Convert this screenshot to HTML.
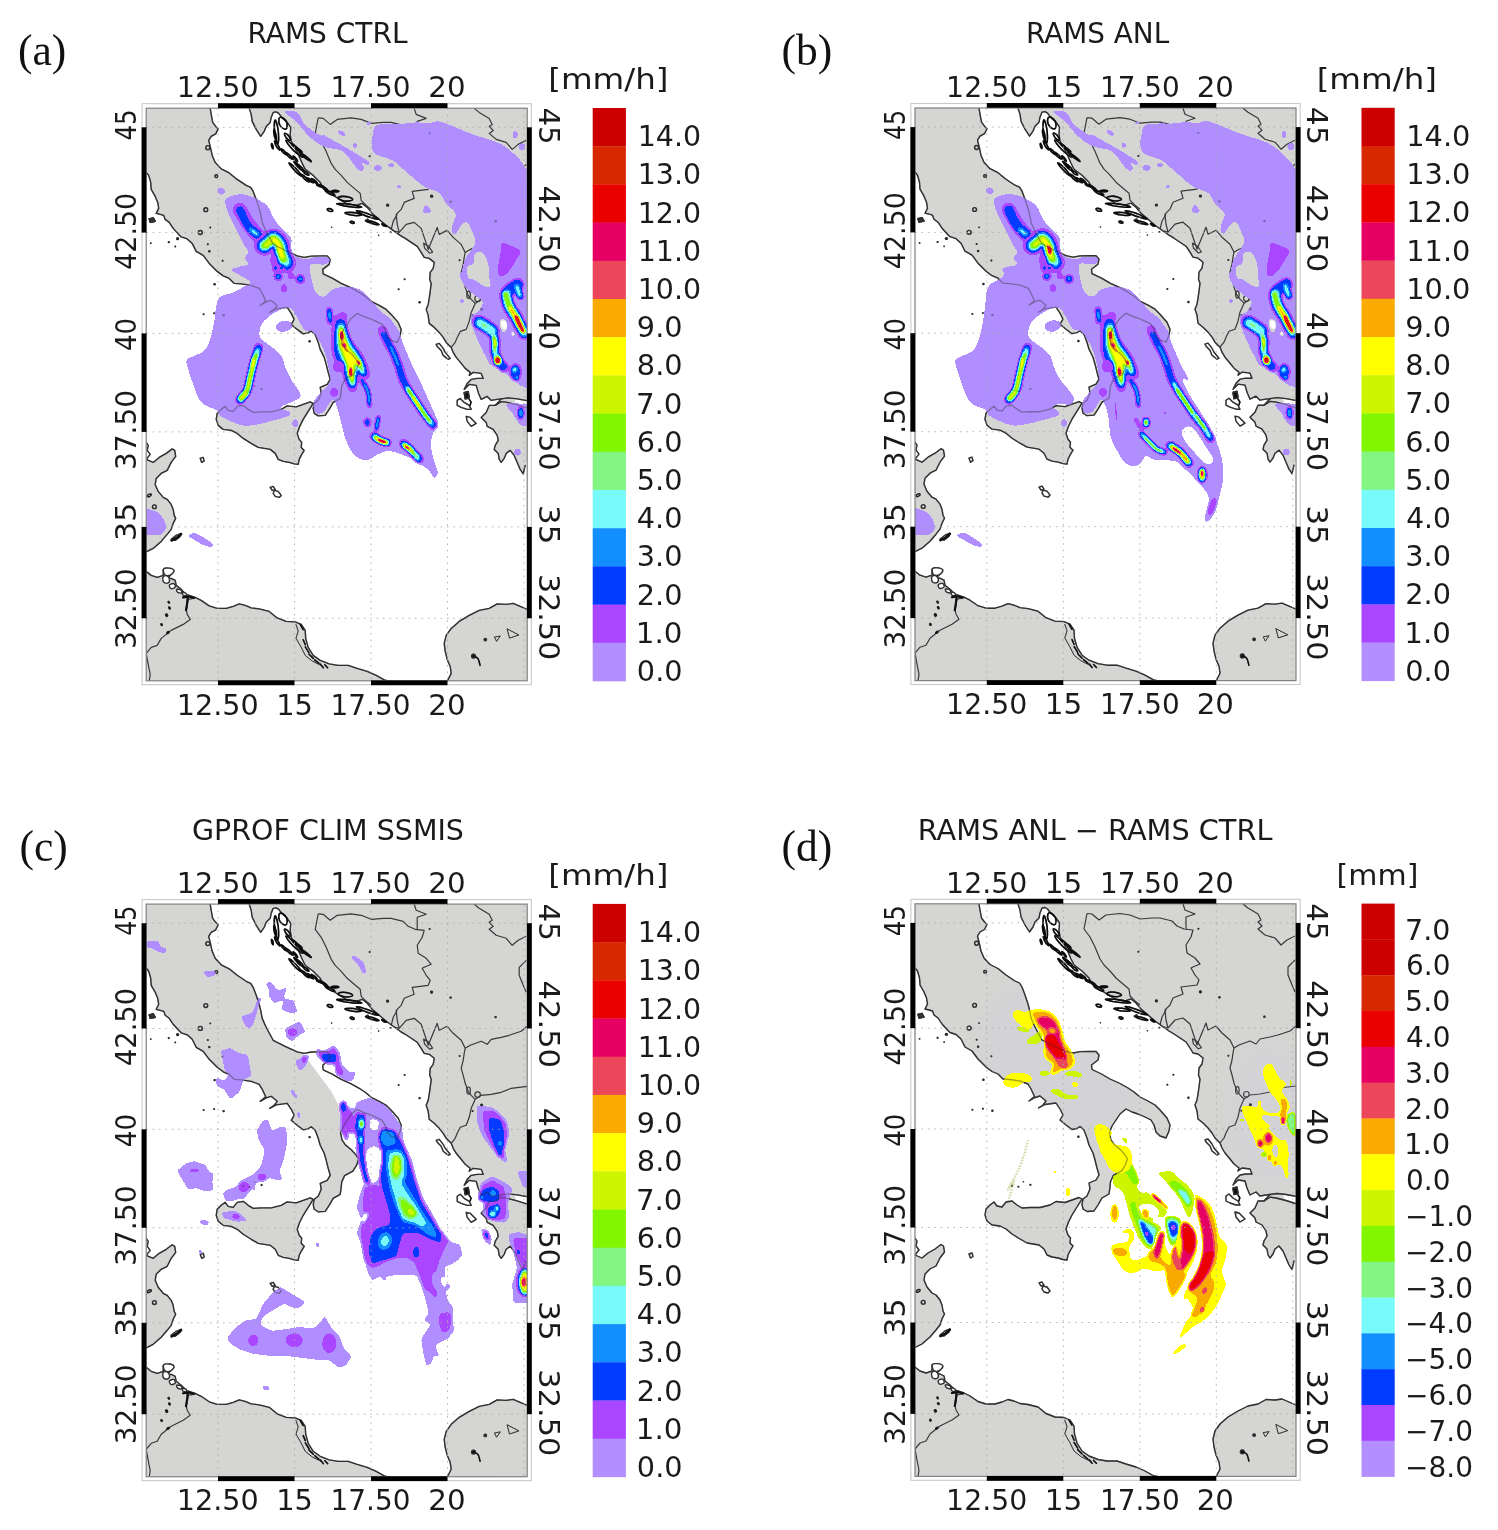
<!DOCTYPE html>
<html><head><meta charset="utf-8"><title>RAMS precipitation maps</title>
<style>
html,body{margin:0;padding:0;background:#fff}
svg{display:block}
.t{font-family:"DejaVu Sans","Liberation Sans",sans-serif;fill:#1a1a1a}
.s{font-family:"Liberation Serif","DejaVu Serif",serif;fill:#111}
</style></head><body>
<svg width="1498" height="1530" viewBox="0 0 1498 1530">
<rect width="1498" height="1530" fill="#fff"/>
<defs>
<clipPath id="clip"><rect x="4.6" y="5.0" width="381.0" height="572.6"/></clipPath>
<filter id="soft" x="-5%" y="-5%" width="110%" height="110%"><feGaussianBlur stdDeviation="0.7"/></filter>
<filter id="soft2" x="-5%" y="-5%" width="110%" height="110%"><feGaussianBlur stdDeviation="0.45"/></filter>

<filter id="cmA" filterUnits="userSpaceOnUse" x="-12" y="-12" width="414" height="606" color-interpolation-filters="sRGB"><feGaussianBlur stdDeviation="1.15"/><feColorMatrix type="matrix" values="1 0 0 0 0  0 1 0 0 0  0 0 1 0 0  1 0 0 0 0"/><feComponentTransfer><feFuncR type="discrete" tableValues="0 0.698 0.667 0.000 0.071 0.471 0.510 0.510 0.804 1.000 0.980 0.922 0.902 0.922 0.843 0.804"/><feFuncG type="discrete" tableValues="0 0.557 0.275 0.235 0.557 0.980 0.961 0.961 0.961 1.000 0.667 0.275 0.000 0.000 0.157 0.000"/><feFuncB type="discrete" tableValues="0 1.000 1.000 1.000 1.000 0.980 0.510 0.000 0.000 0.000 0.000 0.353 0.392 0.000 0.000 0.000"/><feFuncA type="discrete" tableValues="0 1 1 1 1 1 1 1 1 1 1 1 1 1 1 1"/></feComponentTransfer><feGaussianBlur stdDeviation="0.55"/></filter>
<filter id="cmC" filterUnits="userSpaceOnUse" x="-12" y="-12" width="414" height="606" color-interpolation-filters="sRGB"><feGaussianBlur stdDeviation="1.6"/><feColorMatrix type="matrix" values="1 0 0 0 0  0 1 0 0 0  0 0 1 0 0  1 0 0 0 0"/><feComponentTransfer><feFuncR type="discrete" tableValues="0 0.698 0.667 0.000 0.071 0.471 0.510 0.510 0.804 1.000 0.980 0.922 0.902 0.922 0.843 0.804"/><feFuncG type="discrete" tableValues="0 0.557 0.275 0.235 0.557 0.980 0.961 0.961 0.961 1.000 0.667 0.275 0.000 0.000 0.157 0.000"/><feFuncB type="discrete" tableValues="0 1.000 1.000 1.000 1.000 0.980 0.510 0.000 0.000 0.000 0.000 0.353 0.392 0.000 0.000 0.000"/><feFuncA type="discrete" tableValues="0 1 1 1 1 1 1 1 1 1 1 1 1 1 1 1"/></feComponentTransfer><feGaussianBlur stdDeviation="0.55"/></filter>
<filter id="cmP" filterUnits="userSpaceOnUse" x="-12" y="-12" width="414" height="606" color-interpolation-filters="sRGB"><feGaussianBlur stdDeviation="1.1"/><feColorMatrix type="matrix" values="1 0 0 0 0  0 1 0 0 0  0 0 1 0 0  1 0 0 0 0"/><feComponentTransfer><feFuncR type="discrete" tableValues="0 1.000 0.980 0.922 0.902 0.922 0.843 0.804 0.804"/><feFuncG type="discrete" tableValues="0 1.000 0.667 0.275 0.000 0.000 0.157 0.000 0.000"/><feFuncB type="discrete" tableValues="0 0.000 0.000 0.353 0.392 0.000 0.000 0.000 0.000"/><feFuncA type="discrete" tableValues="0 1 1 1 1 1 1 1 1"/></feComponentTransfer><feGaussianBlur stdDeviation="0.55"/></filter>
<filter id="cmN" filterUnits="userSpaceOnUse" x="-12" y="-12" width="414" height="606" color-interpolation-filters="sRGB"><feGaussianBlur stdDeviation="1.1"/><feColorMatrix type="matrix" values="1 0 0 0 0  0 1 0 0 0  0 0 1 0 0  1 0 0 0 0"/><feComponentTransfer><feFuncR type="discrete" tableValues="0 0.804 0.510 0.510 0.471 0.071 0.000 0.667 0.698"/><feFuncG type="discrete" tableValues="0 0.961 0.961 0.961 0.980 0.557 0.235 0.275 0.557"/><feFuncB type="discrete" tableValues="0 0.000 0.000 0.510 0.980 1.000 1.000 1.000 1.000"/><feFuncA type="discrete" tableValues="0 1 1 1 1 1 1 1 1"/></feComponentTransfer><feGaussianBlur stdDeviation="0.55"/></filter>
<clipPath id="italyclip"><path d="M4.6,5.0 L4.6,69.2 L4.6,69.2 L7.1,72.2 L9.1,79.2 L9.6,86.2 L13.6,93.2 L16.1,99.2 L17.1,105.2 L14.6,110.2 L18.6,111.2 L22.1,112.2 L23.6,116.2 L27.6,119.2 L31.6,125.2 L36.6,130.7 L39.6,133.7 L45.6,135.7 L50.6,140.2 L54.6,148.2 L61.6,152.2 L67.6,160.2 L75.6,168.2 L81.6,172.7 L87.6,175.2 L92.6,180.2 L99.6,180.7 L109.6,182.2 L117.6,185.2 L120.6,190.2 L124.1,197.7 L118.6,202.2 L124.6,198.7 L129.6,197.2 L135.6,202.2 L132.6,206.2 L128.1,209.2 L134.6,205.7 L145.6,204.2 L149.6,210.2 L152.6,216.2 L149.6,221.2 L155.6,226.2 L161.6,230.7 L166.6,229.7 L169.6,227.7 L173.6,231.2 L176.6,239.2 L178.6,246.2 L182.6,254.2 L184.6,261.2 L186.6,269.2 L188.6,276.2 L185.6,281.2 L178.6,284.2 L179.6,290.2 L176.6,297.2 L172.6,300.2 L171.6,305.2 L172.6,310.2 L176.6,312.7 L183.6,312.2 L187.6,306.2 L191.6,299.2 L198.6,295.2 L191.6,299.2 L198.6,295.2 L199.5,289.0 L200.1,283.0 L203.0,276.5 L211.3,272.0 L215.0,266.0 L217.0,260.0 L214.5,256.0 L209.7,250.6 L204.0,246.0 L200.5,241.0 L199.0,234.0 L201.6,227.2 L205.6,221.2 L209.6,215.2 L215.6,210.2 L221.6,213.2 L227.6,215.2 L234.6,218.2 L240.6,221.2 L243.6,226.2 L245.6,233.2 L249.6,237.2 L255.6,239.2 L258.6,232.2 L259.6,226.2 L256.6,219.2 L249.6,211.2 L244.6,206.2 L237.6,202.2 L229.6,198.2 L223.6,193.2 L217.6,189.2 L209.6,184.7 L199.6,180.2 L191.1,175.2 L181.6,170.7 L181.1,166.2 L187.6,161.2 L188.6,156.2 L185.6,152.7 L179.6,152.7 L169.6,152.9 L162.6,154.2 L155.6,152.7 L144.6,147.7 L131.6,141.2 L125.6,130.2 L123.6,126.2 L120.6,119.2 L119.1,111.2 L117.6,105.2 L114.6,96.2 L111.6,88.2 L109.1,84.2 L104.6,82.2 L95.6,76.2 L87.6,69.7 L79.6,65.7 L73.6,59.2 L70.6,52.2 L68.6,43.2 L67.1,37.2 L69.6,33.2 L74.1,30.7 L76.6,25.7 L74.1,23.2 L71.1,19.2 L69.6,11.2 L68.6,5.2 L68.6,5.0Z"/></clipPath><clipPath id="balkclip"><path d="M107.6,5.0 L107.6,5.2 L109.6,11.2 L110.6,18.2 L114.6,26.2 L119.1,33.2 L122.6,28.2 L124.6,23.2 L128.6,19.2 L129.6,14.2 L131.6,9.2 L134.6,8.7 L137.1,10.2 L140.6,14.7 L145.6,19.2 L149.1,24.2 L148.6,31.2 L149.6,38.2 L153.6,45.2 L157.6,53.2 L160.6,60.2 L163.6,66.2 L171.6,72.2 L178.6,79.2 L181.6,85.2 L187.6,89.7 L195.6,94.7 L204.6,100.2 L214.6,102.2 L220.6,100.2 L225.6,104.2 L230.6,110.2 L237.6,116.2 L244.6,122.2 L251.6,127.2 L258.6,132.2 L263.6,135.2 L269.6,139.2 L275.6,143.2 L279.6,149.2 L282.6,154.2 L287.6,155.2 L292.6,159.2 L291.6,165.2 L288.6,169.2 L288.1,176.2 L289.6,180.2 L288.6,188.2 L287.6,195.2 L286.6,201.2 L284.6,206.2 L286.6,212.2 L287.6,220.2 L292.6,224.2 L297.6,229.2 L301.6,234.2 L304.6,239.2 L309.6,244.2 L311.6,249.2 L314.6,254.2 L319.6,260.2 L323.6,265.2 L328.6,269.2 L327.6,272.2 L331.6,269.2 L339.6,270.2 L341.6,275.2 L335.6,275.2 L329.6,276.2 L325.6,280.2 L322.6,286.2 L327.6,281.2 L334.6,282.2 L336.6,289.2 L339.6,296.2 L345.6,293.2 L349.6,297.2 L355.6,296.2 L359.6,295.7 L353.6,302.2 L347.6,302.2 L344.6,309.2 L339.6,314.2 L344.6,319.2 L345.6,323.2 L351.6,326.2 L355.6,332.2 L356.6,337.2 L353.6,342.2 L352.6,346.2 L356.6,350.2 L357.6,356.2 L359.6,359.2 L362.6,355.2 L364.6,350.2 L368.6,347.2 L372.6,352.2 L375.6,359.2 L378.6,366.2 L381.6,370.7 L383.6,362.2 L385.6,356.2 L385.6,5.0Z"/></clipPath>
<filter id="soft3" x="-30%" y="-30%" width="160%" height="160%"><feGaussianBlur stdDeviation="9"/></filter>
<g id="land" fill="#d5d5d3" stroke="none">
<path d="M4.6,5.0 L4.6,69.2 L4.6,69.2 L7.1,72.2 L9.1,79.2 L9.6,86.2 L13.6,93.2 L16.1,99.2 L17.1,105.2 L14.6,110.2 L18.6,111.2 L22.1,112.2 L23.6,116.2 L27.6,119.2 L31.6,125.2 L36.6,130.7 L39.6,133.7 L45.6,135.7 L50.6,140.2 L54.6,148.2 L61.6,152.2 L67.6,160.2 L75.6,168.2 L81.6,172.7 L87.6,175.2 L92.6,180.2 L99.6,180.7 L109.6,182.2 L117.6,185.2 L120.6,190.2 L124.1,197.7 L118.6,202.2 L124.6,198.7 L129.6,197.2 L135.6,202.2 L132.6,206.2 L128.1,209.2 L134.6,205.7 L145.6,204.2 L149.6,210.2 L152.6,216.2 L149.6,221.2 L155.6,226.2 L161.6,230.7 L166.6,229.7 L169.6,227.7 L173.6,231.2 L176.6,239.2 L178.6,246.2 L182.6,254.2 L184.6,261.2 L186.6,269.2 L188.6,276.2 L185.6,281.2 L178.6,284.2 L179.6,290.2 L176.6,297.2 L172.6,300.2 L171.6,305.2 L172.6,310.2 L176.6,312.7 L183.6,312.2 L187.6,306.2 L191.6,299.2 L198.6,295.2 L191.6,299.2 L198.6,295.2 L199.5,289.0 L200.1,283.0 L203.0,276.5 L211.3,272.0 L215.0,266.0 L217.0,260.0 L214.5,256.0 L209.7,250.6 L204.0,246.0 L200.5,241.0 L199.0,234.0 L201.6,227.2 L205.6,221.2 L209.6,215.2 L215.6,210.2 L221.6,213.2 L227.6,215.2 L234.6,218.2 L240.6,221.2 L243.6,226.2 L245.6,233.2 L249.6,237.2 L255.6,239.2 L258.6,232.2 L259.6,226.2 L256.6,219.2 L249.6,211.2 L244.6,206.2 L237.6,202.2 L229.6,198.2 L223.6,193.2 L217.6,189.2 L209.6,184.7 L199.6,180.2 L191.1,175.2 L181.6,170.7 L181.1,166.2 L187.6,161.2 L188.6,156.2 L185.6,152.7 L179.6,152.7 L169.6,152.9 L162.6,154.2 L155.6,152.7 L144.6,147.7 L131.6,141.2 L125.6,130.2 L123.6,126.2 L120.6,119.2 L119.1,111.2 L117.6,105.2 L114.6,96.2 L111.6,88.2 L109.1,84.2 L104.6,82.2 L95.6,76.2 L87.6,69.7 L79.6,65.7 L73.6,59.2 L70.6,52.2 L68.6,43.2 L67.1,37.2 L69.6,33.2 L74.1,30.7 L76.6,25.7 L74.1,23.2 L71.1,19.2 L69.6,11.2 L68.6,5.2 L68.6,5.0Z"/>
<path d="M107.6,5.0 L107.6,5.2 L109.6,11.2 L110.6,18.2 L114.6,26.2 L119.1,33.2 L122.6,28.2 L124.6,23.2 L128.6,19.2 L129.6,14.2 L131.6,9.2 L134.6,8.7 L137.1,10.2 L140.6,14.7 L145.6,19.2 L149.1,24.2 L148.6,31.2 L149.6,38.2 L153.6,45.2 L157.6,53.2 L160.6,60.2 L163.6,66.2 L171.6,72.2 L178.6,79.2 L181.6,85.2 L187.6,89.7 L195.6,94.7 L204.6,100.2 L214.6,102.2 L220.6,100.2 L225.6,104.2 L230.6,110.2 L237.6,116.2 L244.6,122.2 L251.6,127.2 L258.6,132.2 L263.6,135.2 L269.6,139.2 L275.6,143.2 L279.6,149.2 L282.6,154.2 L287.6,155.2 L292.6,159.2 L291.6,165.2 L288.6,169.2 L288.1,176.2 L289.6,180.2 L288.6,188.2 L287.6,195.2 L286.6,201.2 L284.6,206.2 L286.6,212.2 L287.6,220.2 L292.6,224.2 L297.6,229.2 L301.6,234.2 L304.6,239.2 L309.6,244.2 L311.6,249.2 L314.6,254.2 L319.6,260.2 L323.6,265.2 L328.6,269.2 L327.6,272.2 L331.6,269.2 L339.6,270.2 L341.6,275.2 L335.6,275.2 L329.6,276.2 L325.6,280.2 L322.6,286.2 L327.6,281.2 L334.6,282.2 L336.6,289.2 L339.6,296.2 L345.6,293.2 L349.6,297.2 L355.6,296.2 L359.6,295.7 L353.6,302.2 L347.6,302.2 L344.6,309.2 L339.6,314.2 L344.6,319.2 L345.6,323.2 L351.6,326.2 L355.6,332.2 L356.6,337.2 L353.6,342.2 L352.6,346.2 L356.6,350.2 L357.6,356.2 L359.6,359.2 L362.6,355.2 L364.6,350.2 L368.6,347.2 L372.6,352.2 L375.6,359.2 L378.6,366.2 L381.6,370.7 L383.6,362.2 L385.6,356.2 L385.6,5.0Z"/>
<path d="M74.6,316.2 L75.6,310.2 L79.6,306.2 L83.6,303.2 L86.6,307.2 L91.6,308.2 L95.6,303.2 L101.6,302.2 L106.6,306.2 L111.6,309.2 L119.6,308.7 L129.6,308.7 L139.6,306.2 L145.6,302.7 L154.6,303.7 L161.6,301.2 L168.6,298.7 L171.6,300.2 L166.6,308.2 L161.6,316.2 L158.1,323.2 L155.6,330.2 L157.6,336.2 L160.1,339.2 L159.6,344.2 L162.6,347.2 L159.6,352.2 L157.6,356.2 L156.6,361.2 L152.6,360.7 L147.6,359.2 L141.6,358.2 L136.6,356.2 L133.6,350.2 L128.6,346.2 L119.6,344.7 L116.6,344.2 L109.6,340.2 L101.6,335.2 L95.6,330.2 L89.6,327.2 L81.6,326.2 L76.6,322.2Z"/>
<path d="M4.6,356.2 L11.6,359.2 L17.6,354.2 L24.6,350.2 L30.6,345.7 L33.1,347.2 L34.1,353.2 L29.6,359.2 L25.6,367.2 L19.6,370.2 L14.6,375.2 L13.6,381.2 L16.6,388.2 L21.6,394.2 L25.6,396.2 L29.6,401.2 L31.6,406.2 L32.6,412.2 L34.1,415.2 L31.6,420.2 L29.6,426.2 L25.6,431.2 L19.6,438.2 L11.6,445.2 L4.6,448.7Z"/>
<path d="M4.6,468.2 L9.6,472.2 L15.6,474.2 L21.6,472.2 L21.6,466.2 L28.6,465.2 L31.6,468.2 L28.6,472.2 L25.6,475.2 L29.6,475.2 L33.6,477.2 L34.6,482.2 L39.6,486.2 L44.6,491.2 L53.6,494.2 L59.6,497.2 L67.6,502.7 L75.6,505.2 L84.6,505.2 L91.6,503.2 L97.6,500.7 L103.6,502.2 L109.6,504.7 L117.6,505.7 L127.6,508.2 L135.6,514.7 L144.6,518.2 L153.6,518.7 L159.6,521.2 L163.6,527.2 L164.1,535.2 L166.6,544.2 L171.6,552.2 L178.6,557.2 L187.6,560.7 L196.6,562.2 L206.6,562.2 L215.6,565.2 L225.6,568.2 L234.6,572.2 L242.6,576.7 L248.6,578.2 L248.6,577.6 L4.6,577.6Z"/>
<path d="M305.6,578.2 L309.6,570.2 L308.6,563.2 L305.6,556.2 L303.6,548.2 L302.6,540.2 L304.6,532.2 L309.6,525.2 L317.6,518.2 L327.6,512.2 L337.6,507.2 L347.6,505.2 L355.6,500.7 L364.6,501.2 L371.6,500.2 L378.6,503.2 L385.6,506.2 L385.6,577.6Z"/>
<path d="M4.6,5.0 L4.6,339.2 L4.6,339.2 L6.6,342.2 L5.6,347.2 L8.6,351.2 L4.6,356.2 L4.6,356.2Z" fill="none"/>
<path d="M372.6,295.8 L379.6,296.5 L386.6,297.7 L386.6,305.2 L379.6,303.2 L374.6,301.2Z" fill="#fff"/>
</g>
<g id="coast" fill="none" stroke="#303030" stroke-width="1.35" stroke-linejoin="round" stroke-linecap="round">
<path d="M4.6,69.2 L7.1,72.2 L9.1,79.2 L9.6,86.2 L13.6,93.2 L16.1,99.2 L17.1,105.2 L14.6,110.2 L18.6,111.2 L22.1,112.2 L23.6,116.2 L27.6,119.2 L31.6,125.2 L36.6,130.7 L39.6,133.7 L45.6,135.7 L50.6,140.2 L54.6,148.2 L61.6,152.2 L67.6,160.2 L75.6,168.2 L81.6,172.7 L87.6,175.2 L92.6,180.2 L99.6,180.7 L109.6,182.2 L117.6,185.2 L120.6,190.2 L124.1,197.7 L118.6,202.2 L124.6,198.7 L129.6,197.2 L135.6,202.2 L132.6,206.2 L128.1,209.2 L134.6,205.7 L145.6,204.2 L149.6,210.2 L152.6,216.2 L149.6,221.2 L155.6,226.2 L161.6,230.7 L166.6,229.7 L169.6,227.7 L173.6,231.2 L176.6,239.2 L178.6,246.2 L182.6,254.2 L184.6,261.2 L186.6,269.2 L188.6,276.2 L185.6,281.2 L178.6,284.2 L179.6,290.2 L176.6,297.2 L172.6,300.2 L171.6,305.2 L172.6,310.2 L176.6,312.7 L183.6,312.2 L187.6,306.2 L191.6,299.2 L198.6,295.2 L191.6,299.2 L198.6,295.2 L199.5,289.0 L200.1,283.0 L203.0,276.5 L211.3,272.0 L215.0,266.0 L217.0,260.0 L214.5,256.0 L209.7,250.6 L204.0,246.0 L200.5,241.0 L199.0,234.0 L201.6,227.2 L205.6,221.2 L209.6,215.2 L215.6,210.2 L221.6,213.2 L227.6,215.2 L234.6,218.2 L240.6,221.2 L243.6,226.2 L245.6,233.2 L249.6,237.2 L255.6,239.2 L258.6,232.2 L259.6,226.2 L256.6,219.2 L249.6,211.2 L244.6,206.2 L237.6,202.2 L229.6,198.2 L223.6,193.2 L217.6,189.2 L209.6,184.7 L199.6,180.2 L191.1,175.2 L181.6,170.7 L181.1,166.2 L187.6,161.2 L188.6,156.2 L185.6,152.7 L179.6,152.7 L169.6,152.9 L162.6,154.2 L155.6,152.7 L144.6,147.7 L131.6,141.2 L125.6,130.2 L123.6,126.2 L120.6,119.2 L119.1,111.2 L117.6,105.2 L114.6,96.2 L111.6,88.2 L109.1,84.2 L104.6,82.2 L95.6,76.2 L87.6,69.7 L79.6,65.7 L73.6,59.2 L70.6,52.2 L68.6,43.2 L67.1,37.2 L69.6,33.2 L74.1,30.7 L76.6,25.7 L74.1,23.2 L71.1,19.2 L69.6,11.2 L68.6,5.2"/>
<path d="M107.6,5.2 L109.6,11.2 L110.6,18.2 L114.6,26.2 L119.1,33.2 L122.6,28.2 L124.6,23.2 L128.6,19.2 L129.6,14.2 L131.6,9.2 L134.6,8.7 L137.1,10.2 L140.6,14.7 L145.6,19.2 L149.1,24.2 L148.6,31.2 L149.6,38.2 L153.6,45.2 L157.6,53.2 L160.6,60.2 L163.6,66.2 L171.6,72.2 L178.6,79.2 L181.6,85.2 L187.6,89.7 L195.6,94.7 L204.6,100.2 L214.6,102.2 L220.6,100.2 L225.6,104.2 L230.6,110.2 L237.6,116.2 L244.6,122.2 L251.6,127.2 L258.6,132.2 L263.6,135.2 L269.6,139.2 L275.6,143.2 L279.6,149.2 L282.6,154.2 L287.6,155.2 L292.6,159.2 L291.6,165.2 L288.6,169.2 L288.1,176.2 L289.6,180.2 L288.6,188.2 L287.6,195.2 L286.6,201.2 L284.6,206.2 L286.6,212.2 L287.6,220.2 L292.6,224.2 L297.6,229.2 L301.6,234.2 L304.6,239.2 L309.6,244.2 L311.6,249.2 L314.6,254.2 L319.6,260.2 L323.6,265.2 L328.6,269.2 L327.6,272.2 L331.6,269.2 L339.6,270.2 L341.6,275.2 L335.6,275.2 L329.6,276.2 L325.6,280.2 L322.6,286.2 L327.6,281.2 L334.6,282.2 L336.6,289.2 L339.6,296.2 L345.6,293.2 L349.6,297.2 L355.6,296.2 L359.6,295.7 L353.6,302.2 L347.6,302.2 L344.6,309.2 L339.6,314.2 L344.6,319.2 L345.6,323.2 L351.6,326.2 L355.6,332.2 L356.6,337.2 L353.6,342.2 L352.6,346.2 L356.6,350.2 L357.6,356.2 L359.6,359.2 L362.6,355.2 L364.6,350.2 L368.6,347.2 L372.6,352.2 L375.6,359.2 L378.6,366.2 L381.6,370.7 L383.6,362.2"/>
<path d="M74.6,316.2 L75.6,310.2 L79.6,306.2 L83.6,303.2 L86.6,307.2 L91.6,308.2 L95.6,303.2 L101.6,302.2 L106.6,306.2 L111.6,309.2 L119.6,308.7 L129.6,308.7 L139.6,306.2 L145.6,302.7 L154.6,303.7 L161.6,301.2 L168.6,298.7 L171.6,300.2 L166.6,308.2 L161.6,316.2 L158.1,323.2 L155.6,330.2 L157.6,336.2 L160.1,339.2 L159.6,344.2 L162.6,347.2 L159.6,352.2 L157.6,356.2 L156.6,361.2 L152.6,360.7 L147.6,359.2 L141.6,358.2 L136.6,356.2 L133.6,350.2 L128.6,346.2 L119.6,344.7 L116.6,344.2 L109.6,340.2 L101.6,335.2 L95.6,330.2 L89.6,327.2 L81.6,326.2 L76.6,322.2 L74.6,316.2"/>
<path d="M4.6,356.2 L11.6,359.2 L17.6,354.2 L24.6,350.2 L30.6,345.7 L33.1,347.2 L34.1,353.2 L29.6,359.2 L25.6,367.2 L19.6,370.2 L14.6,375.2 L13.6,381.2 L16.6,388.2 L21.6,394.2 L25.6,396.2 L29.6,401.2 L31.6,406.2 L32.6,412.2 L34.1,415.2 L31.6,420.2 L29.6,426.2 L25.6,431.2 L19.6,438.2 L11.6,445.2 L4.6,448.7"/>
<path d="M4.6,468.2 L9.6,472.2 L15.6,474.2 L21.6,472.2 L21.6,466.2 L28.6,465.2 L31.6,468.2 L28.6,472.2 L25.6,475.2 L29.6,475.2 L33.6,477.2 L34.6,482.2 L39.6,486.2 L44.6,491.2 L53.6,494.2 L59.6,497.2 L67.6,502.7 L75.6,505.2 L84.6,505.2 L91.6,503.2 L97.6,500.7 L103.6,502.2 L109.6,504.7 L117.6,505.7 L127.6,508.2 L135.6,514.7 L144.6,518.2 L153.6,518.7 L159.6,521.2 L163.6,527.2 L164.1,535.2 L166.6,544.2 L171.6,552.2 L178.6,557.2 L187.6,560.7 L196.6,562.2 L206.6,562.2 L215.6,565.2 L225.6,568.2 L234.6,572.2 L242.6,576.7 L248.6,578.2"/>
<path d="M305.6,578.2 L309.6,570.2 L308.6,563.2 L305.6,556.2 L303.6,548.2 L302.6,540.2 L304.6,532.2 L309.6,525.2 L317.6,518.2 L327.6,512.2 L337.6,507.2 L347.6,505.2 L355.6,500.7 L364.6,501.2 L371.6,500.2 L378.6,503.2 L385.6,506.2"/>
<path d="M4.6,339.2 L6.6,342.2 L5.6,347.2 L8.6,351.2 L4.6,356.2"/>
<path d="M359.6,295.7 L366.6,294.7 L375.6,295.7 L386.6,297.7"/>
<path d="M353.6,302.2 L359.6,298.4 L365.6,299.2 L375.6,301.7 L386.6,305.2"/>
<path d="M294.6,241.2 L297.6,240.2 L301.6,245.2 L303.6,249.2 L308.6,255.2 L306.6,256.2 L301.6,252.2 L299.6,247.2 L295.6,243.2Z"/>
<path d="M315.6,297.2 L318.6,295.2 L322.6,299.2 L327.6,302.2 L329.6,306.2 L325.6,306.2 L319.6,304.2 L315.6,302.2Z"/>
<path d="M324.6,313.2 L328.6,314.2 L334.6,320.2 L329.6,323.2 L325.6,318.2Z"/>
<path d="M322.6,289.2 L326.6,288.2 L327.6,294.2 L323.6,295.2Z"/>
<path d="M128.6,384.2 L131.6,383.2 L133.6,386.2 L130.6,387.2Z"/>
<path d="M132.6,387.2 L136.6,388.2 L139.6,392.2 L137.6,394.2 L133.6,393.2 L131.6,390.2Z"/>
<path d="M58.6,355.2 L61.6,354.2 L62.6,357.7 L60.1,359.2Z"/>
<path d="M7.6,115.7 L11.6,114.7 L13.6,118.2 L8.6,119.2Z"/>
<path d="M29.6,436.2 L34.6,432.2 L39.6,430.2 L38.6,433.2 L33.6,437.2Z"/>
<g stroke="#0a0a0a" stroke-width="1.6">
<path d="M133.6,16.8 C133.0,16.9 132.6,21.3 132.7,24.1 C132.7,26.8 133.1,30.8 133.7,33.5 C134.2,36.2 135.5,40.5 136.1,40.4 C136.7,40.3 137.1,35.9 137.0,33.1 C137.0,30.4 136.6,26.4 136.0,23.7 C135.5,21.0 134.2,16.7 133.6,16.8Z"/>
<path d="M132.4,26.3 C132.1,26.4 132.1,28.4 132.2,29.7 C132.4,30.9 132.7,32.7 133.1,33.9 C133.5,35.2 134.2,37.1 134.5,37.0 C134.8,36.9 134.8,34.9 134.7,33.6 C134.5,32.4 134.2,30.6 133.8,29.4 C133.4,28.1 132.7,26.2 132.4,26.3Z"/>
<path d="M133.0,37.9 C132.7,38.1 133.3,39.9 133.8,41.1 C134.3,42.2 135.1,43.7 135.9,44.7 C136.6,45.6 137.9,47.1 138.2,46.9 C138.5,46.7 137.9,44.9 137.4,43.7 C136.9,42.6 136.1,41.1 135.3,40.1 C134.6,39.2 133.3,37.7 133.0,37.9Z"/>
<path d="M138.5,14.2 C137.5,14.7 137.1,17.6 137.3,19.2 C137.5,20.8 138.4,22.7 139.6,23.8 C140.8,24.9 143.3,26.3 144.3,25.8 C145.3,25.3 145.7,22.4 145.5,20.8 C145.3,19.2 144.4,17.3 143.2,16.2 C142.0,15.1 139.5,13.7 138.5,14.2Z"/>
<path d="M143.1,30.1 C142.7,30.4 143.2,32.1 143.7,33.0 C144.1,34.0 145.0,35.1 145.9,35.8 C146.7,36.5 148.2,37.3 148.6,37.0 C149.0,36.7 148.5,35.0 148.0,34.1 C147.6,33.1 146.7,32.0 145.8,31.3 C145.0,30.6 143.5,29.8 143.1,30.1Z"/>
<path d="M144.3,37.0 C143.9,37.4 146.5,41.0 148.3,43.2 C150.1,45.4 152.9,48.2 155.1,50.0 C157.2,51.8 160.8,54.5 161.2,54.1 C161.6,53.7 159.0,50.1 157.2,47.9 C155.4,45.7 152.6,42.9 150.4,41.1 C148.3,39.3 144.7,36.6 144.3,37.0Z"/>
<path d="M149.8,40.4 C149.7,40.6 150.6,41.8 151.2,42.5 C151.9,43.2 152.9,44.1 153.7,44.6 C154.5,45.1 155.9,45.8 156.0,45.6 C156.1,45.4 155.2,44.2 154.6,43.5 C153.9,42.8 152.9,41.9 152.1,41.4 C151.3,40.9 149.9,40.2 149.8,40.4Z"/>
<path d="M139.1,45.6 C138.9,45.8 139.8,47.2 140.4,48.0 C141.0,48.8 142.0,49.8 142.8,50.4 C143.6,51.0 145.0,51.8 145.2,51.6 C145.4,51.4 144.5,50.0 143.9,49.2 C143.3,48.4 142.3,47.4 141.5,46.8 C140.7,46.2 139.3,45.4 139.1,45.6Z"/>
<path d="M143.7,49.0 C143.5,49.2 144.7,50.8 145.5,51.7 C146.3,52.7 147.6,53.9 148.5,54.6 C149.5,55.4 151.2,56.4 151.4,56.2 C151.6,56.0 150.4,54.4 149.6,53.5 C148.8,52.5 147.5,51.3 146.6,50.6 C145.6,49.8 143.9,48.8 143.7,49.0Z"/>
<path d="M147.4,59.7 C147.2,59.9 149.1,62.7 150.4,64.3 C151.8,66.0 153.8,68.1 155.4,69.6 C157.0,71.0 159.7,73.0 159.9,72.8 C160.1,72.6 158.2,69.8 156.9,68.2 C155.5,66.5 153.5,64.4 151.9,62.9 C150.3,61.5 147.6,59.5 147.4,59.7Z"/>
<path d="M152.3,58.4 C152.1,58.6 153.1,60.0 153.8,60.8 C154.5,61.7 155.6,62.7 156.5,63.4 C157.4,64.0 158.8,65.0 159.0,64.8 C159.2,64.6 158.2,63.2 157.5,62.4 C156.8,61.5 155.7,60.5 154.8,59.8 C153.9,59.2 152.5,58.2 152.3,58.4Z"/>
<path d="M154.4,60.5 C154.2,60.7 155.2,62.4 156.0,63.4 C156.8,64.4 158.1,65.6 159.1,66.3 C160.1,67.0 161.9,67.9 162.1,67.7 C162.3,67.5 161.3,65.8 160.5,64.8 C159.7,63.8 158.4,62.6 157.4,61.9 C156.4,61.2 154.6,60.3 154.4,60.5Z"/>
<path d="M161.5,67.7 C161.3,67.9 162.1,69.1 162.7,69.7 C163.3,70.3 164.3,71.1 165.0,71.4 C165.8,71.8 167.1,72.2 167.3,72.0 C167.5,71.8 166.7,70.6 166.1,70.0 C165.5,69.4 164.5,68.6 163.8,68.3 C163.0,67.9 161.7,67.5 161.5,67.7Z"/>
<path d="M159.6,71.1 C159.4,71.3 160.5,73.0 161.3,74.0 C162.1,75.0 163.4,76.3 164.4,77.1 C165.4,77.8 167.1,78.9 167.3,78.7 C167.5,78.5 166.4,76.8 165.6,75.8 C164.8,74.8 163.5,73.5 162.5,72.7 C161.5,72.0 159.8,70.9 159.6,71.1Z"/>
<path d="M151.4,52.8 C151.2,52.9 151.8,54.2 152.2,54.9 C152.7,55.7 153.5,56.6 154.1,57.2 C154.7,57.7 155.8,58.5 156.0,58.4 C156.2,58.3 155.6,57.0 155.2,56.3 C154.7,55.5 153.9,54.6 153.3,54.0 C152.7,53.5 151.6,52.7 151.4,52.8Z"/>
<path d="M165.1,74.5 C164.9,74.7 165.9,76.0 166.7,76.7 C167.4,77.4 168.5,78.2 169.4,78.7 C170.3,79.2 171.7,79.8 171.9,79.6 C172.1,79.4 171.1,78.1 170.3,77.4 C169.6,76.7 168.5,75.9 167.6,75.4 C166.7,74.9 165.3,74.3 165.1,74.5Z"/>
<path d="M169.7,75.3 C169.6,75.5 170.5,76.7 171.1,77.4 C171.8,78.1 172.8,78.9 173.6,79.4 C174.4,79.9 175.8,80.6 175.9,80.4 C176.0,80.2 175.1,79.0 174.5,78.3 C173.8,77.6 172.8,76.8 172.0,76.3 C171.2,75.8 169.8,75.1 169.7,75.3Z"/>
<path d="M174.9,81.3 C174.8,81.6 176.0,82.4 176.8,82.8 C177.5,83.2 178.7,83.6 179.6,83.8 C180.5,84.0 181.9,84.1 182.0,83.8 C182.1,83.5 180.9,82.7 180.1,82.3 C179.4,81.9 178.2,81.5 177.3,81.3 C176.4,81.1 175.0,81.0 174.9,81.3Z"/>
<path d="M183.5,87.2 C183.3,87.5 184.9,88.9 186.0,89.6 C187.1,90.3 188.7,91.2 189.9,91.6 C191.1,92.0 193.1,92.5 193.3,92.2 C193.5,91.9 191.9,90.5 190.8,89.8 C189.7,89.1 188.1,88.2 186.9,87.8 C185.7,87.4 183.7,86.9 183.5,87.2Z"/>
<path d="M196.4,94.7 C196.3,95.4 198.9,96.7 200.5,97.2 C202.2,97.7 204.6,98.0 206.4,97.9 C208.1,97.7 210.9,97.1 211.0,96.4 C211.1,95.7 208.5,94.4 206.9,93.9 C205.2,93.4 202.8,93.1 201.0,93.2 C199.3,93.4 196.5,94.0 196.4,94.7Z"/>
<path d="M195.1,100.6 C195.1,101.0 199.6,102.1 202.5,102.7 C205.4,103.2 209.6,103.8 212.5,104.0 C215.5,104.2 220.2,104.3 220.2,103.9 C220.2,103.5 215.7,102.4 212.8,101.8 C209.9,101.3 205.7,100.7 202.8,100.5 C199.8,100.3 195.1,100.2 195.1,100.6Z"/>
<path d="M185.6,106.0 C185.5,106.4 186.3,107.3 186.9,107.7 C187.5,108.0 188.5,108.3 189.2,108.3 C189.9,108.3 191.1,108.1 191.2,107.7 C191.3,107.3 190.5,106.4 189.9,106.0 C189.3,105.7 188.3,105.4 187.6,105.4 C186.9,105.4 185.7,105.6 185.6,106.0Z"/>
<path d="M203.4,109.8 C203.4,110.2 206.4,111.2 208.3,111.6 C210.2,112.1 213.0,112.4 215.0,112.5 C217.0,112.5 220.2,112.3 220.2,111.9 C220.2,111.5 217.2,110.5 215.3,110.1 C213.4,109.6 210.6,109.3 208.6,109.2 C206.6,109.2 203.4,109.4 203.4,109.8Z"/>
<path d="M214.7,107.7 C214.6,108.1 218.5,110.2 221.0,111.3 C223.5,112.5 227.3,113.9 230.0,114.6 C232.6,115.4 237.0,116.4 237.1,116.0 C237.2,115.6 233.3,113.5 230.8,112.4 C228.3,111.2 224.5,109.8 221.8,109.1 C219.2,108.3 214.8,107.3 214.7,107.7Z"/>
<path d="M223.9,117.3 C223.8,117.6 226.2,118.8 227.7,119.4 C229.2,120.0 231.5,120.7 233.1,121.0 C234.7,121.4 237.3,121.7 237.4,121.4 C237.5,121.1 235.1,119.9 233.6,119.3 C232.1,118.7 229.8,118.0 228.2,117.7 C226.6,117.3 224.0,117.0 223.9,117.3Z"/>
<path d="M208.6,118.5 C208.5,118.8 209.1,119.5 209.5,119.7 C209.9,120.0 210.6,120.3 211.1,120.3 C211.6,120.3 212.5,120.1 212.6,119.8 C212.7,119.5 212.1,118.8 211.7,118.6 C211.3,118.3 210.6,118.0 210.1,118.0 C209.6,118.0 208.7,118.2 208.6,118.5Z"/>
<path d="M240.1,120.6 C240.0,120.8 240.7,121.5 241.2,121.9 C241.7,122.3 242.4,122.7 243.0,122.9 C243.6,123.1 244.6,123.3 244.7,123.1 C244.8,122.9 244.1,122.2 243.6,121.8 C243.1,121.4 242.4,121.0 241.8,120.8 C241.2,120.6 240.2,120.4 240.1,120.6Z"/>
<path d="M189.6,88.0 C189.6,88.2 191.0,88.6 191.9,88.7 C192.8,88.8 194.1,88.8 195.0,88.7 C195.9,88.6 197.3,88.2 197.3,88.0 C197.3,87.8 195.9,87.4 195.0,87.3 C194.1,87.2 192.8,87.2 191.9,87.3 C191.0,87.4 189.6,87.8 189.6,88.0Z"/>
<path d="M180.4,82.9 C180.3,83.1 181.2,84.3 181.8,85.0 C182.5,85.7 183.5,86.5 184.3,87.0 C185.1,87.5 186.5,88.2 186.6,88.0 C186.7,87.8 185.8,86.6 185.2,85.9 C184.5,85.2 183.5,84.4 182.7,83.9 C181.9,83.4 180.5,82.7 180.4,82.9Z"/>
<path d="M130.0,40.4 C129.8,40.5 129.8,41.5 129.9,42.1 C130.0,42.8 130.2,43.6 130.5,44.2 C130.7,44.8 131.3,45.7 131.5,45.6 C131.7,45.5 131.7,44.5 131.6,43.9 C131.5,43.2 131.3,42.4 131.0,41.8 C130.8,41.2 130.2,40.3 130.0,40.4Z"/>
<path d="M157.5,49.0 C157.4,49.2 159.4,51.2 160.7,52.4 C162.1,53.6 164.1,55.1 165.6,56.1 C167.1,57.1 169.6,58.6 169.7,58.4 C169.8,58.2 167.8,56.2 166.5,55.0 C165.1,53.8 163.1,52.3 161.6,51.3 C160.1,50.3 157.6,48.8 157.5,49.0Z"/>
<path d="M152.9,43.4 C152.8,43.6 154.0,44.8 154.9,45.6 C155.7,46.3 157.0,47.2 157.9,47.8 C158.9,48.4 160.5,49.2 160.6,49.0 C160.7,48.8 159.5,47.6 158.6,46.8 C157.8,46.1 156.5,45.2 155.6,44.6 C154.6,44.0 153.0,43.2 152.9,43.4Z"/>
</g>
<g fill="#fff">
<path d="M22.1,465.7 C22.8,464.7 25.5,464.7 27.2,464.9 C28.9,465.1 31.6,465.8 32.2,466.7 C32.8,467.6 31.8,469.3 30.8,470.3 C29.8,471.3 27.7,472.4 26.4,472.5 C25.1,472.6 23.5,472.1 22.8,471.0 C22.1,469.9 21.4,466.7 22.1,465.7Z"/>
<path d="M21.4,473.9 C21.9,472.8 23.9,472.1 25.0,472.5 C26.1,472.9 27.7,474.9 27.9,476.1 C28.1,477.3 27.4,479.2 26.4,479.7 C25.4,480.2 22.9,479.9 22.1,478.9 C21.3,477.9 20.9,475.0 21.4,473.9Z"/>
<path d="M27.9,481.8 C28.4,481.0 31.3,480.0 32.2,480.4 C33.2,480.8 34.1,483.2 33.6,484.0 C33.1,484.8 30.2,485.8 29.3,485.4 C28.4,485.0 27.4,482.6 27.9,481.8Z"/>
<path d="M35.1,486.1 C35.6,485.8 38.6,486.3 39.4,486.9 C40.2,487.5 40.6,489.3 40.1,489.7 C39.6,490.1 36.9,489.6 36.1,489.0 C35.3,488.4 34.6,486.5 35.1,486.1Z"/>
<path d="M40.8,489.3 C41.3,489.0 43.8,489.6 44.4,490.2 C45.0,490.8 45.2,492.3 44.7,492.6 C44.2,492.9 42.1,492.4 41.5,491.9 C40.9,491.3 40.3,489.6 40.8,489.3Z"/>
</g>
<g stroke="#111" stroke-width="2.1">
<path d="M41.5,494.2 L47.3,493.3 L52.5,494.8"/><path d="M46.1,494.8 L45.3,502.0 L44.4,507.1"/>
<path d="M30.0,437.3 L35.1,434.7 L39.5,430.9" stroke-width="2.4"/>
</g>
<g fill="#1a1a1a" stroke="none">
<ellipse cx="27.2" cy="499.1" rx="1.2" ry="1.6" transform="rotate(-35 27.2 499.1)"/>
<ellipse cx="27.9" cy="504.8" rx="1.3" ry="1.8" transform="rotate(-35 27.9 504.8)"/>
<ellipse cx="25.0" cy="512.0" rx="1.6" ry="1.9" transform="rotate(-35 25.0 512.0)"/>
<ellipse cx="20.0" cy="521.4" rx="1.3" ry="1.6" transform="rotate(-35 20.0 521.4)"/>
<ellipse cx="26.4" cy="529.3" rx="2.0" ry="1.4" transform="rotate(-35 26.4 529.3)"/>
<ellipse cx="7.7" cy="392.1" rx="2.2" ry="1.1" transform="rotate(-25 7.7 392.1)" fill="none" stroke="#222"/>
</g>
<path d="M154.4,521.4 L156.6,527.8 L154.4,535.0 L159.4,543.7 L163.7,552.3 L170.9,558.0 L179.6,562.3" stroke-width="0.9"/>
<g stroke="#111" stroke-width="1.5">
<path d="M158.7,521.4 L161.6,526.4"/>
<path d="M161.6,536.5 L163.7,541.5"/>
<path d="M163.7,543.7 L167.3,549.4"/>
<path d="M167.3,550.8 L171.7,555.2"/>
<path d="M173.1,556.6 L177.4,560.2"/>
<path d="M178.8,560.9 L181.7,564.5"/>
<path d="M183.2,561.6 L186.0,564.5"/>
</g>
<path d="M365.8,525.8 L377.3,531.8 L368.3,534.8Z" stroke-width="0.9"/><path d="M353.2,533.8 L358.7,532.8 L355.2,537.8Z" stroke-width="0.9"/>
<circle cx="343.7" cy="536.3" r="1.2" fill="#222"/>
<circle cx="331.9" cy="552.9" r="1.9" fill="#111"/>
<path d="M332.7,553.2 C333.3,553.6 335.5,554.1 336.5,555.6 C337.5,557.1 338.2,561.1 338.5,562.2" stroke-width="1.5" stroke="#111"/>
<path d="M322.6,289.8 l4,-1 l1,6 l-4,1z" fill="#111"/><path d="M327.5,296 l2,3 l-1,3" stroke="#111" stroke-width="1.5"/>
<path d="M7.6,115.7 l4,-1 l2,3.5 l-5,1z" fill="#333"/>
<circle cx="66.2" cy="44.5" r="2"/>
<circle cx="74.7" cy="73" r="1.4"/>
<circle cx="64.2" cy="106.5" r="1.9"/>
<circle cx="58.7" cy="129.3" r="2.0"/>
<circle cx="12.8" cy="403.5" r="1.9"/>
<g fill="#2a2a2a" stroke="none">
<circle cx="68.7" cy="124.3" r="0.9"/>
<circle cx="66.2" cy="141" r="1"/>
<circle cx="67.7" cy="148" r="1.2"/>
<circle cx="9.2" cy="140" r="0.9"/>
<circle cx="27.2" cy="139" r="1.1"/>
<circle cx="33.7" cy="143.3" r="0.9"/>
<circle cx="36" cy="135.5" r="1.6"/>
<circle cx="81" cy="157.5" r="1"/>
<circle cx="62" cy="211" r="1"/>
<circle cx="72.5" cy="210" r="1"/>
<circle cx="82" cy="212" r="1.2"/>
<circle cx="73" cy="181" r="1.2"/>
<circle cx="168" cy="238" r="1.2"/>
<circle cx="120" cy="286" r="1.1"/>
<circle cx="108" cy="288" r="1"/>
<circle cx="101.5" cy="287" r="1"/>
<circle cx="113" cy="283" r="0.8"/>
<circle cx="263" cy="176" r="1"/>
<circle cx="257" cy="186" r="1"/>
<circle cx="290" cy="93" r="1.6"/>
<circle cx="309" cy="98.5" r="1.2"/>
<circle cx="246" cy="102" r="1.6"/>
<circle cx="278" cy="199" r="1.2"/>
<circle cx="237" cy="132" r="0.8"/>
<circle cx="249" cy="129" r="1"/>
<circle cx="354" cy="118" r="1.2"/>
<circle cx="331" cy="212" r="1"/>
<circle cx="340" cy="206" r="1.5"/>
<circle cx="318" cy="157" r="1"/>
<circle cx="226" cy="116.5" r="1.2"/>
<circle cx="190" cy="124" r="0.8"/>
<circle cx="228" cy="53" r="1"/>
<circle cx="288" cy="30" r="1"/>
</g>
</g>
<g id="bord" fill="none" stroke="#383838" stroke-width="1.2" stroke-linejoin="round">
<path d="M176.6,14.7 L173.6,30.2 L179.6,38.2 L184.6,48.2 L189.6,60.2 L193.6,66.2 L199.6,72.2 L205.6,79.2 L212.6,85.2 L218.6,90.2 L219.6,97.2 L224.6,102.2 L229.6,106.2"/>
<path d="M176.6,14.7 L181.6,15.2 L188.6,21.2 L195.6,16.2 L209.6,14.7 L219.6,16.2 L229.6,20.2 L241.6,19.2 L249.6,19.2 L261.6,22.2 L266.6,27.2 L273.6,30.2 L282.6,31.2 L280.6,38.2 L275.6,46.2 L276.6,54.2 L284.6,59.2 L289.6,65.2 L282.6,68.2 L280.6,69.2 L284.6,76.2 L288.6,81.2 L286.6,86.2 L270.6,88.2 L272.6,95.2 L262.6,99.2 L259.6,106.2 L254.6,111.2 L255.6,121.2 L257.6,129.2 L253.6,128.2"/>
<path d="M272.6,5.2 L274.6,11.2 L284.6,15.2 L275.6,18.2 L275.6,30.2"/>
<path d="M332.6,5.2 L337.6,9.2 L347.6,15.2 L350.6,21.2 L347.6,23.2 L351.6,27.2 L347.6,30.2 L354.6,36.2 L364.6,39.2 L370.6,46.2 L376.6,41.2 L384.6,37.2"/>
<path d="M384.6,61.2 L377.6,68.2 L377.6,76.2 L381.6,86.2 L384.6,93.2"/>
<path d="M257.6,129.2 L264.6,121.2 L272.6,119.2 L279.6,125.2 L286.6,146.2 L295.6,124.2 L297.6,131.2 L305.6,127.2 L311.6,134.2 L319.6,141.2 L323.6,149.2 L322.6,154.2 L321.6,161.2 L319.6,169.2 L321.6,176.2 L323.6,184.2 L326.6,192.2 L329.6,196.2 L333.6,200.2 L329.6,209.2 L327.6,218.2 L324.6,226.2 L318.6,228.2 L315.6,234.2 L313.6,239.2 L309.6,244.2"/>
<path d="M323.6,149.2 L328.6,146.2 L339.6,142.2 L345.6,145.2 L349.6,140.2 L359.6,138.2 L367.6,136.2 L379.6,132.2 L385.6,127.2"/>
<path d="M333.6,200.2 L339.6,196.2 L349.6,195.2 L359.6,193.2 L369.6,189.2 L385.6,187.2"/>
<path d="M249.6,126.2 L251.6,118.2 L255.6,111.2"/>
<path d="M51.6,495.2 L46.6,496.2 L44.6,506.2 L45.6,511.2 L48.6,516.2 L41.6,521.2 L29.6,527.2 L19.6,535.2 L15.6,542.2 L9.6,544.2 L4.6,550.2"/>
<path d="M4.6,550.2 L6.6,561.2 L8.6,571.2 L7.6,578.2"/>
<ellipse cx="327" cy="191.5" rx="1.8" ry="3.6"/><circle cx="336" cy="195.5" r="2.8"/><path d="M282,140 l5,3 l4,6 l-3,1 l-5,-5z"/>
</g>
<g id="grid" stroke="#a9a9a9" stroke-width="1" stroke-dasharray="1.6 4.8" fill="none" opacity="0.85">
<path d="M76.4,5.0V577.6"/>
<path d="M152.9,5.0V577.6"/>
<path d="M229.4,5.0V577.6"/>
<path d="M305.9,5.0V577.6"/>
<path d="M382.4,5.0V577.6"/>
<path d="M4.6,24.1H385.6"/>
<path d="M4.6,129.4H385.6"/>
<path d="M4.6,230.2H385.6"/>
<path d="M4.6,328.7H385.6"/>
<path d="M4.6,423.7H385.6"/>
<path d="M4.6,515.1H385.6"/>
</g>
<g id="frame">
<rect x="0.5" y="0.5" width="389.2" height="581.0" fill="none" stroke="#c9c9c9" stroke-width="1.1"/>
<rect x="4.6" y="5.0" width="381.0" height="572.6" fill="none" stroke="#808080" stroke-width="1.2"/>
<rect x="76.4" y="0" width="76.5" height="4.8" fill="#000"/>
<rect x="76.4" y="577.2" width="76.5" height="4.8" fill="#000"/>
<rect x="229.4" y="0" width="76.49999999999997" height="4.8" fill="#000"/>
<rect x="229.4" y="577.2" width="76.49999999999997" height="4.8" fill="#000"/>
<rect x="0" y="24.1" width="4.8" height="105.30000000000001" fill="#000"/>
<rect x="385.4" y="24.1" width="4.8" height="105.30000000000001" fill="#000"/>
<rect x="0" y="230.2" width="4.8" height="98.5" fill="#000"/>
<rect x="385.4" y="230.2" width="4.8" height="98.5" fill="#000"/>
<rect x="0" y="423.7" width="4.8" height="91.40000000000003" fill="#000"/>
<rect x="385.4" y="423.7" width="4.8" height="91.40000000000003" fill="#000"/>
</g>
</defs>
<g transform="translate(141.6,103.2)">
<g clip-path="url(#clip)">
<use href="#land"/><use href="#bord"/><use href="#coast" filter="url(#soft2)"/>
<g filter="url(#cmA)"><rect x="-12" y="-12" width="414" height="606" fill="#000"/><path d="M233.5,22.2 C236.2,20.3 242.4,20.5 246.8,20.2 C251.2,19.9 255.8,20.4 260.2,20.2 C264.6,20.0 269.1,18.9 273.5,18.8 C277.9,18.7 283.1,19.7 286.9,19.5 C290.7,19.3 292.9,17.3 296.2,17.5 C299.5,17.7 302.9,19.4 306.9,20.8 C310.9,22.2 315.8,24.4 320.2,26.2 C324.6,28.0 329.2,29.9 333.6,31.5 C338.1,33.0 342.4,33.9 346.9,35.5 C351.3,37.1 356.3,38.7 360.3,40.9 C364.3,43.1 367.7,46.0 371.0,48.9 C374.3,51.8 377.8,55.3 380.3,58.2 C382.9,61.1 383.0,64.2 386.3,66.2 C389.6,68.2 397.7,46.9 400.0,70.0 C402.3,93.1 400.3,169.4 400.0,205.0 C399.7,240.6 401.1,270.6 398.0,283.7 C394.9,296.8 385.4,284.2 381.6,283.7 C377.8,283.1 378.4,282.8 375.1,280.4 C371.8,277.9 366.4,272.0 362.0,269.0 C357.6,266.0 352.0,264.8 349.0,262.4 C346.0,259.9 346.0,257.8 344.1,254.3 C342.2,250.8 339.7,246.1 337.5,241.2 C335.3,236.3 332.4,229.7 331.0,224.8 C329.6,219.9 328.5,214.5 329.3,211.8 C330.1,209.1 334.0,210.7 335.9,208.5 C337.8,206.3 341.4,201.4 340.8,198.7 C340.2,196.0 335.9,195.2 332.6,192.2 C329.3,189.2 323.4,184.5 321.2,180.7 C319.0,176.9 315.2,168.8 319.5,169.3 C323.8,169.8 342.5,183.5 346.9,183.7 C351.2,183.9 346.3,174.8 345.6,170.4 C344.9,166.0 344.0,160.6 342.9,157.0 C341.8,153.4 340.2,149.7 338.9,149.0 C337.6,148.3 336.2,150.6 334.9,153.0 C333.6,155.4 332.2,160.1 330.9,163.7 C329.6,167.3 328.2,172.2 326.9,174.4 C325.6,176.6 324.0,177.9 322.9,177.0 C321.8,176.1 320.4,171.9 320.2,169.0 C320.0,166.1 320.7,162.6 321.6,159.7 C322.5,156.8 324.3,153.9 325.6,151.7 C326.9,149.5 328.3,148.5 329.6,146.3 C330.9,144.1 333.6,141.4 333.6,138.3 C333.6,135.2 330.9,130.7 329.6,127.6 C328.3,124.5 327.2,120.5 325.6,119.6 C324.0,118.7 322.2,120.3 320.2,122.3 C318.2,124.3 315.4,130.7 313.6,131.6 C311.8,132.5 310.1,129.6 309.6,127.6 C309.2,125.6 310.2,122.5 310.9,119.6 C311.6,116.7 314.7,113.4 313.6,110.3 C312.5,107.2 306.9,104.2 304.2,100.9 C301.5,97.6 300.8,93.0 297.5,90.3 C294.2,87.6 288.2,87.1 284.2,84.9 C280.2,82.7 277.1,79.8 273.5,76.9 C269.9,74.0 266.4,70.7 262.8,67.6 C259.2,64.5 255.7,60.4 252.1,58.2 C248.5,56.0 244.8,55.5 241.5,54.2 C238.2,52.9 234.1,52.4 232.1,50.2 C230.1,48.0 229.6,44.0 229.4,40.9 C229.2,37.8 230.1,34.6 230.8,31.5 C231.5,28.4 230.8,24.1 233.5,22.2Z" fill="#181818"/>
<path d="M333.4,151.3 C334.5,149.1 338.8,148.3 340.8,149.7 C342.9,151.1 344.6,155.4 345.7,159.5 C346.8,163.6 347.9,170.4 347.3,174.2 C346.8,178.0 344.0,182.1 342.4,182.4 C340.8,182.7 338.9,179.1 337.5,175.8 C336.1,172.5 334.9,166.8 334.2,162.7 C333.5,158.6 332.3,153.5 333.4,151.3Z" fill="#000"/>
<path d="M326.1,164.4 C326.8,162.9 329.2,161.1 330.2,161.9 C331.1,162.7 332.1,167.0 331.8,169.3 C331.5,171.6 329.4,175.5 328.5,175.8 C327.6,176.1 326.5,172.8 326.1,170.9 C325.7,169.0 325.4,165.9 326.1,164.4Z" fill="#000"/>
<path d="M142.6,7.5 C144.4,7.0 152.6,6.8 155.9,8.8 C159.2,10.8 159.9,16.4 162.6,19.5 C165.3,22.6 168.2,24.8 172.0,27.5 C175.8,30.2 180.9,32.8 185.3,35.5 C189.7,38.2 194.6,41.5 198.4,43.5 C202.2,45.5 205.2,45.3 208.1,47.5 C211.0,49.7 213.6,54.1 216.1,56.8 C218.6,59.5 222.1,61.6 222.8,63.6 C223.5,65.6 221.7,68.8 220.1,68.8 C218.5,68.8 215.6,66.0 213.4,63.6 C211.2,61.2 209.2,56.9 206.8,54.2 C204.4,51.5 202.3,49.1 198.7,47.5 C195.1,45.9 189.3,46.1 185.3,44.8 C181.3,43.5 177.9,41.7 174.6,39.5 C171.3,37.3 168.0,34.2 165.3,31.5 C162.6,28.8 160.8,25.9 158.6,23.5 C156.4,21.1 154.1,18.8 151.9,16.8 C149.7,14.8 146.9,13.1 145.3,11.5 C143.8,9.9 140.8,8.0 142.6,7.5Z" fill="#181818"/>
<ellipse cx="213.4" cy="42.2" rx="3" ry="3" fill="#181818"/>
<ellipse cx="236.1" cy="64.8" rx="5" ry="3.5" fill="#181818"/>
<ellipse cx="257.4" cy="83.6" rx="3" ry="2" fill="#181818"/>
<ellipse cx="285.4" cy="107.6" rx="4.5" ry="3" fill="#181818"/>
<ellipse cx="373.6" cy="31.5" rx="3" ry="4.5" fill="#181818"/>
<ellipse cx="380.4" cy="43.5" rx="4" ry="4" fill="#181818"/>
<ellipse cx="227.0" cy="20.0" rx="3" ry="2" fill="#181818"/>
<ellipse cx="247.0" cy="38.0" rx="4" ry="2.5" fill="#181818"/>
<path d="M182.0,34.0 C185.8,36.2 197.7,42.7 205.0,47.0 C212.3,51.3 222.5,57.8 226.0,60.0" fill="none" stroke="#181818" stroke-width="5" stroke-linecap="round" stroke-linejoin="round"/>
<ellipse cx="249.6" cy="62.0" rx="4" ry="2.5" fill="#181818"/>
<ellipse cx="284.6" cy="104.5" rx="3" ry="3" fill="#181818"/>
<ellipse cx="200.0" cy="30.0" rx="5" ry="2.5" fill="#181818" transform="rotate(30 200.0 30.0)"/>
<path d="M360.3,139.7 C361.8,139.0 365.2,141.0 368.3,142.3 C371.4,143.6 377.9,145.5 379.0,147.7 C380.1,149.9 376.6,152.8 375.0,155.7 C373.4,158.6 371.8,162.1 369.6,165.0 C367.4,167.9 363.8,172.1 361.6,173.0 C359.4,173.9 357.0,173.1 356.3,170.4 C355.6,167.7 357.1,161.0 357.6,157.0 C358.2,153.0 359.2,149.2 359.6,146.3 C360.1,143.4 358.9,140.4 360.3,139.7Z" fill="#282828"/>
<path d="M375.9,181.5 C374.1,182.9 366.8,186.3 365.3,189.7 C363.8,193.1 365.5,198.2 366.9,202.0 C368.3,205.8 371.4,209.1 373.5,212.6 C375.6,216.1 377.6,220.3 379.2,223.2 C380.8,226.0 382.3,228.6 382.9,229.7" fill="none" stroke="#282828" stroke-width="14" stroke-linecap="round" stroke-linejoin="round"/>
<path d="M375.9,181.5 C374.1,182.9 366.8,186.3 365.3,189.7 C363.8,193.1 365.5,198.2 366.9,202.0 C368.3,205.8 371.4,209.1 373.5,212.6 C375.6,216.1 377.6,220.3 379.2,223.2 C380.8,226.0 382.3,228.6 382.9,229.7" fill="none" stroke="#383838" stroke-width="11" stroke-linecap="round" stroke-linejoin="round"/>
<path d="M375.1,182.4 L378.7,193.0" fill="none" stroke="#383838" stroke-width="7" stroke-linecap="round" stroke-linejoin="round"/>
<path d="M375.1,183.2 L378.0,191.8" fill="none" stroke="#585858" stroke-width="4.4" stroke-linecap="round" stroke-linejoin="round"/>
<path d="M365.0,190.9 C365.4,192.8 365.9,198.4 367.3,202.0 C368.7,205.6 371.5,209.1 373.5,212.6 C375.5,216.1 377.7,220.5 379.2,223.2 C380.7,225.9 381.9,227.9 382.5,228.9" fill="none" stroke="#585858" stroke-width="8" stroke-linecap="round" stroke-linejoin="round"/>
<path d="M364.0,191.3 C364.5,192.9 365.3,197.6 366.9,201.1 C368.5,204.6 371.5,209.0 373.5,212.6 C375.5,216.2 377.8,220.8 378.7,222.4" fill="none" stroke="#787878" stroke-width="5.6" stroke-linecap="round" stroke-linejoin="round"/>
<path d="M368.9,205.2 C369.7,206.5 372.1,210.1 373.8,213.1 C375.5,216.1 378.3,221.5 379.2,223.2" fill="none" stroke="#a7a7a7" stroke-width="3.8" stroke-linecap="round" stroke-linejoin="round"/>
<path d="M375.1,214.2 C375.5,215.3 376.5,218.5 377.6,220.8 C378.7,223.1 380.9,226.9 381.6,228.1" fill="none" stroke="#ffffff" stroke-width="3.0" stroke-linecap="round" stroke-linejoin="round"/>
<path d="M337.5,219.1 C338.6,219.7 341.9,221.4 344.1,222.9 C346.3,224.4 349.8,227.0 350.9,227.8" fill="none" stroke="#282828" stroke-width="15" stroke-linecap="round" stroke-linejoin="round"/>
<path d="M350.9,228.4 C351.3,230.0 353.1,234.7 353.5,237.9 C353.9,241.1 352.6,244.4 353.2,247.7 C353.8,251.0 355.3,255.1 356.8,257.8 C358.3,260.5 361.1,263.1 362.0,264.1" fill="none" stroke="#282828" stroke-width="11" stroke-linecap="round" stroke-linejoin="round"/>
<path d="M337.8,219.3 C338.9,219.9 342.0,221.6 344.1,223.0 C346.2,224.4 349.5,227.0 350.6,227.8" fill="none" stroke="#383838" stroke-width="12" stroke-linecap="round" stroke-linejoin="round"/>
<path d="M350.9,228.4 C351.3,230.0 353.1,234.7 353.5,237.9 C353.9,241.1 352.6,244.4 353.2,247.7 C353.8,251.0 355.5,255.2 356.8,257.8 C358.1,260.4 360.5,262.3 361.2,263.2" fill="none" stroke="#383838" stroke-width="8" stroke-linecap="round" stroke-linejoin="round"/>
<path d="M338.5,219.8 C339.4,220.4 342.1,222.1 344.1,223.4 C346.1,224.7 349.3,227.1 350.3,227.8" fill="none" stroke="#585858" stroke-width="8.5" stroke-linecap="round" stroke-linejoin="round"/>
<path d="M350.9,228.8 C351.3,230.3 353.1,234.8 353.5,237.9 C353.9,241.1 352.7,244.4 353.2,247.7 C353.7,251.0 355.9,255.9 356.5,257.5" fill="none" stroke="#585858" stroke-width="5" stroke-linecap="round" stroke-linejoin="round"/>
<path d="M340.0,220.8 L344.9,223.9" fill="none" stroke="#686868" stroke-width="2.6" stroke-linecap="round" stroke-linejoin="round"/>
<path d="M352.2,233.8 C352.4,235.0 353.3,239.0 353.5,241.2 C353.7,243.4 353.2,245.9 353.2,246.9" fill="none" stroke="#787878" stroke-width="3.2" stroke-linecap="round" stroke-linejoin="round"/>
<path d="M352.9,236.6 L353.4,242.0" fill="none" stroke="#acacac" stroke-width="2.0" stroke-linecap="round" stroke-linejoin="round"/>
<ellipse cx="356.0" cy="257.2" rx="3.4" ry="4" fill="#a7a7a7"/>
<ellipse cx="356.0" cy="257.2" rx="2.2" ry="2.8" fill="#ffffff"/>
<ellipse cx="373.8" cy="269.0" rx="6.5" ry="9" fill="#282828"/>
<ellipse cx="373.8" cy="269.0" rx="4.8" ry="7.5" fill="#383838"/>
<ellipse cx="373.1" cy="266.5" rx="2.6" ry="2.6" fill="#585858"/>
<ellipse cx="375.4" cy="274.7" rx="1.6" ry="1.6" fill="#585858"/>
<path d="M359.6,215.9 C360.6,215.1 363.6,216.8 364.5,218.3 C365.4,219.8 365.7,223.0 365.3,224.8 C364.9,226.6 363.1,229.2 362.0,228.9 C360.9,228.6 359.2,225.4 358.8,223.2 C358.4,221.0 358.7,216.7 359.6,215.9Z" fill="#000"/>
<ellipse cx="371.5" cy="231.4" rx="1.6" ry="1.6" fill="#000000"/>
<path d="M363.7,301.6 C363.7,299.8 367.8,299.5 370.2,299.2 C372.6,298.9 375.5,299.4 378.4,300.0 C381.3,300.6 385.9,299.0 387.4,302.5 C388.9,306.0 388.6,317.8 387.4,321.2 C386.2,324.6 382.1,323.4 380.0,322.9 C377.9,322.4 376.7,320.2 375.1,318.0 C373.5,315.8 372.1,312.5 370.2,309.8 C368.3,307.1 363.7,303.4 363.7,301.6Z" fill="#181818"/>
<ellipse cx="379.2" cy="309.8" rx="4" ry="7" fill="#282828"/>
<ellipse cx="379.2" cy="309.8" rx="2.8" ry="5.5" fill="#383838"/>
<ellipse cx="379.2" cy="309.8" rx="1.4" ry="3.6" fill="#585858"/>
<ellipse cx="375.9" cy="349.0" rx="4" ry="4" fill="#181818"/>
<ellipse cx="320.4" cy="197.9" rx="2.6" ry="2.6" fill="#181818"/>
<path d="M-4.0,405.6 C-1.2,401.8 8.6,405.7 12.8,407.1 C17.0,408.5 19.4,411.3 21.4,414.2 C23.4,417.1 25.2,421.4 25.0,424.3 C24.8,427.2 22.3,430.2 20.0,431.5 C17.7,432.8 15.3,432.4 11.3,432.2 C7.3,432.0 -1.4,434.5 -4.0,430.1 C-6.6,425.7 -6.8,409.4 -4.0,405.6Z" fill="#181818"/>
<path d="M45.8,432.9 C45.8,431.6 50.1,429.1 53.0,429.3 C55.9,429.6 60.0,432.5 63.1,434.4 C66.2,436.3 70.5,439.1 71.7,440.8 C72.9,442.5 72.0,444.1 70.3,444.4 C68.6,444.6 64.6,443.5 61.7,442.3 C58.8,441.1 55.6,438.9 53.0,437.3 C50.4,435.7 45.8,434.2 45.8,432.9Z" fill="#181818"/>
<path d="M84.5,94.8 C86.7,93.1 92.8,91.3 96.5,90.8 C100.2,90.3 103.2,91.0 106.5,91.8 C109.8,92.6 113.2,94.0 116.5,95.8 C119.8,97.6 123.8,99.6 126.5,102.8 C129.2,106.0 130.2,111.2 132.5,114.9 C134.8,118.6 137.8,121.9 140.5,124.9 C143.2,127.9 146.9,130.6 148.6,132.9 C150.3,135.2 150.8,136.7 150.6,138.9 C150.4,141.1 146.9,143.6 147.6,145.9 C148.3,148.2 151.4,151.2 154.6,152.9 C157.8,154.6 163.9,155.7 166.6,155.9 C169.3,156.1 167.3,154.2 170.6,153.9 C173.9,153.6 183.7,153.1 186.6,153.9 C189.5,154.7 188.9,157.6 188.2,158.9 C187.5,160.2 185.5,161.6 182.6,161.9 C179.7,162.2 172.9,160.4 170.6,160.9 C168.3,161.4 168.6,162.2 168.6,164.9 C168.6,167.6 169.6,172.9 170.6,176.9 C171.6,180.9 172.6,186.3 174.6,189.0 C176.6,191.7 179.9,193.5 182.6,193.0 C185.3,192.5 186.9,187.7 190.6,186.0 C194.3,184.3 199.9,182.9 204.6,182.9 C209.3,182.9 214.7,184.0 218.7,186.0 C222.7,188.0 225.4,191.5 228.7,195.0 C232.0,198.5 235.4,203.7 238.7,207.0 C242.0,210.3 246.0,212.3 248.7,215.0 C251.4,217.7 253.0,220.7 254.7,223.0 C256.4,225.3 257.7,226.7 258.7,229.0 C259.7,231.3 259.7,234.0 260.7,237.0 C261.7,240.0 263.0,243.0 264.7,247.0 C266.4,251.0 268.4,256.1 270.7,261.1 C273.0,266.1 276.0,271.4 278.7,277.1 C281.4,282.8 284.3,289.8 286.7,295.1 C289.1,300.4 291.1,305.1 292.8,309.1 C294.5,313.1 296.8,316.1 296.8,319.1 C296.8,322.1 294.0,323.5 292.8,327.2 C291.6,330.9 289.8,336.2 289.8,341.2 C289.8,346.2 291.6,352.5 292.8,357.2 C294.0,361.9 296.8,366.2 296.8,369.2 C296.8,372.2 294.5,375.5 292.8,375.2 C291.1,374.9 289.1,369.5 286.7,367.2 C284.3,364.9 281.0,362.9 278.7,361.2 C276.4,359.5 276.0,358.9 272.7,357.2 C269.4,355.5 263.0,352.7 258.7,351.2 C254.4,349.7 250.4,348.2 246.7,348.2 C243.0,348.2 240.0,349.7 236.7,351.2 C233.4,352.7 230.0,356.5 226.7,357.2 C223.3,357.9 219.6,356.9 216.6,355.2 C213.6,353.5 210.9,350.9 208.6,347.2 C206.3,343.5 204.3,338.2 202.6,333.2 C200.9,328.2 199.9,322.1 198.6,317.1 C197.3,312.1 195.9,306.4 194.6,303.1 C193.3,299.8 192.6,296.1 190.6,297.1 C188.6,298.1 185.4,306.9 182.6,309.1 C179.8,311.3 175.4,311.8 173.6,310.1 C171.8,308.4 170.8,302.6 171.6,299.1 C172.4,295.6 175.9,292.4 178.6,289.1 C181.3,285.8 186.3,283.1 187.6,279.1 C188.9,275.1 187.4,270.1 186.6,265.1 C185.8,260.1 184.3,253.7 182.6,249.0 C180.9,244.3 178.6,240.3 176.6,237.0 C174.6,233.7 172.9,230.7 170.6,229.0 C168.3,227.3 164.9,229.0 162.6,227.0 C160.3,225.0 158.6,220.3 156.6,217.0 C154.6,213.7 152.3,209.0 150.6,207.0 C148.9,205.0 148.6,205.0 146.6,205.0 C144.6,205.0 141.5,205.7 138.5,207.0 C135.5,208.3 131.5,210.7 128.5,213.0 C125.5,215.3 122.2,217.7 120.5,221.0 C118.8,224.3 117.8,230.0 118.5,233.0 C119.2,236.0 122.2,237.0 124.5,239.0 C126.8,241.0 129.8,242.7 132.5,245.0 C135.2,247.3 138.5,249.7 140.5,253.0 C142.5,256.4 142.8,261.1 144.5,265.1 C146.2,269.1 148.2,273.1 150.6,277.1 C152.9,281.1 157.3,286.1 158.6,289.1 C159.9,292.1 159.9,293.4 158.6,295.1 C157.3,296.8 153.9,297.4 150.6,299.1 C147.2,300.8 138.8,303.6 138.5,305.1 C138.2,306.6 147.1,306.8 148.6,308.1 C150.1,309.4 149.9,311.6 147.6,313.1 C145.2,314.6 139.3,315.8 134.5,317.1 C129.7,318.4 123.5,320.1 118.5,321.1 C113.5,322.1 108.8,323.3 104.5,323.1 C100.2,322.9 96.8,321.8 92.5,320.1 C88.2,318.4 81.5,315.3 78.5,313.1 C75.5,310.9 76.8,308.8 74.5,307.1 C72.2,305.4 67.4,305.1 64.4,303.1 C61.4,301.1 58.7,299.1 56.4,295.1 C54.1,291.1 52.1,283.8 50.4,279.1 C48.7,274.4 47.4,270.8 46.4,267.1 C45.4,263.4 43.7,259.5 44.4,257.1 C45.1,254.8 47.4,254.7 50.4,253.0 C53.4,251.3 59.4,250.0 62.4,247.0 C65.4,244.0 66.7,240.0 68.4,235.0 C70.1,230.0 71.4,222.7 72.4,217.0 C73.4,211.3 73.5,205.0 74.5,201.0 C75.5,197.0 75.8,195.0 78.5,193.0 C81.2,191.0 86.5,190.7 90.5,189.0 C94.5,187.3 99.5,184.6 102.5,182.9 C105.5,181.2 109.2,180.6 108.5,178.9 C107.8,177.2 101.2,174.9 98.5,172.9 C95.8,170.9 92.5,168.6 92.5,166.9 C92.5,165.2 96.2,163.9 98.5,162.9 C100.8,161.9 105.8,162.2 106.5,160.9 C107.2,159.6 102.5,156.9 102.5,154.9 C102.5,152.9 106.5,150.9 106.5,148.9 C106.5,146.9 103.8,145.2 102.5,142.9 C101.2,140.6 100.2,138.2 98.5,134.9 C96.8,131.6 94.5,126.9 92.5,122.9 C90.5,118.9 88.0,114.5 86.5,110.8 C85.0,107.1 83.8,103.5 83.5,100.8 C83.2,98.1 82.3,96.5 84.5,94.8Z" fill="#181818"/>
<ellipse cx="142.5" cy="223.0" rx="9" ry="6" fill="#181818" transform="rotate(-10 142.5 223.0)"/>
<ellipse cx="153.6" cy="320.1" rx="3.5" ry="4.5" fill="#181818"/>
<ellipse cx="79.5" cy="87.8" rx="4.5" ry="4" fill="#181818" transform="rotate(30 79.5 87.8)"/>
<ellipse cx="93.5" cy="166.9" rx="4" ry="3" fill="#181818"/>
<path d="M98.1,106.4 C98.8,107.7 100.9,111.3 102.5,113.9 C104.1,116.5 105.7,119.3 107.5,121.9 C109.3,124.5 111.9,127.5 113.5,129.3 C115.1,131.1 116.7,132.3 117.3,132.9" fill="none" stroke="#282828" stroke-width="14" stroke-linecap="round" stroke-linejoin="round"/>
<path d="M98.5,107.2 L102.1,114.9" fill="none" stroke="#383838" stroke-width="8" stroke-linecap="round" stroke-linejoin="round"/>
<path d="M103.5,117.9 L107.5,123.9" fill="none" stroke="#383838" stroke-width="8" stroke-linecap="round" stroke-linejoin="round"/>
<path d="M108.5,125.5 C109.3,126.1 112.1,128.2 113.5,129.3 C114.9,130.4 116.3,131.6 116.9,132.1" fill="none" stroke="#383838" stroke-width="8.6" stroke-linecap="round" stroke-linejoin="round"/>
<path d="M108.9,126.1 C109.7,126.7 112.3,128.6 113.5,129.5 C114.7,130.4 115.7,131.2 116.1,131.5" fill="none" stroke="#484848" stroke-width="4.2" stroke-linecap="round" stroke-linejoin="round"/>
<path d="M110.5,127.5 L114.9,130.7" fill="none" stroke="#5e5e5e" stroke-width="2.4" stroke-linecap="round" stroke-linejoin="round"/>
<path d="M122.5,142.5 C124.1,141.3 129.4,135.2 132.1,135.3 C134.8,135.4 137.0,140.1 138.5,142.9 C140.0,145.7 139.9,149.1 140.9,151.9 C141.9,154.7 143.9,158.6 144.5,159.9" fill="none" stroke="#282828" stroke-width="20" stroke-linecap="round" stroke-linejoin="round"/>
<path d="M122.5,142.5 C123.5,141.7 126.9,139.2 128.5,137.9 C130.1,136.6 130.5,134.2 132.1,134.9 C133.7,135.6 136.7,139.2 138.1,141.9 C139.5,144.6 139.5,148.0 140.5,150.9 C141.5,153.8 143.5,157.9 144.1,159.3" fill="none" stroke="#383838" stroke-width="14.5" stroke-linecap="round" stroke-linejoin="round"/>
<path d="M122.9,142.5 C123.8,141.8 127.0,139.3 128.5,138.1 C130.0,136.9 130.6,134.8 132.1,135.3 C133.6,135.8 136.4,138.8 137.7,141.3 C139.0,143.8 139.1,147.6 140.1,150.5 C141.1,153.4 142.9,157.2 143.5,158.5" fill="none" stroke="#585858" stroke-width="10.5" stroke-linecap="round" stroke-linejoin="round"/>
<path d="M123.5,142.3 C124.3,141.6 127.1,139.4 128.5,138.3 C129.9,137.2 130.6,135.2 132.1,135.7 C133.6,136.2 136.0,138.9 137.3,141.3 C138.6,143.7 138.9,147.5 139.7,149.9 C140.5,152.3 141.7,154.9 142.1,155.9" fill="none" stroke="#787878" stroke-width="7.4" stroke-linecap="round" stroke-linejoin="round"/>
<path d="M124.5,141.7 C125.2,141.2 127.6,139.4 128.9,138.5 C130.2,137.6 130.8,135.6 132.1,136.1 C133.4,136.6 135.7,139.1 136.9,141.3 C138.1,143.5 138.6,147.2 139.3,149.3 C140.0,151.4 140.6,153.1 140.9,153.9" fill="none" stroke="#878787" stroke-width="5.2" stroke-linecap="round" stroke-linejoin="round"/>
<path d="M132.9,136.9 C133.6,137.7 135.9,139.7 136.9,141.7 C137.9,143.7 138.6,147.1 139.1,148.9 C139.6,150.7 139.9,151.9 140.1,152.5" fill="none" stroke="#9c9c9c" stroke-width="3.4" stroke-linecap="round" stroke-linejoin="round"/>
<ellipse cx="136.5" cy="173.3" rx="4.800000000000001" ry="4.800000000000001" fill="#282828"/>
<ellipse cx="136.5" cy="173.3" rx="2.6" ry="2.6" fill="#383838"/>
<ellipse cx="158.6" cy="175.9" rx="5.2" ry="5.2" fill="#282828"/>
<ellipse cx="158.6" cy="175.9" rx="3.0" ry="3.0" fill="#383838"/>
<ellipse cx="134.1" cy="164.9" rx="4.4" ry="4.4" fill="#282828"/>
<ellipse cx="134.1" cy="164.9" rx="2.2" ry="2.2" fill="#383838"/>
<ellipse cx="139.5" cy="164.9" rx="4.2" ry="4.2" fill="#282828"/>
<ellipse cx="139.5" cy="164.9" rx="2.0" ry="2.0" fill="#383838"/>
<ellipse cx="136.5" cy="173.3" rx="1.2" ry="1.2" fill="#5e5e5e"/>
<ellipse cx="158.6" cy="175.9" rx="1.3" ry="1.3" fill="#5e5e5e"/>
<ellipse cx="142.5" cy="185.0" rx="3.4" ry="4" fill="#282828"/>
<ellipse cx="149.6" cy="172.9" rx="3.5" ry="3.5" fill="#282828"/>
<ellipse cx="132.5" cy="156.9" rx="4" ry="6" fill="#282828"/>
<path d="M187.6,207.0 L188.6,218.0" fill="none" stroke="#282828" stroke-width="7" stroke-linecap="round" stroke-linejoin="round"/>
<path d="M187.6,207.4 L188.6,217.6" fill="none" stroke="#383838" stroke-width="4.6" stroke-linecap="round" stroke-linejoin="round"/>
<path d="M187.8,210.0 L188.4,215.0" fill="none" stroke="#5c5c5c" stroke-width="1.8" stroke-linecap="round" stroke-linejoin="round"/>
<path d="M191.9,214.3 C193.2,211.4 195.6,211.2 197.4,211.2 C199.3,211.2 201.8,212.4 203.1,214.3 C204.4,216.3 204.0,218.9 205.4,222.7 C206.7,226.6 208.4,232.6 211.0,237.3 C213.6,242.0 218.5,246.8 221.1,251.0 C223.7,255.2 225.3,258.8 226.6,262.5 C227.9,266.2 229.4,270.7 228.9,272.9 C228.3,275.2 224.9,276.1 223.2,276.1 C221.6,276.1 219.9,272.4 218.8,272.9 C217.7,273.4 217.3,276.7 216.5,279.2 C215.8,281.6 215.7,286.0 214.4,287.6 C213.1,289.2 210.4,289.6 208.7,288.6 C207.0,287.6 205.7,284.6 204.2,281.3 C202.7,278.0 201.6,272.6 199.7,268.8 C197.9,264.9 194.7,262.1 193.0,258.2 C191.3,254.4 190.2,250.6 189.6,245.7 C189.1,240.8 189.3,234.2 189.6,229.0 C190.0,223.8 190.6,217.3 191.9,214.3Z" fill="#282828"/>
<ellipse cx="196.4" cy="263.4" rx="5" ry="6" fill="#282828"/>
<ellipse cx="201.1" cy="213.9" rx="5" ry="5" fill="#282828"/>
<path d="M194.6,218.6 C195.7,215.9 197.6,215.8 199.2,215.8 C200.8,215.8 202.8,216.9 203.9,218.6 C205.0,220.3 204.7,222.7 205.8,226.1 C206.9,229.5 208.3,234.9 210.5,239.1 C212.7,243.3 216.7,247.6 218.9,251.3 C221.1,255.1 222.4,258.3 223.5,261.6 C224.6,264.9 225.9,268.9 225.4,270.9 C224.9,272.9 222.1,273.7 220.7,273.7 C219.3,273.7 217.9,270.4 217.0,270.9 C216.1,271.4 215.7,274.3 215.1,276.5 C214.5,278.7 214.4,282.6 213.3,284.0 C212.2,285.4 210.0,285.8 208.6,284.9 C207.2,284.0 206.1,281.3 204.8,278.4 C203.6,275.4 202.7,270.6 201.1,267.2 C199.5,263.8 196.9,261.2 195.5,257.8 C194.1,254.4 193.2,250.9 192.7,246.6 C192.2,242.2 192.4,236.4 192.7,231.7 C193.0,227.0 193.5,221.2 194.6,218.6Z" fill="#383838"/>
<path d="M196.0,223.2 C196.7,221.3 198.5,220.4 199.7,220.4 C200.9,220.4 202.2,221.5 203.0,223.2 C203.8,224.9 203.7,227.6 204.8,230.7 C205.9,233.8 207.5,238.3 209.5,241.9 C211.5,245.5 215.0,248.9 217.0,252.2 C219.0,255.5 220.7,258.8 221.7,261.6 C222.7,264.4 223.3,267.4 223.1,269.0 C222.9,270.6 221.3,271.4 220.3,270.9 C219.3,270.4 218.0,266.2 217.0,266.2 C216.0,266.2 214.8,268.4 214.2,270.9 C213.6,273.4 214.1,279.3 213.3,281.2 C212.5,283.1 210.6,283.0 209.5,282.1 C208.4,281.2 207.6,278.4 206.7,275.6 C205.8,272.8 205.2,268.9 203.9,265.3 C202.7,261.7 200.5,257.5 199.2,254.1 C197.9,250.7 196.6,248.4 196.0,244.7 C195.4,241.0 195.5,235.3 195.5,231.7 C195.5,228.1 195.3,225.1 196.0,223.2Z" fill="#585858"/>
<path d="M196.9,226.1 C197.4,224.4 198.8,223.2 199.7,223.2 C200.5,223.2 201.3,224.4 202.0,226.1 C202.7,227.8 202.8,230.6 203.9,233.5 C205.0,236.4 206.7,240.5 208.6,243.8 C210.5,247.1 213.7,250.2 215.6,253.2 C217.5,256.2 218.9,259.3 219.8,261.6 C220.7,263.9 221.2,266.1 221.2,267.2 C221.2,268.3 220.6,269.0 219.8,268.1 C219.0,267.2 217.6,261.9 216.5,261.6 C215.4,261.3 214.0,263.2 213.3,266.2 C212.6,269.1 212.9,277.0 212.3,279.3 C211.8,281.6 210.8,280.7 210.0,279.8 C209.2,278.9 208.5,276.3 207.7,273.7 C206.9,271.1 206.4,267.8 205.3,264.4 C204.2,261.0 202.4,256.6 201.1,253.2 C199.8,249.8 198.1,247.1 197.4,243.8 C196.7,240.5 197.0,236.4 196.9,233.5 C196.8,230.6 196.4,227.8 196.9,226.1Z" fill="#787878"/>
<path d="M197.8,227.9 C198.1,226.7 199.1,225.9 199.7,226.1 C200.3,226.3 200.7,227.2 201.3,228.9 C201.9,230.6 202.1,233.5 203.2,236.3 C204.3,239.1 206.0,243.0 207.7,245.7 C209.4,248.3 211.6,249.7 213.3,252.2 C215.0,254.7 216.9,258.4 217.9,260.6 C218.9,262.8 219.5,265.3 219.3,265.3 C219.2,265.3 218.2,261.2 217.0,260.6 C215.8,260.0 213.2,259.0 212.3,261.6 C211.4,264.2 211.8,274.0 211.4,276.5 C211.0,279.0 210.6,277.4 210.0,276.5 C209.4,275.6 208.7,273.2 208.1,270.9 C207.5,268.6 207.6,265.8 206.7,262.5 C205.8,259.2 203.8,254.7 202.5,251.3 C201.2,247.9 199.5,244.9 198.8,241.9 C198.1,238.9 198.3,235.8 198.1,233.5 C197.9,231.2 197.5,229.1 197.8,227.9Z" fill="#9b9b9b"/>
<path d="M200.0,229.3 C200.2,230.6 200.5,234.9 201.1,237.3 C201.7,239.7 202.6,242.1 203.4,243.8 C204.2,245.5 205.4,246.9 205.8,247.5" fill="none" stroke="#ababab" stroke-width="2.6" stroke-linecap="round" stroke-linejoin="round"/>
<path d="M215.1,256.0 L217.9,261.6" fill="none" stroke="#ababab" stroke-width="2.2" stroke-linecap="round" stroke-linejoin="round"/>
<path d="M208.4,264.4 L209.1,272.8" fill="none" stroke="#ababab" stroke-width="2.4" stroke-linecap="round" stroke-linejoin="round"/>
<ellipse cx="200.2" cy="232.1" rx="1.5" ry="3.8" fill="#ffffff"/>
<ellipse cx="202.6" cy="242.1" rx="2.0" ry="1.8" fill="#e1e1e1"/>
<ellipse cx="217.5" cy="259.9" rx="1.5" ry="2.6" fill="#f1f1f1"/>
<ellipse cx="208.7" cy="269.0" rx="1.5" ry="3.6" fill="#ffffff"/>
<path d="M219.7,276.1 C220.8,278.1 224.9,283.8 226.3,288.1 C227.7,292.4 227.6,299.8 227.9,302.1" fill="none" stroke="#282828" stroke-width="5.6" stroke-linecap="round" stroke-linejoin="round"/>
<path d="M220.3,277.1 C221.3,278.9 225.0,284.0 226.3,288.1 C227.6,292.2 227.6,299.3 227.9,301.5" fill="none" stroke="#383838" stroke-width="3.6" stroke-linecap="round" stroke-linejoin="round"/>
<path d="M222.7,281.1 C223.4,282.5 225.9,286.5 226.7,289.5 C227.5,292.5 227.5,297.5 227.7,299.1" fill="none" stroke="#5c5c5c" stroke-width="1.4" stroke-linecap="round" stroke-linejoin="round"/>
<ellipse cx="198.6" cy="263.1" rx="5" ry="6" fill="#282828"/>
<ellipse cx="192.6" cy="289.1" rx="4.2" ry="4.6" fill="#282828"/>
<ellipse cx="225.7" cy="319.1" rx="4.2" ry="5" fill="#282828"/>
<ellipse cx="225.7" cy="319.5" rx="2.6" ry="3.6" fill="#383838"/>
<path d="M236.7,314.1 L234.7,326.1" fill="none" stroke="#282828" stroke-width="5" stroke-linecap="round" stroke-linejoin="round"/>
<path d="M236.7,314.7 L234.9,325.5" fill="none" stroke="#383838" stroke-width="3.4" stroke-linecap="round" stroke-linejoin="round"/>
<path d="M236.5,316.1 L235.1,324.1" fill="none" stroke="#5c5c5c" stroke-width="1.5" stroke-linecap="round" stroke-linejoin="round"/>
<path d="M232.3,332.8 C233.4,333.5 236.5,336.1 238.7,337.2 C240.9,338.3 244.5,339.2 245.7,339.6" fill="none" stroke="#282828" stroke-width="9" stroke-linecap="round" stroke-linejoin="round"/>
<path d="M232.7,333.2 C233.7,333.9 236.6,336.2 238.7,337.2 C240.8,338.2 244.2,339.0 245.3,339.4" fill="none" stroke="#383838" stroke-width="7" stroke-linecap="round" stroke-linejoin="round"/>
<path d="M233.7,334.0 C234.6,334.6 237.3,336.7 239.1,337.6 C240.9,338.5 243.8,339.1 244.7,339.4" fill="none" stroke="#686868" stroke-width="5" stroke-linecap="round" stroke-linejoin="round"/>
<path d="M234.7,334.8 C235.5,335.3 237.9,337.1 239.5,337.8 C241.1,338.5 243.5,339.0 244.3,339.2" fill="none" stroke="#979797" stroke-width="3.6" stroke-linecap="round" stroke-linejoin="round"/>
<path d="M237.1,336.8 L243.5,339.0" fill="none" stroke="#ffffff" stroke-width="2.2" stroke-linecap="round" stroke-linejoin="round"/>
<path d="M261.7,340.2 C262.5,340.9 264.7,342.3 266.7,344.2 C268.7,346.1 271.9,349.6 273.7,351.6 C275.5,353.6 277.0,355.4 277.7,356.2" fill="none" stroke="#282828" stroke-width="9.5" stroke-linecap="round" stroke-linejoin="round"/>
<path d="M262.1,340.8 C262.9,341.4 264.8,342.6 266.7,344.4 C268.6,346.2 272.0,349.7 273.7,351.6 C275.4,353.5 276.5,354.9 277.1,355.6" fill="none" stroke="#383838" stroke-width="7" stroke-linecap="round" stroke-linejoin="round"/>
<path d="M262.7,341.6 C263.4,342.1 265.4,343.2 267.1,344.8 C268.8,346.4 271.6,349.6 273.1,351.2 C274.6,352.8 275.4,353.9 275.9,354.4" fill="none" stroke="#686868" stroke-width="4.6" stroke-linecap="round" stroke-linejoin="round"/>
<path d="M263.1,342.4 C263.8,342.9 265.8,344.1 267.1,345.2 C268.4,346.3 270.1,348.2 270.7,348.8" fill="none" stroke="#979797" stroke-width="3" stroke-linecap="round" stroke-linejoin="round"/>
<path d="M263.5,343.2 L267.1,345.6" fill="none" stroke="#ffffff" stroke-width="1.8" stroke-linecap="round" stroke-linejoin="round"/>
<path d="M240.7,227.0 C241.5,229.0 243.9,235.3 245.7,239.0 C247.5,242.7 249.8,245.0 251.7,249.0 C253.6,253.0 255.5,258.6 257.1,263.1 C258.7,267.6 259.3,271.9 261.1,276.1 C262.9,280.3 265.3,284.1 267.7,288.1 C270.1,292.1 273.0,296.1 275.7,300.1 C278.4,304.1 281.0,308.4 283.7,312.1 C286.4,315.8 290.4,320.4 291.8,322.1" fill="none" stroke="#282828" stroke-width="9.5" stroke-linecap="round" stroke-linejoin="round"/>
<path d="M242.7,231.4 C243.4,232.8 245.1,236.8 246.7,240.0 C248.3,243.2 250.6,246.8 252.3,250.6 C254.0,254.4 255.6,258.9 257.1,263.1 C258.6,267.4 259.3,271.9 261.1,276.1 C262.9,280.3 265.3,284.1 267.7,288.1 C270.1,292.1 273.0,296.1 275.7,300.1 C278.4,304.1 281.1,308.5 283.7,312.1 C286.3,315.7 289.9,319.9 291.2,321.5" fill="none" stroke="#383838" stroke-width="6.2" stroke-linecap="round" stroke-linejoin="round"/>
<path d="M248.7,243.0 C249.4,244.5 251.4,248.8 252.7,252.0 C254.0,255.2 256.0,260.4 256.7,262.1" fill="none" stroke="#484848" stroke-width="2.6" stroke-linecap="round" stroke-linejoin="round"/>
<path d="M265.7,285.1 C266.1,285.8 266.6,286.6 268.3,289.1 C270.0,291.6 273.1,296.3 275.7,300.1 C278.3,303.9 281.3,308.8 283.7,312.1 C286.1,315.4 288.8,318.8 289.8,320.1" fill="none" stroke="#585858" stroke-width="4.4" stroke-linecap="round" stroke-linejoin="round"/>
<path d="M266.7,286.7 C267.0,287.2 267.2,287.6 268.7,289.9 C270.2,292.2 273.3,296.9 275.7,300.5 C278.1,304.1 281.1,308.6 283.1,311.5 C285.1,314.4 286.9,316.7 287.7,317.7" fill="none" stroke="#878787" stroke-width="3.0" stroke-linecap="round" stroke-linejoin="round"/>
<path d="M271.7,294.1 L278.7,305.1" fill="none" stroke="#aeaeae" stroke-width="1.8" stroke-linecap="round" stroke-linejoin="round"/>
<path d="M116.9,244.6 C116.2,246.7 114.2,252.4 112.9,257.1 C111.6,261.9 110.1,268.1 108.9,273.1 C107.7,278.1 107.2,283.2 105.5,287.1 C103.8,291.0 99.7,295.1 98.5,296.7" fill="none" stroke="#282828" stroke-width="9.5" stroke-linecap="round" stroke-linejoin="round"/>
<path d="M116.7,245.4 C116.1,247.4 114.2,252.5 112.9,257.1 C111.6,261.7 110.1,268.1 108.9,273.1 C107.7,278.1 107.2,283.2 105.5,287.1 C103.8,291.0 99.7,294.8 98.5,296.3" fill="none" stroke="#383838" stroke-width="7.6" stroke-linecap="round" stroke-linejoin="round"/>
<path d="M116.1,248.0 C115.5,249.7 113.9,253.9 112.7,258.1 C111.5,262.3 110.1,268.3 108.9,273.1 C107.7,277.9 107.3,283.0 105.7,286.7 C104.1,290.4 100.4,294.0 99.3,295.5" fill="none" stroke="#585858" stroke-width="5.6" stroke-linecap="round" stroke-linejoin="round"/>
<path d="M114.5,252.0 C114.1,253.3 113.1,256.5 112.1,260.1 C111.1,263.7 109.8,269.1 108.7,273.5 C107.6,277.9 107.1,282.8 105.7,286.3 C104.3,289.8 101.0,293.3 100.1,294.7" fill="none" stroke="#787878" stroke-width="4.2" stroke-linecap="round" stroke-linejoin="round"/>
<path d="M112.9,257.1 C112.6,258.4 111.6,262.3 110.9,265.1 C110.2,267.9 109.3,270.7 108.5,274.1 C107.7,277.5 107.1,282.3 105.9,285.5 C104.7,288.7 102.1,292.2 101.3,293.5" fill="none" stroke="#8c8c8c" stroke-width="2.8" stroke-linecap="round" stroke-linejoin="round"/>
<path d="M104.5,289.5 L99.5,295.1" fill="none" stroke="#787878" stroke-width="6.0" stroke-linecap="round" stroke-linejoin="round"/>
<path d="M104.5,289.9 L100.1,294.7" fill="none" stroke="#8c8c8c" stroke-width="4.2" stroke-linecap="round" stroke-linejoin="round"/>
<path d="M111.7,255.5 L110.5,263.1" fill="none" stroke="#aeaeae" stroke-width="1.7" stroke-linecap="round" stroke-linejoin="round"/></g><ellipse cx="362.3" cy="221.6" rx="2.8" ry="4.4" fill="#fff" transform="rotate(-15 362.3 221.6)"/><circle cx="371" cy="230.3" r="1.5" fill="#fff"/>
<use href="#coast" opacity="0.42"/><use href="#grid"/>
</g>
<use href="#frame"/>
</g>
<text class="s" x="18" y="64.6" font-size="43.5">(a)</text>
<rect x="592.7" y="108.00" width="33.2" height="38.50" fill="#cd0000"/>
<rect x="592.7" y="146.20" width="33.2" height="38.50" fill="#d72800"/>
<rect x="592.7" y="184.40" width="33.2" height="38.50" fill="#eb0000"/>
<rect x="592.7" y="222.60" width="33.2" height="38.50" fill="#e60064"/>
<rect x="592.7" y="260.80" width="33.2" height="38.50" fill="#eb465a"/>
<rect x="592.7" y="299.00" width="33.2" height="38.50" fill="#faaa00"/>
<rect x="592.7" y="337.20" width="33.2" height="38.50" fill="#ffff00"/>
<rect x="592.7" y="375.40" width="33.2" height="38.50" fill="#cdf500"/>
<rect x="592.7" y="413.60" width="33.2" height="38.50" fill="#82f500"/>
<rect x="592.7" y="451.80" width="33.2" height="38.50" fill="#82f582"/>
<rect x="592.7" y="490.00" width="33.2" height="38.50" fill="#78fafa"/>
<rect x="592.7" y="528.20" width="33.2" height="38.50" fill="#128eff"/>
<rect x="592.7" y="566.40" width="33.2" height="38.50" fill="#003cff"/>
<rect x="592.7" y="604.60" width="33.2" height="38.50" fill="#aa46ff"/>
<rect x="592.7" y="642.80" width="33.2" height="38.50" fill="#b28eff"/>
<g transform="translate(910.4,103.0)">
<g clip-path="url(#clip)">
<use href="#land"/><use href="#bord"/><use href="#coast" filter="url(#soft2)"/>
<g filter="url(#cmA)"><rect x="-12" y="-12" width="414" height="606" fill="#000"/><path d="M233.5,22.2 C236.2,20.3 242.4,20.5 246.8,20.2 C251.2,19.9 255.8,20.4 260.2,20.2 C264.6,20.0 269.1,18.9 273.5,18.8 C277.9,18.7 283.1,19.7 286.9,19.5 C290.7,19.3 292.9,17.3 296.2,17.5 C299.5,17.7 302.9,19.4 306.9,20.8 C310.9,22.2 315.8,24.4 320.2,26.2 C324.6,28.0 329.2,29.9 333.6,31.5 C338.1,33.0 342.4,33.9 346.9,35.5 C351.3,37.1 356.3,38.7 360.3,40.9 C364.3,43.1 367.7,46.0 371.0,48.9 C374.3,51.8 377.8,55.3 380.3,58.2 C382.9,61.1 383.0,64.2 386.3,66.2 C389.6,68.2 397.7,46.9 400.0,70.0 C402.3,93.1 400.3,169.4 400.0,205.0 C399.7,240.6 401.1,270.6 398.0,283.7 C394.9,296.8 385.4,284.2 381.6,283.7 C377.8,283.1 378.4,282.8 375.1,280.4 C371.8,277.9 366.4,272.0 362.0,269.0 C357.6,266.0 352.0,264.8 349.0,262.4 C346.0,259.9 346.0,257.8 344.1,254.3 C342.2,250.8 339.7,246.1 337.5,241.2 C335.3,236.3 332.4,229.7 331.0,224.8 C329.6,219.9 328.5,214.5 329.3,211.8 C330.1,209.1 334.0,210.7 335.9,208.5 C337.8,206.3 341.4,201.4 340.8,198.7 C340.2,196.0 335.9,195.2 332.6,192.2 C329.3,189.2 323.4,184.5 321.2,180.7 C319.0,176.9 315.2,168.8 319.5,169.3 C323.8,169.8 342.5,183.5 346.9,183.7 C351.2,183.9 346.3,174.8 345.6,170.4 C344.9,166.0 344.0,160.6 342.9,157.0 C341.8,153.4 340.2,149.7 338.9,149.0 C337.6,148.3 336.2,150.6 334.9,153.0 C333.6,155.4 332.2,160.1 330.9,163.7 C329.6,167.3 328.2,172.2 326.9,174.4 C325.6,176.6 324.0,177.9 322.9,177.0 C321.8,176.1 320.4,171.9 320.2,169.0 C320.0,166.1 320.7,162.6 321.6,159.7 C322.5,156.8 324.3,153.9 325.6,151.7 C326.9,149.5 328.3,148.5 329.6,146.3 C330.9,144.1 333.6,141.4 333.6,138.3 C333.6,135.2 330.9,130.7 329.6,127.6 C328.3,124.5 327.2,120.5 325.6,119.6 C324.0,118.7 322.2,120.3 320.2,122.3 C318.2,124.3 315.4,130.7 313.6,131.6 C311.8,132.5 310.1,129.6 309.6,127.6 C309.2,125.6 310.2,122.5 310.9,119.6 C311.6,116.7 314.7,113.4 313.6,110.3 C312.5,107.2 306.9,104.2 304.2,100.9 C301.5,97.6 300.8,93.0 297.5,90.3 C294.2,87.6 288.2,87.1 284.2,84.9 C280.2,82.7 277.1,79.8 273.5,76.9 C269.9,74.0 266.4,70.7 262.8,67.6 C259.2,64.5 255.7,60.4 252.1,58.2 C248.5,56.0 244.8,55.5 241.5,54.2 C238.2,52.9 234.1,52.4 232.1,50.2 C230.1,48.0 229.6,44.0 229.4,40.9 C229.2,37.8 230.1,34.6 230.8,31.5 C231.5,28.4 230.8,24.1 233.5,22.2Z" fill="#181818"/>
<path d="M333.4,151.3 C334.5,149.1 338.8,148.3 340.8,149.7 C342.9,151.1 344.6,155.4 345.7,159.5 C346.8,163.6 347.9,170.4 347.3,174.2 C346.8,178.0 344.0,182.1 342.4,182.4 C340.8,182.7 338.9,179.1 337.5,175.8 C336.1,172.5 334.9,166.8 334.2,162.7 C333.5,158.6 332.3,153.5 333.4,151.3Z" fill="#000"/>
<path d="M326.1,164.4 C326.8,162.9 329.2,161.1 330.2,161.9 C331.1,162.7 332.1,167.0 331.8,169.3 C331.5,171.6 329.4,175.5 328.5,175.8 C327.6,176.1 326.5,172.8 326.1,170.9 C325.7,169.0 325.4,165.9 326.1,164.4Z" fill="#000"/>
<path d="M142.6,7.5 C144.4,7.0 152.6,6.8 155.9,8.8 C159.2,10.8 159.9,16.4 162.6,19.5 C165.3,22.6 168.2,24.8 172.0,27.5 C175.8,30.2 180.9,32.8 185.3,35.5 C189.7,38.2 194.6,41.5 198.4,43.5 C202.2,45.5 205.2,45.3 208.1,47.5 C211.0,49.7 213.6,54.1 216.1,56.8 C218.6,59.5 222.1,61.6 222.8,63.6 C223.5,65.6 221.7,68.8 220.1,68.8 C218.5,68.8 215.6,66.0 213.4,63.6 C211.2,61.2 209.2,56.9 206.8,54.2 C204.4,51.5 202.3,49.1 198.7,47.5 C195.1,45.9 189.3,46.1 185.3,44.8 C181.3,43.5 177.9,41.7 174.6,39.5 C171.3,37.3 168.0,34.2 165.3,31.5 C162.6,28.8 160.8,25.9 158.6,23.5 C156.4,21.1 154.1,18.8 151.9,16.8 C149.7,14.8 146.9,13.1 145.3,11.5 C143.8,9.9 140.8,8.0 142.6,7.5Z" fill="#181818"/>
<ellipse cx="213.4" cy="42.2" rx="3" ry="3" fill="#181818"/>
<ellipse cx="236.1" cy="64.8" rx="5" ry="3.5" fill="#181818"/>
<ellipse cx="257.4" cy="83.6" rx="3" ry="2" fill="#181818"/>
<ellipse cx="285.4" cy="107.6" rx="4.5" ry="3" fill="#181818"/>
<ellipse cx="373.6" cy="31.5" rx="3" ry="4.5" fill="#181818"/>
<ellipse cx="380.4" cy="43.5" rx="4" ry="4" fill="#181818"/>
<ellipse cx="227.0" cy="20.0" rx="3" ry="2" fill="#181818"/>
<ellipse cx="247.0" cy="38.0" rx="4" ry="2.5" fill="#181818"/>
<path d="M182.0,34.0 C185.8,36.2 197.7,42.7 205.0,47.0 C212.3,51.3 222.5,57.8 226.0,60.0" fill="none" stroke="#181818" stroke-width="5" stroke-linecap="round" stroke-linejoin="round"/>
<ellipse cx="249.6" cy="62.0" rx="4" ry="2.5" fill="#181818"/>
<ellipse cx="284.6" cy="104.5" rx="3" ry="3" fill="#181818"/>
<ellipse cx="200.0" cy="30.0" rx="5" ry="2.5" fill="#181818" transform="rotate(30 200.0 30.0)"/>
<path d="M360.3,139.7 C361.8,139.0 365.2,141.0 368.3,142.3 C371.4,143.6 377.9,145.5 379.0,147.7 C380.1,149.9 376.6,152.8 375.0,155.7 C373.4,158.6 371.8,162.1 369.6,165.0 C367.4,167.9 363.8,172.1 361.6,173.0 C359.4,173.9 357.0,173.1 356.3,170.4 C355.6,167.7 357.1,161.0 357.6,157.0 C358.2,153.0 359.2,149.2 359.6,146.3 C360.1,143.4 358.9,140.4 360.3,139.7Z" fill="#282828"/>
<path d="M375.9,181.5 C374.1,182.9 366.8,186.3 365.3,189.7 C363.8,193.1 365.5,198.2 366.9,202.0 C368.3,205.8 371.4,209.1 373.5,212.6 C375.6,216.1 377.6,220.3 379.2,223.2 C380.8,226.0 382.3,228.6 382.9,229.7" fill="none" stroke="#282828" stroke-width="14" stroke-linecap="round" stroke-linejoin="round"/>
<path d="M375.9,181.5 C374.1,182.9 366.8,186.3 365.3,189.7 C363.8,193.1 365.5,198.2 366.9,202.0 C368.3,205.8 371.4,209.1 373.5,212.6 C375.6,216.1 377.6,220.3 379.2,223.2 C380.8,226.0 382.3,228.6 382.9,229.7" fill="none" stroke="#383838" stroke-width="11" stroke-linecap="round" stroke-linejoin="round"/>
<path d="M375.1,182.4 L378.7,193.0" fill="none" stroke="#383838" stroke-width="7" stroke-linecap="round" stroke-linejoin="round"/>
<path d="M375.1,183.2 L378.0,191.8" fill="none" stroke="#585858" stroke-width="4.4" stroke-linecap="round" stroke-linejoin="round"/>
<path d="M365.0,190.9 C365.4,192.8 365.9,198.4 367.3,202.0 C368.7,205.6 371.5,209.1 373.5,212.6 C375.5,216.1 377.7,220.5 379.2,223.2 C380.7,225.9 381.9,227.9 382.5,228.9" fill="none" stroke="#585858" stroke-width="8" stroke-linecap="round" stroke-linejoin="round"/>
<path d="M364.0,191.3 C364.5,192.9 365.3,197.6 366.9,201.1 C368.5,204.6 371.5,209.0 373.5,212.6 C375.5,216.2 377.8,220.8 378.7,222.4" fill="none" stroke="#787878" stroke-width="5.6" stroke-linecap="round" stroke-linejoin="round"/>
<path d="M368.9,205.2 C369.7,206.5 372.1,210.1 373.8,213.1 C375.5,216.1 378.3,221.5 379.2,223.2" fill="none" stroke="#a7a7a7" stroke-width="3.8" stroke-linecap="round" stroke-linejoin="round"/>
<path d="M375.1,214.2 C375.5,215.3 376.5,218.5 377.6,220.8 C378.7,223.1 380.9,226.9 381.6,228.1" fill="none" stroke="#ffffff" stroke-width="3.0" stroke-linecap="round" stroke-linejoin="round"/>
<path d="M337.5,219.1 C338.6,219.7 341.9,221.4 344.1,222.9 C346.3,224.4 349.8,227.0 350.9,227.8" fill="none" stroke="#282828" stroke-width="15" stroke-linecap="round" stroke-linejoin="round"/>
<path d="M350.9,228.4 C351.3,230.0 353.1,234.7 353.5,237.9 C353.9,241.1 352.6,244.4 353.2,247.7 C353.8,251.0 355.3,255.1 356.8,257.8 C358.3,260.5 361.1,263.1 362.0,264.1" fill="none" stroke="#282828" stroke-width="11" stroke-linecap="round" stroke-linejoin="round"/>
<path d="M337.8,219.3 C338.9,219.9 342.0,221.6 344.1,223.0 C346.2,224.4 349.5,227.0 350.6,227.8" fill="none" stroke="#383838" stroke-width="12" stroke-linecap="round" stroke-linejoin="round"/>
<path d="M350.9,228.4 C351.3,230.0 353.1,234.7 353.5,237.9 C353.9,241.1 352.6,244.4 353.2,247.7 C353.8,251.0 355.5,255.2 356.8,257.8 C358.1,260.4 360.5,262.3 361.2,263.2" fill="none" stroke="#383838" stroke-width="8" stroke-linecap="round" stroke-linejoin="round"/>
<path d="M338.5,219.8 C339.4,220.4 342.1,222.1 344.1,223.4 C346.1,224.7 349.3,227.1 350.3,227.8" fill="none" stroke="#585858" stroke-width="8.5" stroke-linecap="round" stroke-linejoin="round"/>
<path d="M350.9,228.8 C351.3,230.3 353.1,234.8 353.5,237.9 C353.9,241.1 352.7,244.4 353.2,247.7 C353.7,251.0 355.9,255.9 356.5,257.5" fill="none" stroke="#585858" stroke-width="5" stroke-linecap="round" stroke-linejoin="round"/>
<path d="M340.0,220.8 L344.9,223.9" fill="none" stroke="#686868" stroke-width="2.6" stroke-linecap="round" stroke-linejoin="round"/>
<path d="M352.2,233.8 C352.4,235.0 353.3,239.0 353.5,241.2 C353.7,243.4 353.2,245.9 353.2,246.9" fill="none" stroke="#787878" stroke-width="3.2" stroke-linecap="round" stroke-linejoin="round"/>
<path d="M352.9,236.6 L353.4,242.0" fill="none" stroke="#acacac" stroke-width="2.0" stroke-linecap="round" stroke-linejoin="round"/>
<ellipse cx="356.0" cy="257.2" rx="3.4" ry="4" fill="#a7a7a7"/>
<ellipse cx="356.0" cy="257.2" rx="2.2" ry="2.8" fill="#ffffff"/>
<ellipse cx="373.8" cy="269.0" rx="6.5" ry="9" fill="#282828"/>
<ellipse cx="373.8" cy="269.0" rx="4.8" ry="7.5" fill="#383838"/>
<ellipse cx="373.1" cy="266.5" rx="2.6" ry="2.6" fill="#585858"/>
<ellipse cx="375.4" cy="274.7" rx="1.6" ry="1.6" fill="#585858"/>
<path d="M359.6,215.9 C360.6,215.1 363.6,216.8 364.5,218.3 C365.4,219.8 365.7,223.0 365.3,224.8 C364.9,226.6 363.1,229.2 362.0,228.9 C360.9,228.6 359.2,225.4 358.8,223.2 C358.4,221.0 358.7,216.7 359.6,215.9Z" fill="#000"/>
<ellipse cx="371.5" cy="231.4" rx="1.6" ry="1.6" fill="#000000"/>
<path d="M363.7,301.6 C363.7,299.8 367.8,299.5 370.2,299.2 C372.6,298.9 375.5,299.4 378.4,300.0 C381.3,300.6 385.9,299.0 387.4,302.5 C388.9,306.0 388.6,317.8 387.4,321.2 C386.2,324.6 382.1,323.4 380.0,322.9 C377.9,322.4 376.7,320.2 375.1,318.0 C373.5,315.8 372.1,312.5 370.2,309.8 C368.3,307.1 363.7,303.4 363.7,301.6Z" fill="#181818"/>
<ellipse cx="379.2" cy="309.8" rx="4" ry="7" fill="#282828"/>
<ellipse cx="379.2" cy="309.8" rx="2.8" ry="5.5" fill="#383838"/>
<ellipse cx="379.2" cy="309.8" rx="1.4" ry="3.6" fill="#585858"/>
<ellipse cx="375.9" cy="349.0" rx="4" ry="4" fill="#181818"/>
<ellipse cx="320.4" cy="197.9" rx="2.6" ry="2.6" fill="#181818"/>
<path d="M-4.0,405.6 C-1.2,401.8 8.6,405.7 12.8,407.1 C17.0,408.5 19.4,411.3 21.4,414.2 C23.4,417.1 25.2,421.4 25.0,424.3 C24.8,427.2 22.3,430.2 20.0,431.5 C17.7,432.8 15.3,432.4 11.3,432.2 C7.3,432.0 -1.4,434.5 -4.0,430.1 C-6.6,425.7 -6.8,409.4 -4.0,405.6Z" fill="#181818"/>
<path d="M45.8,432.9 C45.8,431.6 50.1,429.1 53.0,429.3 C55.9,429.6 60.0,432.5 63.1,434.4 C66.2,436.3 70.5,439.1 71.7,440.8 C72.9,442.5 72.0,444.1 70.3,444.4 C68.6,444.6 64.6,443.5 61.7,442.3 C58.8,441.1 55.6,438.9 53.0,437.3 C50.4,435.7 45.8,434.2 45.8,432.9Z" fill="#181818"/>
<path d="M84.5,94.8 C86.7,93.1 92.8,91.3 96.5,90.8 C100.2,90.3 103.2,91.0 106.5,91.8 C109.8,92.6 113.2,94.0 116.5,95.8 C119.8,97.6 123.8,99.6 126.5,102.8 C129.2,106.0 130.2,111.2 132.5,114.9 C134.8,118.6 137.8,121.9 140.5,124.9 C143.2,127.9 146.9,130.6 148.6,132.9 C150.3,135.2 150.8,136.7 150.6,138.9 C150.4,141.1 146.9,143.6 147.6,145.9 C148.3,148.2 151.4,151.2 154.6,152.9 C157.8,154.6 163.9,155.7 166.6,155.9 C169.3,156.1 167.3,154.2 170.6,153.9 C173.9,153.6 183.7,153.1 186.6,153.9 C189.5,154.7 188.9,157.6 188.2,158.9 C187.5,160.2 185.5,161.6 182.6,161.9 C179.7,162.2 172.9,160.4 170.6,160.9 C168.3,161.4 168.6,162.2 168.6,164.9 C168.6,167.6 169.6,172.9 170.6,176.9 C171.6,180.9 172.6,186.3 174.6,189.0 C176.6,191.7 179.9,193.5 182.6,193.0 C185.3,192.5 186.9,187.7 190.6,186.0 C194.3,184.3 199.9,182.9 204.6,182.9 C209.3,182.9 214.7,184.0 218.7,186.0 C222.7,188.0 225.4,191.5 228.7,195.0 C232.0,198.5 235.4,203.7 238.7,207.0 C242.0,210.3 246.0,212.3 248.7,215.0 C251.4,217.7 253.0,220.7 254.7,223.0 C256.4,225.3 257.7,226.7 258.7,229.0 C259.7,231.3 259.7,234.0 260.7,237.0 C261.7,240.0 263.0,243.0 264.7,247.0 C266.4,251.0 268.4,256.1 270.7,261.1 C273.0,266.1 278.4,274.5 278.7,277.1 C279.0,279.8 272.2,274.6 272.4,277.0 C272.6,279.4 277.2,287.3 279.7,291.7 C282.1,296.1 284.7,299.5 287.1,303.4 C289.6,307.3 291.9,311.0 294.4,315.2 C296.8,319.4 299.6,324.0 301.8,328.4 C304.0,332.8 305.9,337.0 307.6,341.6 C309.3,346.2 311.0,351.4 312.0,356.3 C313.0,361.2 313.5,366.6 313.5,371.0 C313.5,375.4 312.7,378.8 312.0,382.7 C311.3,386.6 310.1,390.6 309.1,394.5 C308.1,398.4 307.7,402.5 306.2,406.2 C304.7,409.9 302.3,414.3 300.3,416.5 C298.3,418.7 295.4,420.1 294.4,419.4 C293.4,418.7 293.9,415.0 294.4,412.1 C294.9,409.2 296.9,405.0 297.4,401.8 C297.9,398.6 298.1,395.7 297.4,393.0 C296.6,390.3 294.6,387.9 292.9,385.7 C291.2,383.5 289.3,382.2 287.1,379.8 C284.9,377.4 282.1,373.4 279.7,371.0 C277.2,368.6 274.6,367.1 272.4,365.1 C270.2,363.1 268.9,360.4 266.5,359.2 C264.1,358.0 261.6,358.2 257.7,357.8 C253.8,357.4 246.7,357.7 243.0,357.0 C239.3,356.3 237.6,353.0 235.7,353.4 C233.8,353.8 233.0,357.5 231.3,359.2 C229.6,360.9 228.1,363.4 225.4,363.6 C222.7,363.9 218.0,362.9 215.1,360.7 C212.2,358.5 210.2,354.6 207.8,350.4 C205.4,346.2 202.1,341.8 200.4,335.7 C198.7,329.6 198.5,319.1 197.5,313.7 C196.5,308.3 195.8,305.9 194.6,303.1 C193.4,300.3 192.6,296.1 190.6,297.1 C188.6,298.1 185.4,306.9 182.6,309.1 C179.8,311.3 175.4,311.8 173.6,310.1 C171.8,308.4 170.8,302.6 171.6,299.1 C172.4,295.6 175.9,292.4 178.6,289.1 C181.3,285.8 186.3,283.1 187.6,279.1 C188.9,275.1 187.4,270.1 186.6,265.1 C185.8,260.1 184.3,253.7 182.6,249.0 C180.9,244.3 178.6,240.3 176.6,237.0 C174.6,233.7 172.9,230.7 170.6,229.0 C168.3,227.3 164.9,229.0 162.6,227.0 C160.3,225.0 158.6,220.3 156.6,217.0 C154.6,213.7 152.3,209.0 150.6,207.0 C148.9,205.0 148.6,205.0 146.6,205.0 C144.6,205.0 141.5,205.7 138.5,207.0 C135.5,208.3 131.5,210.7 128.5,213.0 C125.5,215.3 122.2,217.7 120.5,221.0 C118.8,224.3 117.8,230.0 118.5,233.0 C119.2,236.0 122.2,237.0 124.5,239.0 C126.8,241.0 129.8,242.7 132.5,245.0 C135.2,247.3 138.5,249.7 140.5,253.0 C142.5,256.4 142.8,261.1 144.5,265.1 C146.2,269.1 147.9,273.1 150.6,277.1 C153.3,281.1 158.3,285.8 160.6,289.1 C162.9,292.4 164.4,294.4 164.2,296.7 C164.0,299.0 161.9,302.0 159.6,302.7 C157.3,303.4 153.4,300.9 150.6,301.1 C147.8,301.3 142.8,302.9 142.5,304.1 C142.2,305.3 147.8,306.6 148.6,308.1 C149.4,309.6 149.9,311.6 147.6,313.1 C145.2,314.6 139.3,315.8 134.5,317.1 C129.7,318.4 123.5,320.1 118.5,321.1 C113.5,322.1 108.8,323.3 104.5,323.1 C100.2,322.9 96.8,321.8 92.5,320.1 C88.2,318.4 81.5,315.3 78.5,313.1 C75.5,310.9 76.8,308.8 74.5,307.1 C72.2,305.4 67.4,305.1 64.4,303.1 C61.4,301.1 58.7,299.1 56.4,295.1 C54.1,291.1 52.1,283.8 50.4,279.1 C48.7,274.4 47.4,270.8 46.4,267.1 C45.4,263.4 43.7,259.5 44.4,257.1 C45.1,254.8 47.4,254.7 50.4,253.0 C53.4,251.3 59.4,250.0 62.4,247.0 C65.4,244.0 66.7,240.0 68.4,235.0 C70.1,230.0 71.4,222.7 72.4,217.0 C73.4,211.3 74.0,205.7 74.5,201.0 C75.0,196.3 74.7,192.3 75.5,189.0 C76.3,185.7 77.3,183.1 79.5,180.9 C81.7,178.7 86.2,177.6 88.5,175.9 C90.8,174.2 93.1,172.6 93.5,170.9 C93.9,169.2 90.1,167.2 90.9,165.9 C91.7,164.6 95.9,163.7 98.5,162.9 C101.1,162.1 105.8,162.2 106.5,160.9 C107.2,159.6 102.5,156.9 102.5,154.9 C102.5,152.9 106.5,150.9 106.5,148.9 C106.5,146.9 103.8,145.2 102.5,142.9 C101.2,140.6 100.2,138.2 98.5,134.9 C96.8,131.6 94.5,126.9 92.5,122.9 C90.5,118.9 88.0,114.5 86.5,110.8 C85.0,107.1 83.8,103.5 83.5,100.8 C83.2,98.1 82.3,96.5 84.5,94.8Z" fill="#181818"/>
<path d="M272.4,326.9 C273.6,325.4 277.2,323.3 279.7,324.0 C282.1,324.7 284.7,328.1 287.1,331.3 C289.6,334.5 291.9,339.2 294.4,343.1 C296.8,347.0 300.8,351.9 301.8,354.8 C302.8,357.7 301.5,360.0 300.3,360.7 C299.1,361.4 296.8,360.9 294.4,359.2 C291.9,357.5 288.5,353.6 285.6,350.4 C282.7,347.2 279.0,343.0 276.8,340.1 C274.6,337.2 273.1,335.0 272.4,332.8 C271.7,330.6 271.2,328.4 272.4,326.9Z" fill="#000"/>
<ellipse cx="142.5" cy="223.0" rx="9" ry="6" fill="#181818" transform="rotate(-10 142.5 223.0)"/>
<ellipse cx="153.6" cy="320.1" rx="3.5" ry="4.5" fill="#181818"/>
<ellipse cx="79.5" cy="87.8" rx="4.5" ry="4" fill="#181818" transform="rotate(30 79.5 87.8)"/>
<path d="M98.1,106.4 C98.8,107.7 100.9,111.3 102.5,113.9 C104.1,116.5 105.7,119.3 107.5,121.9 C109.3,124.5 111.9,127.5 113.5,129.3 C115.1,131.1 116.7,132.3 117.3,132.9" fill="none" stroke="#282828" stroke-width="14" stroke-linecap="round" stroke-linejoin="round"/>
<path d="M98.5,107.2 L102.1,114.9" fill="none" stroke="#383838" stroke-width="9.5" stroke-linecap="round" stroke-linejoin="round"/>
<path d="M103.5,117.9 L107.5,123.9" fill="none" stroke="#383838" stroke-width="9.5" stroke-linecap="round" stroke-linejoin="round"/>
<path d="M108.5,125.5 C109.3,126.1 112.1,128.2 113.5,129.3 C114.9,130.4 116.3,131.6 116.9,132.1" fill="none" stroke="#383838" stroke-width="10.1" stroke-linecap="round" stroke-linejoin="round"/>
<path d="M108.9,126.1 C109.7,126.7 112.3,128.6 113.5,129.5 C114.7,130.4 115.7,131.2 116.1,131.5" fill="none" stroke="#484848" stroke-width="4.2" stroke-linecap="round" stroke-linejoin="round"/>
<path d="M110.5,127.5 L114.9,130.7" fill="none" stroke="#5e5e5e" stroke-width="2.4" stroke-linecap="round" stroke-linejoin="round"/>
<path d="M122.5,142.5 C124.1,141.3 129.4,135.2 132.1,135.3 C134.8,135.4 137.0,140.1 138.5,142.9 C140.0,145.7 139.9,149.1 140.9,151.9 C141.9,154.7 143.9,158.6 144.5,159.9" fill="none" stroke="#282828" stroke-width="20" stroke-linecap="round" stroke-linejoin="round"/>
<path d="M122.5,142.5 C123.5,141.7 126.9,139.2 128.5,137.9 C130.1,136.6 130.5,134.2 132.1,134.9 C133.7,135.6 136.7,139.2 138.1,141.9 C139.5,144.6 139.5,148.0 140.5,150.9 C141.5,153.8 143.5,157.9 144.1,159.3" fill="none" stroke="#383838" stroke-width="14.5" stroke-linecap="round" stroke-linejoin="round"/>
<path d="M122.9,142.5 C123.8,141.8 127.0,139.3 128.5,138.1 C130.0,136.9 130.6,134.8 132.1,135.3 C133.6,135.8 136.4,138.8 137.7,141.3 C139.0,143.8 139.1,147.6 140.1,150.5 C141.1,153.4 142.9,157.2 143.5,158.5" fill="none" stroke="#585858" stroke-width="10.5" stroke-linecap="round" stroke-linejoin="round"/>
<path d="M123.5,142.3 C124.3,141.6 127.1,139.4 128.5,138.3 C129.9,137.2 130.6,135.2 132.1,135.7 C133.6,136.2 136.0,138.9 137.3,141.3 C138.6,143.7 138.9,147.5 139.7,149.9 C140.5,152.3 141.7,154.9 142.1,155.9" fill="none" stroke="#787878" stroke-width="7.4" stroke-linecap="round" stroke-linejoin="round"/>
<path d="M124.5,141.7 C125.2,141.2 127.6,139.4 128.9,138.5 C130.2,137.6 130.8,135.6 132.1,136.1 C133.4,136.6 135.7,139.1 136.9,141.3 C138.1,143.5 138.6,147.2 139.3,149.3 C140.0,151.4 140.6,153.1 140.9,153.9" fill="none" stroke="#878787" stroke-width="5.2" stroke-linecap="round" stroke-linejoin="round"/>
<path d="M132.9,136.9 C133.6,137.7 135.9,139.7 136.9,141.7 C137.9,143.7 138.6,147.1 139.1,148.9 C139.6,150.7 139.9,151.9 140.1,152.5" fill="none" stroke="#9c9c9c" stroke-width="3.4" stroke-linecap="round" stroke-linejoin="round"/>
<path d="M137.5,142.9 L139.5,149.9" fill="none" stroke="#bcbcbc" stroke-width="2.6" stroke-linecap="round" stroke-linejoin="round"/>
<ellipse cx="139.5" cy="146.9" rx="1.7" ry="3.4" fill="#f1f1f1"/>
<ellipse cx="136.5" cy="173.3" rx="4.800000000000001" ry="4.800000000000001" fill="#282828"/>
<ellipse cx="136.5" cy="173.3" rx="2.6" ry="2.6" fill="#383838"/>
<ellipse cx="158.6" cy="175.9" rx="5.2" ry="5.2" fill="#282828"/>
<ellipse cx="158.6" cy="175.9" rx="3.0" ry="3.0" fill="#383838"/>
<ellipse cx="134.1" cy="164.9" rx="4.4" ry="4.4" fill="#282828"/>
<ellipse cx="134.1" cy="164.9" rx="2.2" ry="2.2" fill="#383838"/>
<ellipse cx="139.5" cy="164.9" rx="4.2" ry="4.2" fill="#282828"/>
<ellipse cx="139.5" cy="164.9" rx="2.0" ry="2.0" fill="#383838"/>
<ellipse cx="136.5" cy="173.3" rx="1.2" ry="1.2" fill="#5e5e5e"/>
<ellipse cx="158.6" cy="175.9" rx="1.3" ry="1.3" fill="#5e5e5e"/>
<ellipse cx="142.5" cy="185.0" rx="3.4" ry="4" fill="#282828"/>
<ellipse cx="149.6" cy="172.9" rx="3.5" ry="3.5" fill="#282828"/>
<ellipse cx="132.5" cy="156.9" rx="4" ry="6" fill="#282828"/>
<path d="M187.6,207.0 L188.6,218.0" fill="none" stroke="#282828" stroke-width="7" stroke-linecap="round" stroke-linejoin="round"/>
<path d="M187.6,207.4 L188.6,217.6" fill="none" stroke="#383838" stroke-width="4.6" stroke-linecap="round" stroke-linejoin="round"/>
<path d="M187.8,210.0 L188.4,215.0" fill="none" stroke="#5c5c5c" stroke-width="1.8" stroke-linecap="round" stroke-linejoin="round"/>
<path d="M191.9,214.3 C193.2,211.4 195.6,211.2 197.4,211.2 C199.3,211.2 201.8,212.4 203.1,214.3 C204.4,216.3 204.0,218.9 205.4,222.7 C206.7,226.6 208.4,232.6 211.0,237.3 C213.6,242.0 218.5,246.8 221.1,251.0 C223.7,255.2 225.3,258.8 226.6,262.5 C227.9,266.2 229.4,270.7 228.9,272.9 C228.3,275.2 224.9,276.1 223.2,276.1 C221.6,276.1 219.9,272.4 218.8,272.9 C217.7,273.4 217.3,276.7 216.5,279.2 C215.8,281.6 215.7,286.0 214.4,287.6 C213.1,289.2 210.4,289.6 208.7,288.6 C207.0,287.6 205.7,284.6 204.2,281.3 C202.7,278.0 201.6,272.6 199.7,268.8 C197.9,264.9 194.7,262.1 193.0,258.2 C191.3,254.4 190.2,250.6 189.6,245.7 C189.1,240.8 189.3,234.2 189.6,229.0 C190.0,223.8 190.6,217.3 191.9,214.3Z" fill="#282828"/>
<ellipse cx="196.4" cy="263.4" rx="5" ry="6" fill="#282828"/>
<ellipse cx="201.1" cy="213.9" rx="5" ry="5" fill="#282828"/>
<path d="M194.6,218.6 C195.7,215.9 197.6,215.8 199.2,215.8 C200.8,215.8 202.8,216.9 203.9,218.6 C205.0,220.3 204.7,222.7 205.8,226.1 C206.9,229.5 208.3,234.9 210.5,239.1 C212.7,243.3 216.7,247.6 218.9,251.3 C221.1,255.1 222.4,258.3 223.5,261.6 C224.6,264.9 225.9,268.9 225.4,270.9 C224.9,272.9 222.1,273.7 220.7,273.7 C219.3,273.7 217.9,270.4 217.0,270.9 C216.1,271.4 215.7,274.3 215.1,276.5 C214.5,278.7 214.4,282.6 213.3,284.0 C212.2,285.4 210.0,285.8 208.6,284.9 C207.2,284.0 206.1,281.3 204.8,278.4 C203.6,275.4 202.7,270.6 201.1,267.2 C199.5,263.8 196.9,261.2 195.5,257.8 C194.1,254.4 193.2,250.9 192.7,246.6 C192.2,242.2 192.4,236.4 192.7,231.7 C193.0,227.0 193.5,221.2 194.6,218.6Z" fill="#383838"/>
<path d="M196.0,223.2 C196.7,221.3 198.5,220.4 199.7,220.4 C200.9,220.4 202.2,221.5 203.0,223.2 C203.8,224.9 203.7,227.6 204.8,230.7 C205.9,233.8 207.5,238.3 209.5,241.9 C211.5,245.5 215.0,248.9 217.0,252.2 C219.0,255.5 220.7,258.8 221.7,261.6 C222.7,264.4 223.3,267.4 223.1,269.0 C222.9,270.6 221.3,271.4 220.3,270.9 C219.3,270.4 218.0,266.2 217.0,266.2 C216.0,266.2 214.8,268.4 214.2,270.9 C213.6,273.4 214.1,279.3 213.3,281.2 C212.5,283.1 210.6,283.0 209.5,282.1 C208.4,281.2 207.6,278.4 206.7,275.6 C205.8,272.8 205.2,268.9 203.9,265.3 C202.7,261.7 200.5,257.5 199.2,254.1 C197.9,250.7 196.6,248.4 196.0,244.7 C195.4,241.0 195.5,235.3 195.5,231.7 C195.5,228.1 195.3,225.1 196.0,223.2Z" fill="#585858"/>
<path d="M196.9,226.1 C197.4,224.4 198.8,223.2 199.7,223.2 C200.5,223.2 201.3,224.4 202.0,226.1 C202.7,227.8 202.8,230.6 203.9,233.5 C205.0,236.4 206.7,240.5 208.6,243.8 C210.5,247.1 213.7,250.2 215.6,253.2 C217.5,256.2 218.9,259.3 219.8,261.6 C220.7,263.9 221.2,266.1 221.2,267.2 C221.2,268.3 220.6,269.0 219.8,268.1 C219.0,267.2 217.6,261.9 216.5,261.6 C215.4,261.3 214.0,263.2 213.3,266.2 C212.6,269.1 212.9,277.0 212.3,279.3 C211.8,281.6 210.8,280.7 210.0,279.8 C209.2,278.9 208.5,276.3 207.7,273.7 C206.9,271.1 206.4,267.8 205.3,264.4 C204.2,261.0 202.4,256.6 201.1,253.2 C199.8,249.8 198.1,247.1 197.4,243.8 C196.7,240.5 197.0,236.4 196.9,233.5 C196.8,230.6 196.4,227.8 196.9,226.1Z" fill="#787878"/>
<path d="M197.8,227.9 C198.1,226.7 199.1,225.9 199.7,226.1 C200.3,226.3 200.7,227.2 201.3,228.9 C201.9,230.6 202.1,233.5 203.2,236.3 C204.3,239.1 206.0,243.0 207.7,245.7 C209.4,248.3 211.6,249.7 213.3,252.2 C215.0,254.7 216.9,258.4 217.9,260.6 C218.9,262.8 219.5,265.3 219.3,265.3 C219.2,265.3 218.2,261.2 217.0,260.6 C215.8,260.0 213.2,259.0 212.3,261.6 C211.4,264.2 211.8,274.0 211.4,276.5 C211.0,279.0 210.6,277.4 210.0,276.5 C209.4,275.6 208.7,273.2 208.1,270.9 C207.5,268.6 207.6,265.8 206.7,262.5 C205.8,259.2 203.8,254.7 202.5,251.3 C201.2,247.9 199.5,244.9 198.8,241.9 C198.1,238.9 198.3,235.8 198.1,233.5 C197.9,231.2 197.5,229.1 197.8,227.9Z" fill="#9b9b9b"/>
<path d="M200.0,229.3 C200.2,230.6 200.5,234.9 201.1,237.3 C201.7,239.7 202.6,242.1 203.4,243.8 C204.2,245.5 205.4,246.9 205.8,247.5" fill="none" stroke="#ababab" stroke-width="2.6" stroke-linecap="round" stroke-linejoin="round"/>
<path d="M215.1,256.0 L217.9,261.6" fill="none" stroke="#ababab" stroke-width="2.2" stroke-linecap="round" stroke-linejoin="round"/>
<path d="M208.4,264.4 L209.1,272.8" fill="none" stroke="#ababab" stroke-width="2.4" stroke-linecap="round" stroke-linejoin="round"/>
<ellipse cx="200.2" cy="232.1" rx="1.5" ry="3.8" fill="#ffffff"/>
<ellipse cx="202.6" cy="242.1" rx="2.0" ry="1.8" fill="#e1e1e1"/>
<ellipse cx="217.5" cy="259.9" rx="1.5" ry="2.6" fill="#f1f1f1"/>
<ellipse cx="208.7" cy="269.0" rx="1.5" ry="3.6" fill="#ffffff"/>
<path d="M219.7,276.1 C220.8,278.1 224.9,283.8 226.3,288.1 C227.7,292.4 227.6,299.8 227.9,302.1" fill="none" stroke="#282828" stroke-width="5.6" stroke-linecap="round" stroke-linejoin="round"/>
<path d="M220.3,277.1 C221.3,278.9 225.0,284.0 226.3,288.1 C227.6,292.2 227.6,299.3 227.9,301.5" fill="none" stroke="#383838" stroke-width="3.6" stroke-linecap="round" stroke-linejoin="round"/>
<path d="M222.7,281.1 C223.4,282.5 225.9,286.5 226.7,289.5 C227.5,292.5 227.5,297.5 227.7,299.1" fill="none" stroke="#5c5c5c" stroke-width="1.4" stroke-linecap="round" stroke-linejoin="round"/>
<ellipse cx="198.6" cy="263.1" rx="5" ry="6" fill="#282828"/>
<ellipse cx="192.6" cy="289.1" rx="4.2" ry="4.6" fill="#282828"/>
<path d="M116.9,244.6 C116.2,246.7 114.2,252.4 112.9,257.1 C111.6,261.9 110.1,268.1 108.9,273.1 C107.7,278.1 107.2,283.2 105.5,287.1 C103.8,291.0 99.7,295.1 98.5,296.7" fill="none" stroke="#282828" stroke-width="9.5" stroke-linecap="round" stroke-linejoin="round"/>
<path d="M116.7,245.4 C116.1,247.4 114.2,252.5 112.9,257.1 C111.6,261.7 110.1,268.1 108.9,273.1 C107.7,278.1 107.2,283.2 105.5,287.1 C103.8,291.0 99.7,294.8 98.5,296.3" fill="none" stroke="#383838" stroke-width="7.6" stroke-linecap="round" stroke-linejoin="round"/>
<path d="M116.1,248.0 C115.5,249.7 113.9,253.9 112.7,258.1 C111.5,262.3 110.1,268.3 108.9,273.1 C107.7,277.9 107.3,283.0 105.7,286.7 C104.1,290.4 100.4,294.0 99.3,295.5" fill="none" stroke="#585858" stroke-width="5.6" stroke-linecap="round" stroke-linejoin="round"/>
<path d="M114.5,252.0 C114.1,253.3 113.1,256.5 112.1,260.1 C111.1,263.7 109.8,269.1 108.7,273.5 C107.6,277.9 107.1,282.8 105.7,286.3 C104.3,289.8 101.0,293.3 100.1,294.7" fill="none" stroke="#787878" stroke-width="4.2" stroke-linecap="round" stroke-linejoin="round"/>
<path d="M112.9,257.1 C112.6,258.4 111.6,262.3 110.9,265.1 C110.2,267.9 109.3,270.7 108.5,274.1 C107.7,277.5 107.1,282.3 105.9,285.5 C104.7,288.7 102.1,292.2 101.3,293.5" fill="none" stroke="#8c8c8c" stroke-width="2.8" stroke-linecap="round" stroke-linejoin="round"/>
<path d="M104.5,289.5 L99.5,295.1" fill="none" stroke="#787878" stroke-width="6.0" stroke-linecap="round" stroke-linejoin="round"/>
<path d="M104.5,289.9 L100.1,294.7" fill="none" stroke="#8c8c8c" stroke-width="4.2" stroke-linecap="round" stroke-linejoin="round"/>
<path d="M111.7,255.5 L110.5,263.1" fill="none" stroke="#aeaeae" stroke-width="1.7" stroke-linecap="round" stroke-linejoin="round"/>
<path d="M240.7,227.0 C241.5,229.0 243.9,235.3 245.7,239.0 C247.5,242.7 249.8,245.0 251.7,249.0 C253.6,253.0 255.5,258.6 257.1,263.1 C258.7,267.6 259.3,271.9 261.1,276.1 C262.9,280.3 265.3,284.1 267.7,288.1 C270.1,292.1 273.0,296.1 275.7,300.1 C278.4,304.1 281.0,308.4 283.7,312.1 C286.4,315.8 290.5,320.6 291.8,322.1 C293.1,323.6 290.1,318.8 291.5,321.1 C292.9,323.4 298.8,333.3 300.3,335.7" fill="none" stroke="#282828" stroke-width="9.5" stroke-linecap="round" stroke-linejoin="round"/>
<path d="M242.7,231.4 C243.4,232.8 245.1,236.8 246.7,240.0 C248.3,243.2 250.6,246.8 252.3,250.6 C254.0,254.4 255.6,258.9 257.1,263.1 C258.6,267.4 259.3,271.9 261.1,276.1 C262.9,280.3 265.3,284.1 267.7,288.1 C270.1,292.1 273.0,296.1 275.7,300.1 C278.4,304.1 281.1,308.5 283.7,312.1 C286.3,315.7 289.9,320.0 291.2,321.5 C292.5,323.0 290.0,318.9 291.5,321.1 C293.0,323.4 298.6,332.7 300.0,335.0" fill="none" stroke="#383838" stroke-width="6.2" stroke-linecap="round" stroke-linejoin="round"/>
<path d="M248.7,243.0 C249.4,244.5 251.4,248.8 252.7,252.0 C254.0,255.2 256.0,260.4 256.7,262.1" fill="none" stroke="#484848" stroke-width="2.6" stroke-linecap="round" stroke-linejoin="round"/>
<path d="M263.7,281.1 C264.5,282.4 266.3,285.9 268.3,289.1 C270.3,292.3 273.1,296.3 275.7,300.1 C278.3,303.9 281.3,308.8 283.7,312.1 C286.1,315.4 288.5,318.6 289.8,320.1 C291.1,321.6 290.0,319.0 291.5,321.1 C293.0,323.2 297.6,330.9 298.8,332.8" fill="none" stroke="#585858" stroke-width="4.4" stroke-linecap="round" stroke-linejoin="round"/>
<path d="M266.7,286.7 C267.0,287.2 267.2,287.6 268.7,289.9 C270.2,292.2 273.5,297.3 275.7,300.5 C277.9,303.7 280.7,307.7 281.7,309.1" fill="none" stroke="#8b8b8b" stroke-width="3.0" stroke-linecap="round" stroke-linejoin="round"/>
<path d="M285.6,312.2 C286.6,313.7 290.0,318.8 291.5,321.1 C293.0,323.4 293.9,325.4 294.4,326.2" fill="none" stroke="#8b8b8b" stroke-width="2.0" stroke-linecap="round" stroke-linejoin="round"/>
<ellipse cx="235.7" cy="319.6" rx="4.6" ry="6" fill="#282828"/>
<ellipse cx="235.7" cy="319.6" rx="3.4" ry="4.8" fill="#383838"/>
<ellipse cx="235.7" cy="319.6" rx="1.8" ry="3" fill="#8e8e8e"/>
<path d="M231.0,331.0 C232.3,332.3 236.1,336.2 238.6,338.7 C241.1,341.2 243.5,344.2 246.0,346.0 C248.5,347.8 252.3,348.7 253.6,349.2" fill="none" stroke="#282828" stroke-width="7" stroke-linecap="round" stroke-linejoin="round"/>
<path d="M231.3,331.3 C232.5,332.5 236.2,336.2 238.6,338.7 C241.0,341.1 243.6,344.3 246.0,346.0 C248.4,347.7 252.1,348.5 253.3,349.0" fill="none" stroke="#383838" stroke-width="5" stroke-linecap="round" stroke-linejoin="round"/>
<path d="M231.9,331.9 C233.0,333.0 236.2,336.4 238.6,338.8 C240.9,341.2 243.7,344.4 246.0,346.0 C248.3,347.6 251.6,348.2 252.7,348.7" fill="none" stroke="#585858" stroke-width="3.4" stroke-linecap="round" stroke-linejoin="round"/>
<path d="M234.2,334.6 C235.0,335.4 236.9,337.4 238.9,339.3 C240.9,341.2 244.0,344.7 246.0,346.2 C248.0,347.7 250.2,347.9 251.1,348.2" fill="none" stroke="#8e8e8e" stroke-width="1.8" stroke-linecap="round" stroke-linejoin="round"/>
<path d="M259.9,342.3 C261.5,343.4 266.4,346.1 269.5,349.0 C272.6,351.9 277.1,358.2 278.6,360.0" fill="none" stroke="#282828" stroke-width="9.5" stroke-linecap="round" stroke-linejoin="round"/>
<path d="M260.2,342.6 C261.8,343.7 266.5,346.2 269.5,349.0 C272.5,351.8 276.8,357.8 278.3,359.5" fill="none" stroke="#383838" stroke-width="7.5" stroke-linecap="round" stroke-linejoin="round"/>
<path d="M260.9,343.4 C262.3,344.4 266.7,346.6 269.5,349.2 C272.3,351.8 276.4,357.3 277.8,358.9" fill="none" stroke="#686868" stroke-width="5.4" stroke-linecap="round" stroke-linejoin="round"/>
<path d="M261.8,344.3 C263.1,345.2 266.9,347.2 269.5,349.5 C272.1,351.8 275.9,356.7 277.2,358.1" fill="none" stroke="#979797" stroke-width="3.8" stroke-linecap="round" stroke-linejoin="round"/>
<path d="M262.4,344.8 C263.6,345.6 267.1,347.8 269.5,349.8 C271.9,351.8 275.3,355.8 276.5,357.0" fill="none" stroke="#b7b7b7" stroke-width="2.6" stroke-linecap="round" stroke-linejoin="round"/>
<path d="M263.0,345.7 L268.7,349.5" fill="none" stroke="#ffffff" stroke-width="1.9" stroke-linecap="round" stroke-linejoin="round"/>
<ellipse cx="291.8" cy="371.7" rx="5.4" ry="9" fill="#282828"/>
<ellipse cx="291.8" cy="371.7" rx="4.2" ry="7.6" fill="#383838"/>
<ellipse cx="291.8" cy="371.7" rx="2.8" ry="6" fill="#787878"/>
<ellipse cx="291.8" cy="371.7" rx="1.9" ry="4.6" fill="#a7a7a7"/>
<ellipse cx="291.5" cy="370.2" rx="1.2" ry="3" fill="#f1f1f1"/>
<ellipse cx="301.8" cy="403.3" rx="3.4" ry="9.5" fill="#282828" transform="rotate(20 301.8 403.3)"/>
<path d="M204.8,299.0 L206.3,318.1" fill="none" stroke="#282828" stroke-width="1.8" stroke-linecap="round" stroke-linejoin="round"/>
<ellipse cx="191.6" cy="288.0" rx="2.5" ry="3.5" fill="#282828" transform="rotate(30 191.6 288.0)"/>
<path d="M225.4,316.6 L231.3,326.2" fill="none" stroke="#282828" stroke-width="4.5" stroke-linecap="round" stroke-linejoin="round"/>
<ellipse cx="254.8" cy="310.0" rx="1.8" ry="1.8" fill="#282828"/></g><ellipse cx="362.3" cy="221.6" rx="2.8" ry="4.4" fill="#fff" transform="rotate(-15 362.3 221.6)"/><circle cx="371" cy="230.3" r="1.5" fill="#fff"/>
<use href="#coast" opacity="0.42"/><use href="#grid"/>
</g>
<use href="#frame"/>
</g>
<text class="s" x="781.5" y="64.6" font-size="43.5">(b)</text>
<rect x="1361.5" y="107.80" width="33.2" height="38.50" fill="#cd0000"/>
<rect x="1361.5" y="146.00" width="33.2" height="38.50" fill="#d72800"/>
<rect x="1361.5" y="184.20" width="33.2" height="38.50" fill="#eb0000"/>
<rect x="1361.5" y="222.40" width="33.2" height="38.50" fill="#e60064"/>
<rect x="1361.5" y="260.60" width="33.2" height="38.50" fill="#eb465a"/>
<rect x="1361.5" y="298.80" width="33.2" height="38.50" fill="#faaa00"/>
<rect x="1361.5" y="337.00" width="33.2" height="38.50" fill="#ffff00"/>
<rect x="1361.5" y="375.20" width="33.2" height="38.50" fill="#cdf500"/>
<rect x="1361.5" y="413.40" width="33.2" height="38.50" fill="#82f500"/>
<rect x="1361.5" y="451.60" width="33.2" height="38.50" fill="#82f582"/>
<rect x="1361.5" y="489.80" width="33.2" height="38.50" fill="#78fafa"/>
<rect x="1361.5" y="528.00" width="33.2" height="38.50" fill="#128eff"/>
<rect x="1361.5" y="566.20" width="33.2" height="38.50" fill="#003cff"/>
<rect x="1361.5" y="604.40" width="33.2" height="38.50" fill="#aa46ff"/>
<rect x="1361.5" y="642.60" width="33.2" height="38.50" fill="#b28eff"/>
<g transform="translate(141.6,899.1)">
<g clip-path="url(#clip)">
<use href="#land"/><g clip-path="url(#italyclip)"><path d="M155.4,145.0 L167.1,162.0 L178.5,177.2 L189.9,192.4 L197.5,207.5 L199.3,228.4 L205.0,249.2 L271.4,249.2 L271.4,145.0Z" fill="#fff"/></g><use href="#bord"/><use href="#coast" filter="url(#soft2)"/>
<g filter="url(#cmC)"><rect x="-12" y="-12" width="414" height="606" fill="#000"/><path d="M4.4,42.0 L16.4,41.0 L20.4,49.0 L26.4,48.0 L24.4,55.0 L16.4,53.0 L10.4,50.0 L4.4,49.0Z" fill="#181818"/>
<ellipse cx="20.4" cy="51.0" rx="2" ry="2" fill="#282828"/>
<path d="M62.5,71.0 L74.5,71.0 L75.5,76.0 L66.5,79.0 L61.5,75.0Z" fill="#181818"/>
<path d="M122.6,85.0 L128.6,81.0 L136.6,91.0 L146.6,87.0 L142.6,99.0 L152.6,101.0 L156.6,113.1 L150.6,115.1 L144.6,113.1 L138.6,110.1 L142.6,101.0 L132.6,105.0 L126.6,97.0 L126.6,89.0Z" fill="#181818"/>
<path d="M98.5,117.1 L110.6,113.1 L116.6,97.0 L120.6,99.0 L114.6,117.1 L110.6,129.1 L104.5,129.1 L100.5,121.1Z" fill="#181818"/>
<path d="M142.6,129.1 L150.6,125.1 L158.6,121.1 L164.6,133.1 L156.6,137.1 L150.6,143.1 L144.6,139.1Z" fill="#181818"/>
<ellipse cx="151.0" cy="133.1" rx="5" ry="4" fill="#282828"/>
<path d="M172.6,149.1 L182.7,151.1 L192.7,145.1 L198.7,153.1 L200.7,165.1 L208.7,173.1 L214.7,171.1 L212.7,181.2 L206.7,183.2 L198.7,179.1 L194.7,173.1 L186.7,165.1 L178.7,161.1 L174.6,157.1Z" fill="#181818"/>
<path d="M176.6,151.1 L184.7,153.1 L192.3,148.1 L196.7,155.1 L198.7,167.1 L202.7,175.1 L196.7,177.1 L190.7,169.1 L182.7,163.1 L177.7,158.1Z" fill="#282828"/>
<path d="M180.7,155.5 L193.7,155.1 L194.7,162.1 L181.7,163.1Z" fill="#3d3d3d"/>
<path d="M182.7,167.1 C183.5,165.8 189.9,164.8 191.7,165.5 C193.5,166.2 194.5,169.8 193.7,171.1 C192.9,172.4 188.5,174.2 186.7,173.5 C184.9,172.8 181.9,168.4 182.7,167.1Z" fill="#000"/>
<path d="M152.6,161.1 L162.6,157.1 L168.6,155.1 L164.6,167.1 L158.6,173.1 L154.6,167.1Z" fill="#181818"/>
<ellipse cx="163.0" cy="160.1" rx="3" ry="4" fill="#282828"/>
<path d="M78.5,151.1 L88.5,148.1 L96.5,153.1 L106.6,155.1 L110.6,177.1 L102.5,181.2 L98.5,193.2 L88.5,201.2 L82.5,191.2 L74.5,187.2 L73.5,177.1 L82.5,181.2 L86.5,175.1 L82.5,171.1 L80.5,161.1Z" fill="#181818"/>
<path d="M148.6,187.2 L152.6,191.2 L158.6,201.2 L152.6,199.2 L148.6,193.2Z" fill="#181818"/>
<path d="M154.6,213.2 L158.6,211.2 L159.6,221.2 L155.6,219.2Z" fill="#181818"/>
<path d="M120.6,221.2 L126.6,219.2 L130.6,231.2 L138.6,227.2 L144.6,227.2 L146.6,241.2 L142.6,261.3 L138.6,271.3 L141.6,281.3 L134.6,281.3 L126.6,279.3 L118.6,281.3 L110.6,289.3 L102.5,300.9 L82.5,300.9 L80.5,293.3 L86.5,289.3 L94.5,287.3 L98.5,281.3 L110.6,275.3 L118.6,267.3 L122.6,251.3 L116.6,241.2 L114.6,231.2Z" fill="#181818"/>
<ellipse cx="120.6" cy="278.3" rx="5" ry="4" fill="#282828"/>
<ellipse cx="102.5" cy="288.3" rx="6" ry="5" fill="#282828"/>
<ellipse cx="102.9" cy="288.9" rx="1.6" ry="1.6" fill="#3d3d3d"/>
<path d="M34.5,271.3 L44.5,263.3 L52.5,261.3 L64.5,265.3 L70.5,277.3 L72.5,291.3 L64.5,293.3 L54.5,289.3 L46.5,291.3 L40.5,281.3Z" fill="#181818"/>
<ellipse cx="52.5" cy="276.3" rx="8" ry="7" fill="#282828"/>
<path d="M208.7,55.0 L214.7,57.0 L222.7,63.0 L225.7,75.0 L220.7,75.0 L216.7,67.0 L210.7,61.0Z" fill="#181818"/>
<path d="M82.5,300.9 L110.6,289.3 L118.6,300.9 L110.6,280.9 L106.6,294.9 L94.5,294.9 L92.5,302.9 L84.5,302.9 L80.5,288.9Z" fill="#181818"/>
<ellipse cx="102.5" cy="287.9" rx="5" ry="5" fill="#282828"/>
<path d="M42.5,272.9 L72.5,272.9 L70.5,290.9 L58.5,288.9 L48.5,288.9Z" fill="#181818"/>
<path d="M214.5,202.6 L227.3,197.8 L241.7,204.2 L251.3,213.8 L261.0,228.2 L262.6,244.2 L270.6,260.3 L275.4,279.5 L281.8,298.7 L291.4,314.7 L299.4,330.8 L309.0,342.0 L318.7,345.2 L321.9,356.4 L312.2,364.4 L302.6,369.2 L299.4,382.1 L304.2,391.7 L302.6,401.0 L306.8,341.6 L312.1,350.1 L318.5,346.9 L321.7,356.5 L315.3,363.0 L304.6,366.2 L300.4,371.5 L302.5,382.2 L311.0,386.5 L304.6,392.9 L306.8,401.4 L312.1,407.8 L311.0,418.5 L313.2,431.3 L306.8,439.9 L298.2,444.1 L294.0,446.3 L296.1,451.6 L299.3,458.0 L292.9,457.0 L289.7,465.5 L284.3,467.7 L281.1,453.8 L279.0,439.9 L284.3,431.3 L288.6,424.9 L281.1,421.7 L286.5,414.2 L283.3,400.3 L279.0,386.5 L274.7,376.8 L259.8,375.8 L244.8,377.9 L244.8,384.3 L238.4,377.9 L230.5,382.1 L225.7,374.0 L222.5,361.2 L219.3,345.2 L214.5,334.0 L219.3,321.2 L214.5,308.3 L217.7,295.5 L222.5,282.7 L219.3,273.1 L216.1,260.3 L212.9,247.4 L203.3,241.0 L198.5,231.4 L200.1,217.0 L196.9,207.4 L201.7,201.0 L206.5,209.0 L212.9,209.0Z" fill="#181818"/>
<path d="M222.5,289.1 L232.1,285.9 L248.1,289.1 L261.0,321.2 L299.4,330.8 L307.4,342.0 L302.6,350.0 L297.8,361.2 L293.0,377.2 L296.2,401.0 L289.7,352.3 L291.8,368.3 L289.7,382.2 L296.1,395.0 L294.0,399.3 L288.6,392.9 L283.3,390.7 L279.0,377.9 L272.6,363.0 L265.1,358.7 L254.4,358.7 L243.7,363.0 L238.4,366.2 L230.5,369.2 L222.5,361.2 L219.3,337.2Z" fill="#282828"/>
<path d="M298.2,414.2 L307.8,413.2 L311.0,419.6 L306.8,432.4 L300.4,433.5 L297.2,422.8Z" fill="#282828"/>
<path d="M198.5,209.0 L206.5,207.4 L211.3,215.4 L212.9,228.2 L211.3,241.0 L204.9,241.0 L199.3,231.4Z" fill="#282828"/>
<path d="M241.7,228.2 L253.0,231.4 L261.0,244.2 L267.4,260.3 L273.8,282.7 L280.2,301.9 L289.8,318.0 L299.4,334.0 L299.4,343.6 L289.8,340.4 L277.0,334.0 L261.0,334.0 L257.8,345.2 L254.6,358.0 L241.7,361.2 L230.5,364.4 L227.3,353.2 L228.9,337.2 L235.3,329.2 L248.1,326.0 L248.1,313.1 L243.3,297.1 L238.5,282.7 L238.5,263.5 L238.5,247.4 L236.9,236.2Z" fill="#383838"/>
<path d="M214.5,213.8 L224.1,215.4 L222.5,228.2 L222.5,241.0 L222.5,253.8 L225.7,273.1 L228.9,285.9 L222.5,282.7 L217.7,263.5 L216.1,244.2 L212.9,228.2Z" fill="#383838"/>
<ellipse cx="201.7" cy="207.4" rx="3.5" ry="5.5" fill="#383838"/>
<ellipse cx="274.6" cy="353.2" rx="3" ry="6" fill="#383838"/>
<path d="M228.9,220.2 L236.9,221.8 L235.3,231.4 L228.9,229.8Z" fill="#000"/>
<path d="M232.1,247.4 L240.1,250.6 L240.1,263.5 L236.9,279.5 L230.5,284.3 L225.7,273.1 L224.1,260.3 L225.7,250.6Z" fill="#000"/>
<path d="M206.5,233.0 L214.5,236.2 L214.5,247.4 L206.5,244.2Z" fill="#000"/>
<path d="M222.5,313.1 L227.3,314.7 L222.5,324.4 L220.1,321.2Z" fill="#000"/>
<path d="M244.9,250.6 L257.8,250.6 L264.2,257.1 L265.8,273.1 L262.6,282.7 L270.6,295.5 L280.2,311.5 L291.4,327.6 L296.2,338.8 L286.6,335.6 L273.8,326.0 L261.0,322.8 L253.0,305.1 L248.1,289.1 L244.9,269.9Z" fill="#484848"/>
<path d="M240.1,231.4 L251.3,233.0 L254.6,244.2 L244.9,247.4 L238.5,241.0Z" fill="#484848"/>
<path d="M248.1,253.8 L257.8,252.2 L262.6,260.3 L262.6,276.3 L259.4,284.3 L267.4,297.1 L277.0,311.5 L285.0,324.4 L281.8,327.6 L270.6,322.8 L261.0,319.6 L254.6,301.9 L249.7,285.9 L246.5,266.7Z" fill="#585858"/>
<path d="M251.3,257.1 L259.4,255.5 L261.0,269.9 L256.2,281.1 L249.7,279.5 L248.1,266.7Z" fill="#686868"/>
<path d="M256.2,297.1 L262.6,298.7 L270.6,305.1 L277.0,314.7 L270.6,321.2 L262.6,318.0 L257.8,308.3Z" fill="#686868"/>
<path d="M252.2,258.7 L258.6,257.1 L259.7,269.9 L255.8,278.7 L251.0,277.1 L249.7,266.7Z" fill="#787878"/>
<path d="M258.6,299.5 L262.6,300.6 L269.8,306.7 L274.6,314.4 L270.3,318.8 L263.4,316.0 L259.4,308.3Z" fill="#787878"/>
<path d="M253.3,261.1 L257.8,260.3 L258.1,273.1 L254.6,276.3 L252.2,269.9Z" fill="#8c8c8c"/>
<path d="M266.1,309.1 L273.0,310.7 L273.8,316.0 L268.2,316.7Z" fill="#8c8c8c"/>
<ellipse cx="254.1" cy="258.7" rx="1.4" ry="1.4" fill="#afafaf"/>
<ellipse cx="220.1" cy="225.0" rx="3" ry="5" fill="#585858"/>
<ellipse cx="220.1" cy="225.0" rx="1.7" ry="3.3" fill="#8e8e8e"/>
<ellipse cx="219.3" cy="241.0" rx="2.4" ry="3.5" fill="#5c5c5c"/>
<ellipse cx="243.3" cy="342.0" rx="7" ry="9" fill="#484848" transform="rotate(20 243.3 342.0)"/>
<ellipse cx="243.3" cy="342.0" rx="3.5" ry="5" fill="#5c5c5c" transform="rotate(20 243.3 342.0)"/>
<path d="M334.7,205.8 L350.7,207.4 L365.1,220.2 L368.3,233.0 L363.5,250.6 L366.7,263.5 L361.9,263.5 L355.5,257.1 L347.5,247.4 L339.5,236.2 L334.7,221.8Z" fill="#181818"/>
<path d="M341.1,212.2 L353.9,212.2 L364.3,225.0 L365.9,236.2 L361.9,250.6 L363.5,260.3 L357.1,257.1 L349.1,244.2 L342.7,231.4Z" fill="#282828"/>
<path d="M347.5,218.6 L358.7,220.2 L361.9,231.4 L363.5,244.2 L360.3,257.1 L355.5,255.5 L350.7,241.0 L347.5,229.8Z" fill="#383838"/>
<ellipse cx="358.7" cy="244.2" rx="1.6" ry="1.6" fill="#5e5e5e"/>
<path d="M339.5,282.7 L350.7,276.3 L363.5,282.7 L371.5,289.1 L366.7,305.1 L368.3,318.0 L363.5,324.4 L353.9,322.8 L344.3,319.6 L339.5,313.1 L342.7,305.1 L336.3,300.3 L336.3,293.9Z" fill="#181818"/>
<path d="M341.1,285.9 L350.7,281.1 L361.9,287.5 L365.1,301.9 L363.5,319.6 L353.9,321.2 L345.9,318.0 L342.7,305.1 L337.9,298.7Z" fill="#282828"/>
<path d="M340.3,290.7 L350.7,287.5 L357.9,292.3 L357.1,301.9 L347.5,302.7 L341.1,301.9 L337.1,297.9Z" fill="#383838"/>
<path d="M346.7,307.5 L357.1,305.9 L357.9,314.7 L353.1,320.4 L346.7,318.8Z" fill="#383838"/>
<ellipse cx="339.5" cy="298.7" rx="1.8" ry="1.8" fill="#5c5c5c"/>
<ellipse cx="351.5" cy="293.9" rx="2.2" ry="2.2" fill="#5c5c5c"/>
<ellipse cx="350.7" cy="314.7" rx="3" ry="2.4" fill="#5c5c5c" transform="rotate(-30 350.7 314.7)"/>
<ellipse cx="355.5" cy="309.1" rx="1.6" ry="2" fill="#7e7e7e"/>
<ellipse cx="351.5" cy="314.7" rx="1.5" ry="1.5" fill="#7e7e7e"/>
<path d="M337.9,327.6 L345.9,330.8 L350.7,340.4 L349.1,348.4 L342.7,342.0Z" fill="#181818"/>
<ellipse cx="345.1" cy="336.4" rx="2.6" ry="4.5" fill="#383838" transform="rotate(-20 345.1 336.4)"/>
<path d="M366.7,334.0 L378.0,332.4 L390.8,337.2 L390.8,404.5 L371.5,404.5 L369.9,385.3 L374.7,369.2 L371.5,353.2 L366.7,342.0Z" fill="#181818"/>
<path d="M371.5,338.8 L390.8,338.8 L390.8,369.2 L379.6,366.0 L373.9,353.2Z" fill="#282828"/>
<ellipse cx="376.3" cy="353.2" rx="2.4" ry="3" fill="#383838"/>
<path d="M374.7,271.5 L390.8,271.5 L390.8,289.1 L381.2,289.1Z" fill="#181818"/>
<ellipse cx="382.8" cy="382.9" rx="8" ry="15" fill="#282828"/>
<ellipse cx="382.8" cy="382.9" rx="6.8" ry="13.5" fill="#383838"/>
<ellipse cx="383.6" cy="382.9" rx="5.4" ry="12" fill="#787878"/>
<ellipse cx="383.6" cy="382.9" rx="4.2" ry="10" fill="#979797"/>
<ellipse cx="382.4" cy="382.9" rx="2.6" ry="5.6" fill="#b7b7b7"/>
<ellipse cx="381.5" cy="382.9" rx="1.8" ry="4.2" fill="#dfdfdf"/>
<path d="M84.5,439.1 L92.5,429.1 L102.5,421.1 L114.6,419.1 L120.6,405.1 L130.6,393.1 L138.6,387.0 L148.6,393.1 L158.6,399.1 L164.6,403.1 L158.6,409.1 L150.6,409.1 L142.6,405.1 L132.6,411.1 L122.6,417.1 L118.6,425.1 L130.6,431.1 L146.6,429.1 L158.6,427.1 L170.6,429.1 L178.7,423.1 L182.7,415.1 L190.7,429.1 L198.7,437.1 L202.7,449.1 L210.7,457.1 L204.7,467.2 L196.7,469.2 L186.7,461.2 L174.6,461.2 L158.6,459.1 L142.6,457.1 L126.6,457.1 L110.6,455.1 L98.5,451.1 L88.5,445.1Z" fill="#181818"/>
<ellipse cx="111.6" cy="441.1" rx="5" ry="6" fill="#282828"/>
<ellipse cx="152.6" cy="441.1" rx="8.5" ry="7" fill="#282828"/>
<ellipse cx="187.7" cy="444.1" rx="7" ry="10" fill="#282828"/>
<ellipse cx="124.6" cy="489.2" rx="4" ry="3" fill="#181818"/>
<path d="M112.6,478.2 L115.6,487.2" fill="none" stroke="#181818" stroke-width="1.6" stroke-linecap="round" stroke-linejoin="round"/>
<path d="M136.6,487.2 L146.6,496.2" fill="none" stroke="#181818" stroke-width="1.6" stroke-linecap="round" stroke-linejoin="round"/>
<path d="M118.6,481.2 L121.6,489.2" fill="none" stroke="#181818" stroke-width="1.4" stroke-linecap="round" stroke-linejoin="round"/>
<path d="M78.5,312.9 L92.5,310.9 L102.5,317.0 L106.6,323.0 L94.5,323.0 L82.5,320.0Z" fill="#181818"/>
<ellipse cx="94.5" cy="317.4" rx="4" ry="3" fill="#282828"/>
<path d="M56.5,320.0 L68.5,322.0 L66.5,327.0 L58.5,325.0Z" fill="#181818"/>
<ellipse cx="63.5" cy="324.0" rx="2" ry="1.6" fill="#282828"/>
<path d="M55.5,349.0 L60.5,351.0 L62.5,358.0 L57.5,355.0Z" fill="#181818"/>
<ellipse cx="175.6" cy="345.4" rx="2.4" ry="2.4" fill="#181818"/>
<ellipse cx="176.0" cy="346.0" rx="2.5" ry="3" fill="#181818"/></g>
<use href="#coast" opacity="0.42"/><use href="#grid"/>
</g>
<use href="#frame"/>
</g>
<text class="s" x="19.5" y="860.6" font-size="43.5">(c)</text>
<rect x="592.7" y="903.90" width="33.2" height="38.50" fill="#cd0000"/>
<rect x="592.7" y="942.10" width="33.2" height="38.50" fill="#d72800"/>
<rect x="592.7" y="980.30" width="33.2" height="38.50" fill="#eb0000"/>
<rect x="592.7" y="1018.50" width="33.2" height="38.50" fill="#e60064"/>
<rect x="592.7" y="1056.70" width="33.2" height="38.50" fill="#eb465a"/>
<rect x="592.7" y="1094.90" width="33.2" height="38.50" fill="#faaa00"/>
<rect x="592.7" y="1133.10" width="33.2" height="38.50" fill="#ffff00"/>
<rect x="592.7" y="1171.30" width="33.2" height="38.50" fill="#cdf500"/>
<rect x="592.7" y="1209.50" width="33.2" height="38.50" fill="#82f500"/>
<rect x="592.7" y="1247.70" width="33.2" height="38.50" fill="#82f582"/>
<rect x="592.7" y="1285.90" width="33.2" height="38.50" fill="#78fafa"/>
<rect x="592.7" y="1324.10" width="33.2" height="38.50" fill="#128eff"/>
<rect x="592.7" y="1362.30" width="33.2" height="38.50" fill="#003cff"/>
<rect x="592.7" y="1400.50" width="33.2" height="38.50" fill="#aa46ff"/>
<rect x="592.7" y="1438.70" width="33.2" height="38.50" fill="#b28eff"/>
<g transform="translate(910.4,898.8)">
<g clip-path="url(#clip)">
<use href="#land"/><use href="#bord"/><use href="#coast" filter="url(#soft2)"/>
<g clip-path="url(#italyclip)"><ellipse cx="150" cy="170" rx="70" ry="95" transform="rotate(-35 150 170)" fill="#c6c6f2" opacity="0.1" filter="url(#soft3)"/></g><g clip-path="url(#balkclip)"><ellipse cx="360" cy="215" rx="40" ry="70" fill="#c6c6f2" opacity="0.1" filter="url(#soft3)"/></g><g filter="url(#cmN)"><rect x="-12" y="-12" width="414" height="606" fill="#000"/><path d="M107.0,127.2 C108.6,126.8 114.2,127.7 116.4,128.6 C118.6,129.5 120.9,131.7 120.4,132.6 C120.0,133.5 115.9,134.1 113.7,133.9 C111.5,133.7 108.1,132.4 107.0,131.3 C105.9,130.2 105.4,127.7 107.0,127.2Z" fill="#2a2a2a"/>
<path d="M116.4,140.6 C117.7,139.1 122.2,136.9 124.4,135.3 C126.6,133.8 128.4,130.9 129.7,131.3 C131.0,131.7 132.6,135.7 132.4,137.9 C132.2,140.1 130.2,143.3 128.4,144.6 C126.6,145.9 123.7,145.9 121.7,145.9 C119.7,145.9 117.3,145.5 116.4,144.6 C115.5,143.7 115.1,142.1 116.4,140.6Z" fill="#2a2a2a"/>
<path d="M128.4,172.6 C129.5,171.7 134.4,170.9 136.4,171.3 C138.4,171.8 140.6,174.2 140.4,175.3 C140.2,176.4 136.8,177.8 135.0,178.0 C133.2,178.2 130.8,177.5 129.7,176.6 C128.6,175.7 127.3,173.5 128.4,172.6Z" fill="#2a2a2a"/>
<path d="M153.7,174.0 C155.0,173.1 160.0,171.1 163.1,171.3 C166.2,171.5 171.3,174.0 172.4,175.3 C173.5,176.6 171.8,178.9 169.8,179.3 C167.8,179.8 162.9,178.4 160.4,178.0 C157.9,177.6 156.2,177.3 155.1,176.6 C154.0,175.9 152.4,174.9 153.7,174.0Z" fill="#2a2a2a"/>
<path d="M140.4,190.0 C141.7,189.3 145.7,189.1 148.4,190.0 C151.1,190.9 153.7,194.4 156.4,195.3 C159.1,196.2 162.3,194.9 164.4,195.3 C166.5,195.8 168.9,197.1 169.1,198.0 C169.3,198.9 168.1,200.2 165.8,200.7 C163.5,201.1 158.4,201.4 155.1,200.7 C151.8,200.0 148.1,197.8 145.7,196.7 C143.2,195.6 141.3,195.1 140.4,194.0 C139.5,192.9 139.1,190.7 140.4,190.0Z" fill="#2a2a2a"/>
<path d="M131.0,157.3 L131.7,164.0" fill="none" stroke="#2a2a2a" stroke-width="1.6" stroke-linecap="round" stroke-linejoin="round"/>
<path d="M135.0,160.6 L135.7,167.3" fill="none" stroke="#2a2a2a" stroke-width="1.6" stroke-linecap="round" stroke-linejoin="round"/>
<path d="M137.7,154.6 L138.4,161.3" fill="none" stroke="#2a2a2a" stroke-width="1.6" stroke-linecap="round" stroke-linejoin="round"/>
<path d="M129.7,162.6 L130.4,169.3" fill="none" stroke="#2a2a2a" stroke-width="1.6" stroke-linecap="round" stroke-linejoin="round"/>
<path d="M209.8,263.4 C211.1,262.3 214.7,261.0 216.5,262.1 C218.3,263.2 220.3,267.9 220.5,270.1 C220.7,272.3 219.4,274.7 217.8,275.4 C216.2,276.1 212.7,275.2 211.1,274.1 C209.5,273.0 208.7,270.6 208.5,268.8 C208.3,267.0 208.5,264.5 209.8,263.4Z" fill="#474747"/>
<path d="M203.1,279.5 C204.2,277.9 208.0,277.2 209.8,278.1 C211.6,279.0 213.8,282.8 213.8,284.8 C213.8,286.8 211.6,289.7 209.8,290.1 C208.0,290.6 204.2,289.3 203.1,287.5 C202.0,285.7 202.0,281.1 203.1,279.5Z" fill="#2a2a2a"/>
<path d="M211.1,238.1 C211.7,237.4 215.5,238.3 216.5,239.4 C217.5,240.5 217.8,244.0 217.2,244.7 C216.6,245.4 214.2,244.5 213.2,243.4 C212.2,242.3 210.5,238.8 211.1,238.1Z" fill="#2a2a2a"/>
<path d="M201.7,279.6 C201.7,275.8 209.2,272.1 213.0,272.8 C216.8,273.6 221.4,280.3 224.4,284.1 C227.4,287.9 228.9,291.3 231.2,295.5 C233.5,299.7 238.4,305.7 238.0,309.1 C237.6,312.5 231.9,316.3 228.9,315.9 C225.9,315.5 222.5,310.2 219.8,306.8 C217.2,303.4 216.0,300.0 213.0,295.5 C210.0,291.0 201.7,283.4 201.7,279.6Z" fill="#2a2a2a"/>
<path d="M208.5,261.4 C208.9,259.1 214.9,257.7 217.6,259.2 C220.2,260.7 222.5,266.4 224.4,270.5 C226.3,274.6 229.3,281.8 228.9,284.1 C228.5,286.4 224.4,286.0 222.1,284.1 C219.8,282.2 217.6,276.6 215.3,272.8 C213.0,269.0 208.1,263.7 208.5,261.4Z" fill="#474747"/>
<path d="M213.7,296.9 C213.9,294.5 215.9,293.5 217.3,292.1 C218.7,290.7 220.5,288.7 222.1,288.5 C223.7,288.3 225.3,290.1 226.9,290.9 C228.5,291.7 229.9,292.9 231.7,293.3 C233.5,293.7 235.7,292.3 237.7,293.3 C239.7,294.3 241.9,297.5 243.7,299.3 C245.5,301.1 246.7,302.7 248.5,304.1 C250.3,305.5 253.2,306.1 254.6,307.7 C256.0,309.3 257.2,311.9 257.0,313.7 C256.8,315.5 255.2,317.7 253.4,318.5 C251.6,319.3 247.9,317.9 246.1,318.5 C244.3,319.1 242.1,320.9 242.5,322.1 C242.9,323.3 246.9,324.3 248.5,325.7 C250.1,327.1 252.5,328.9 252.1,330.5 C251.7,332.1 247.5,333.3 246.1,335.3 C244.7,337.3 244.5,339.9 243.7,342.5 C242.9,345.1 242.5,349.8 241.3,351.0 C240.1,352.2 238.3,351.0 236.5,349.8 C234.7,348.6 232.3,346.1 230.5,343.7 C228.7,341.3 227.1,338.3 225.7,335.3 C224.3,332.3 223.3,328.9 222.1,325.7 C220.9,322.5 219.5,319.3 218.5,316.1 C217.5,312.9 216.9,309.7 216.1,306.5 C215.3,303.3 213.5,299.3 213.7,296.9Z" fill="#2a2a2a"/>
<path d="M229.3,307.7 C230.1,306.3 234.1,305.3 236.5,305.3 C238.9,305.3 241.7,306.3 243.7,307.7 C245.7,309.1 248.5,311.9 248.5,313.7 C248.5,315.5 245.7,318.1 243.7,318.5 C241.7,318.9 238.5,316.9 236.5,316.1 C234.5,315.3 232.9,315.1 231.7,313.7 C230.5,312.3 228.5,309.1 229.3,307.7Z" fill="#000"/>
<path d="M219.7,305.3 C219.9,302.7 223.3,301.9 224.5,302.9 C225.7,303.9 225.7,308.3 226.9,311.3 C228.1,314.3 230.1,318.9 231.7,320.9 C233.3,322.9 234.5,322.5 236.5,323.3 C238.5,324.1 241.9,324.5 243.7,325.7 C245.5,326.9 247.3,328.1 247.3,330.5 C247.3,332.9 244.9,337.3 243.7,340.1 C242.5,342.9 241.5,346.4 240.1,347.4 C238.7,348.4 236.9,347.8 235.3,346.2 C233.7,344.6 231.9,340.7 230.5,337.7 C229.1,334.7 228.1,331.3 226.9,328.1 C225.7,324.9 224.5,322.3 223.3,318.5 C222.1,314.7 219.5,307.9 219.7,305.3Z" fill="#474747"/>
<path d="M228.1,320.9 C228.8,319.9 232.3,321.3 234.1,322.1 C235.9,322.9 237.3,324.7 238.9,325.7 C240.5,326.7 242.5,326.9 243.7,328.1 C244.9,329.3 246.1,330.9 246.1,332.9 C246.1,334.9 244.5,337.9 243.7,340.1 C242.9,342.3 242.4,345.6 241.3,346.2 C240.2,346.8 238.5,345.5 237.1,343.7 C235.7,341.9 234.1,337.9 232.9,335.3 C231.7,332.7 230.7,330.5 229.9,328.1 C229.1,325.7 227.4,321.9 228.1,320.9Z" fill="#808080"/>
<path d="M230.5,322.1 C231.1,321.7 232.7,323.9 234.1,325.7 C235.5,327.5 237.3,330.5 238.9,332.9 C240.5,335.3 243.3,338.0 243.7,340.1 C244.1,342.2 242.5,345.2 241.3,345.6 C240.1,346.0 237.9,344.2 236.5,342.5 C235.1,340.8 233.9,337.7 232.9,335.3 C231.9,332.9 230.9,330.3 230.5,328.1 C230.1,325.9 229.9,322.5 230.5,322.1Z" fill="#bebebe"/>
<ellipse cx="235.9" cy="335.3" rx="1.6" ry="2.2" fill="#e3e3e3"/>
<path d="M201.7,278.8 C202.3,277.2 205.9,277.6 207.7,278.2 C209.5,278.8 211.9,280.8 212.5,282.5 C213.1,284.2 212.7,287.6 211.3,288.5 C209.9,289.4 205.7,289.5 204.1,287.9 C202.5,286.3 201.1,280.4 201.7,278.8Z" fill="#2a2a2a"/>
<path d="M210.1,260.8 C210.9,258.6 214.5,258.6 216.1,259.6 C217.7,260.6 219.5,264.4 219.7,266.8 C219.9,269.2 218.7,273.0 217.3,274.0 C215.9,275.0 212.5,275.0 211.3,272.8 C210.1,270.6 209.3,263.0 210.1,260.8Z" fill="#474747"/>
<path d="M247.3,274.0 C248.1,273.1 252.0,272.4 254.6,272.2 C257.2,272.0 260.8,271.7 263.0,272.8 C265.2,273.9 265.8,277.0 267.8,278.8 C269.8,280.6 272.6,281.5 275.0,283.7 C277.4,285.9 280.6,289.5 282.2,292.1 C283.8,294.7 284.4,296.5 284.6,299.3 C284.8,302.1 284.0,305.9 283.4,308.9 C282.8,311.9 282.0,315.7 281.0,317.3 C280.0,318.9 278.8,319.9 277.4,318.5 C276.0,317.1 274.2,312.1 272.6,308.9 C271.0,305.7 269.6,302.3 267.8,299.3 C266.0,296.3 264.0,293.7 261.8,290.9 C259.6,288.1 256.6,284.7 254.6,282.5 C252.6,280.3 250.9,279.0 249.7,277.6 C248.5,276.2 246.5,274.9 247.3,274.0Z" fill="#2a2a2a"/>
<path d="M258.2,283.7 C259.0,282.7 263.0,281.9 265.4,282.5 C267.8,283.1 270.2,284.9 272.6,287.3 C275.0,289.7 278.4,293.9 279.8,296.9 C281.2,299.9 281.4,303.3 281.0,305.3 C280.6,307.3 278.8,309.5 277.4,308.9 C276.0,308.3 274.4,304.3 272.6,301.7 C270.8,299.1 268.6,295.5 266.6,293.3 C264.6,291.1 262.0,290.1 260.6,288.5 C259.2,286.9 257.4,284.7 258.2,283.7Z" fill="#474747"/>
<path d="M267.8,290.9 C268.8,290.7 273.0,291.5 275.0,293.3 C277.0,295.1 279.4,299.7 279.8,301.7 C280.2,303.7 278.6,305.7 277.4,305.3 C276.2,304.9 274.0,301.1 272.6,299.3 C271.2,297.5 269.8,295.9 269.0,294.5 C268.2,293.1 266.8,291.1 267.8,290.9Z" fill="#858585"/>
<path d="M254.6,319.7 C255.6,317.7 259.4,317.3 261.8,317.3 C264.2,317.3 267.4,318.3 269.0,319.7 C270.6,321.1 271.2,323.1 271.4,325.7 C271.6,328.3 271.2,332.1 270.2,335.3 C269.2,338.5 267.0,343.2 265.4,345.0 C263.8,346.8 262.0,347.4 260.6,346.2 C259.2,345.0 257.8,340.5 257.0,337.7 C256.2,334.9 256.2,332.3 255.8,329.3 C255.4,326.3 253.6,321.7 254.6,319.7Z" fill="#474747"/>
<path d="M256.7,322.1 C257.5,320.0 261.1,319.9 263.0,320.3 C264.9,320.7 267.4,322.2 268.4,324.5 C269.3,326.8 269.4,331.2 268.7,334.1 C268.0,337.0 265.5,340.9 264.2,341.9 C262.9,342.9 261.6,341.6 260.6,340.1 C259.6,338.6 259.0,335.9 258.4,332.9 C257.8,329.9 255.9,324.2 256.7,322.1Z" fill="#808080"/>
<path d="M258.2,324.5 C259.0,322.9 262.6,322.7 264.2,323.3 C265.8,323.9 267.4,326.1 267.8,328.1 C268.2,330.1 267.6,333.7 266.6,335.3 C265.6,336.9 263.0,338.1 261.8,337.7 C260.6,337.3 260.0,335.1 259.4,332.9 C258.8,330.7 257.4,326.1 258.2,324.5Z" fill="#bebebe"/>
<ellipse cx="263.0" cy="328.7" rx="1.6" ry="2.2" fill="#e3e3e3"/>
<ellipse cx="353.7" cy="255.4" rx="2.8" ry="2.8" fill="#474747"/>
<path d="M377.8,216.3 C379.1,214.8 383.2,212.0 384.3,215.3 C385.4,218.6 385.1,233.5 384.3,236.3 C383.6,239.1 381.1,234.3 379.8,232.3 C378.6,230.3 377.1,227.0 376.8,224.3 C376.5,221.6 376.6,217.8 377.8,216.3Z" fill="#636363"/>
<ellipse cx="380.3" cy="184.3" rx="1.5" ry="6.5" fill="#2a2a2a"/>
<ellipse cx="331.7" cy="221.3" rx="3" ry="2" fill="#2a2a2a"/></g><g filter="url(#cmP)"><rect x="-12" y="-12" width="414" height="606" fill="#000"/><path d="M101.7,113.9 C102.5,112.7 104.8,110.8 107.0,110.6 C109.2,110.4 113.0,112.5 115.0,112.6 C117.0,112.7 117.9,110.3 119.0,111.2 C120.1,112.1 121.0,115.5 121.7,117.9 C122.4,120.4 123.2,123.7 123.0,125.9 C122.8,128.1 122.2,130.9 120.4,131.3 C118.6,131.8 114.9,129.9 112.4,128.6 C110.0,127.2 107.4,125.0 105.7,123.2 C104.0,121.4 103.0,119.5 102.3,117.9 C101.6,116.4 100.9,115.1 101.7,113.9Z" fill="#2a2a2a"/>
<path d="M119.0,111.2 C120.3,109.9 126.1,109.7 129.7,109.9 C133.3,110.1 137.3,110.8 140.4,112.6 C143.5,114.4 146.4,117.5 148.4,120.6 C150.4,123.7 151.3,127.8 152.4,131.3 C153.5,134.9 153.8,138.8 155.1,141.9 C156.4,145.0 158.8,147.2 160.4,149.9 C162.0,152.6 163.7,155.3 164.4,158.0 C165.1,160.7 165.3,163.8 164.4,166.0 C163.5,168.2 161.3,170.2 159.1,171.3 C156.9,172.4 153.8,171.7 151.1,172.6 C148.4,173.5 145.1,176.4 143.1,176.6 C141.1,176.8 139.3,175.8 139.1,174.0 C138.9,172.2 142.4,168.2 141.7,166.0 C141.0,163.8 136.6,162.8 135.0,160.6 C133.4,158.4 132.6,155.7 132.4,152.6 C132.2,149.5 134.1,145.0 133.7,141.9 C133.2,138.8 131.2,136.6 129.7,133.9 C128.1,131.2 125.7,128.6 124.4,125.9 C123.1,123.2 122.6,120.4 121.7,117.9 C120.8,115.5 117.7,112.5 119.0,111.2Z" fill="#2a2a2a"/>
<path d="M122.4,114.6 C123.3,113.4 126.8,112.5 129.7,112.6 C132.6,112.7 136.9,113.5 139.7,115.0 C142.5,116.5 144.7,119.1 146.4,121.9 C148.1,124.7 148.9,128.5 150.0,131.9 C151.1,135.3 151.4,139.5 152.7,142.6 C154.0,145.7 156.4,147.9 158.0,150.6 C159.6,153.3 161.4,156.1 162.0,158.6 C162.6,161.1 162.4,163.5 161.7,165.3 C161.0,167.1 159.5,168.5 157.7,169.3 C155.9,170.1 153.4,169.5 151.1,170.2 C148.8,170.9 145.3,173.5 143.7,173.7 C142.1,173.9 141.6,172.7 141.7,171.3 C141.8,169.9 144.8,167.2 144.1,165.3 C143.4,163.4 139.2,162.1 137.7,160.0 C136.2,157.9 135.2,155.6 135.0,152.6 C134.8,149.6 136.8,145.0 136.4,141.9 C136.0,138.8 134.0,136.5 132.4,133.9 C130.8,131.3 128.3,128.5 127.0,126.2 C125.7,123.9 125.2,121.8 124.4,119.9 C123.6,118.0 121.5,115.8 122.4,114.6Z" fill="#474747"/>
<path d="M127.0,120.6 C127.7,119.0 132.3,117.7 135.0,117.9 C137.7,118.1 140.9,119.7 143.1,121.9 C145.3,124.1 147.3,128.4 148.4,131.3 C149.5,134.2 149.0,136.6 149.7,139.3 C150.4,142.0 151.5,144.6 152.4,147.3 C153.3,150.0 154.4,152.6 155.1,155.3 C155.8,158.0 156.4,161.1 156.4,163.3 C156.4,165.5 156.2,167.8 155.1,168.6 C154.0,169.4 151.3,169.1 149.7,168.0 C148.1,166.9 147.0,164.1 145.7,162.0 C144.4,159.9 143.0,157.3 141.7,155.3 C140.4,153.3 138.6,152.1 137.7,149.9 C136.8,147.7 136.4,144.1 136.4,141.9 C136.4,139.7 137.7,138.4 137.7,136.6 C137.7,134.8 137.5,132.9 136.4,131.3 C135.3,129.7 132.6,129.0 131.0,127.2 C129.4,125.4 126.3,122.1 127.0,120.6Z" fill="#808080"/>
<path d="M138.4,129.3 C139.3,128.6 143.6,129.0 144.7,129.9 C145.8,130.8 146.0,133.9 145.1,134.6 C144.2,135.3 140.4,135.1 139.3,134.2 C138.2,133.3 137.5,130.0 138.4,129.3Z" fill="#474747"/>
<path d="M135.0,137.9 C136.3,136.6 140.9,135.5 143.1,136.6 C145.3,137.7 146.6,141.9 148.4,144.6 C150.2,147.3 152.6,149.9 153.7,152.6 C154.8,155.3 155.3,158.4 155.1,160.6 C154.9,162.8 153.7,166.0 152.4,166.0 C151.1,166.0 148.7,162.4 147.1,160.6 C145.5,158.8 144.7,157.1 143.1,155.3 C141.5,153.5 139.0,151.7 137.7,149.9 C136.3,148.1 135.4,146.6 135.0,144.6 C134.6,142.6 133.7,139.2 135.0,137.9Z" fill="#a2a2a2"/>
<path d="M145.7,159.3 C146.8,158.2 153.1,159.3 155.1,160.6 C157.1,161.9 157.9,165.7 157.7,167.3 C157.5,168.9 155.2,170.0 153.7,170.0 C152.1,170.0 149.7,169.1 148.4,167.3 C147.1,165.5 144.6,160.4 145.7,159.3Z" fill="#636363"/>
<path d="M92.3,182.0 C93.0,180.1 95.2,176.8 97.7,175.3 C100.2,173.9 103.9,173.4 107.0,173.3 C110.1,173.2 114.0,173.8 116.4,174.6 C118.9,175.4 121.0,176.6 121.7,178.0 C122.4,179.4 122.0,182.2 120.4,183.3 C118.9,184.4 114.6,183.8 112.4,184.7 C110.2,185.6 109.2,187.9 107.0,188.7 C104.8,189.5 101.2,189.6 99.0,189.3 C96.8,189.0 94.8,187.9 93.7,186.7 C92.6,185.5 91.6,183.9 92.3,182.0Z" fill="#2a2a2a"/>
<path d="M161.7,183.3 C162.6,182.6 166.0,182.6 167.1,183.3 C168.2,184.0 168.8,186.3 168.4,187.3 C168.0,188.3 165.5,189.3 164.4,189.3 C163.3,189.3 162.1,188.3 161.7,187.3 C161.2,186.3 160.8,184.0 161.7,183.3Z" fill="#2a2a2a"/>
<path d="M183.8,227.4 C184.8,225.8 187.7,224.7 189.8,224.7 C191.9,224.7 194.5,226.1 196.5,227.4 C198.5,228.7 200.7,230.9 201.8,232.7 C202.9,234.5 202.2,235.9 203.1,238.1 C204.0,240.3 205.3,243.9 207.1,246.1 C208.9,248.3 212.0,249.2 213.8,251.4 C215.6,253.6 217.8,257.2 217.8,259.4 C217.8,261.6 215.4,263.0 213.8,264.8 C212.2,266.6 210.1,268.6 208.5,270.1 C206.9,271.7 206.3,274.3 204.5,274.1 C202.7,273.9 199.6,271.2 197.8,268.8 C196.0,266.4 195.1,262.3 193.8,259.4 C192.5,256.5 191.1,254.3 189.8,251.4 C188.5,248.5 186.8,245.0 185.8,242.1 C184.8,239.2 184.1,236.5 183.8,234.1 C183.5,231.7 182.8,229.0 183.8,227.4Z" fill="#2a2a2a"/>
<path d="M200.5,236.7 C201.2,235.6 204.0,234.5 205.8,235.4 C207.6,236.3 210.9,240.3 211.1,242.1 C211.3,243.9 208.6,246.1 207.1,246.1 C205.6,246.1 202.9,243.7 201.8,242.1 C200.7,240.5 199.8,237.8 200.5,236.7Z" fill="#000"/>
<path d="M201.8,251.4 C202.6,249.7 206.1,249.8 207.8,250.7 C209.5,251.6 211.7,254.8 211.8,256.8 C211.9,258.8 209.9,262.1 208.5,262.8 C207.1,263.5 204.2,262.7 203.1,260.8 C202.0,258.9 201.0,253.1 201.8,251.4Z" fill="#474747"/>
<ellipse cx="208.5" cy="256.9" rx="2.5" ry="5" fill="#474747" transform="rotate(-30 208.5 256.9)"/>
<ellipse cx="144.7" cy="273.4" rx="2.2" ry="2.2" fill="#2a2a2a"/>
<ellipse cx="157.6" cy="293.2" rx="2.8" ry="5" fill="#2a2a2a"/>
<path d="M200.5,347.4 C201.3,345.2 205.1,344.5 207.7,343.7 C210.3,342.9 214.3,343.9 216.1,342.5 C217.9,341.1 219.3,336.5 218.5,335.3 C217.7,334.1 212.3,335.9 211.3,335.3 C210.3,334.7 211.1,332.7 212.5,331.7 C213.9,330.7 217.7,328.7 219.7,329.3 C221.7,329.9 223.9,333.1 224.5,335.3 C225.1,337.5 224.1,340.5 223.3,342.5 C222.5,344.5 220.1,344.6 219.7,347.4 C219.3,350.2 219.7,357.2 220.9,359.4 C222.1,361.6 224.3,361.0 226.9,360.6 C229.5,360.2 233.7,357.2 236.5,357.0 C239.3,356.8 241.3,358.0 243.7,359.4 C246.1,360.8 249.1,363.4 250.9,365.4 C252.7,367.4 255.8,370.2 254.6,371.4 C253.4,372.6 247.1,372.8 243.7,372.6 C240.3,372.4 236.9,370.0 234.1,370.2 C231.3,370.4 229.3,373.0 226.9,373.8 C224.5,374.6 222.1,375.4 219.7,375.0 C217.3,374.6 214.5,373.2 212.5,371.4 C210.5,369.6 209.3,366.6 207.7,364.2 C206.1,361.8 204.1,359.8 202.9,357.0 C201.7,354.2 199.7,349.6 200.5,347.4Z" fill="#2a2a2a"/>
<ellipse cx="209.5" cy="353.1" rx="7.5" ry="4.2" fill="#474747" transform="rotate(10 209.5 353.1)"/>
<ellipse cx="204.1" cy="314.9" rx="4.6" ry="10" fill="#2a2a2a"/>
<ellipse cx="204.3" cy="313.7" rx="2.8" ry="8" fill="#474747"/>
<path d="M231.7,311.3 C232.4,310.2 235.3,309.9 236.5,310.7 C237.7,311.5 238.9,314.5 238.9,316.1 C238.9,317.7 237.6,320.1 236.5,320.3 C235.4,320.5 233.1,318.8 232.3,317.3 C231.5,315.8 231.0,312.4 231.7,311.3Z" fill="#474747"/>
<path d="M242.5,296.3 C243.9,297.6 248.7,302.0 250.9,304.1 C253.1,306.2 255.0,308.1 255.8,308.9" fill="none" stroke="#474747" stroke-width="4" stroke-linecap="round" stroke-linejoin="round"/>
<path d="M243.7,297.5 L249.7,302.9" fill="none" stroke="#c1c1c1" stroke-width="1.8" stroke-linecap="round" stroke-linejoin="round"/>
<path d="M189.6,247.6 C193.2,245.0 211.9,245.0 217.3,247.6 C222.7,250.2 222.1,259.0 222.1,263.2 C222.1,267.4 219.7,270.8 217.3,272.8 C214.9,274.8 210.5,275.6 207.7,275.2 C204.9,274.8 202.5,272.4 200.5,270.4 C198.5,268.4 197.5,267.0 195.7,263.2 C193.9,259.4 186.0,250.2 189.6,247.6Z" fill="#2a2a2a"/>
<path d="M236.5,355.8 C236.9,353.0 241.7,351.0 243.7,347.4 C245.7,343.8 246.7,336.5 248.5,334.1 C250.3,331.7 253.4,330.7 254.6,332.9 C255.8,335.1 254.8,343.6 255.8,347.4 C256.8,351.2 259.2,355.8 260.6,355.8 C262.0,355.8 262.6,352.8 264.2,347.4 C265.8,342.0 267.6,327.1 270.2,323.3 C272.8,319.5 277.2,322.5 279.8,324.5 C282.4,326.5 284.6,331.1 285.8,335.3 C287.0,339.5 287.4,345.2 287.0,349.8 C286.6,354.4 285.0,359.0 283.4,363.0 C281.8,367.0 278.8,370.8 277.4,373.8 C276.0,376.8 276.2,378.4 275.0,381.0 C273.8,383.6 271.8,386.8 270.2,389.4 C268.6,392.0 266.8,395.0 265.4,396.6 C264.0,398.2 263.1,400.0 261.8,399.0 C260.5,398.0 258.7,394.0 257.6,390.6 C256.5,387.2 255.8,382.0 255.2,378.6 C254.6,375.2 255.3,372.4 254.0,370.2 C252.7,368.0 249.4,366.4 247.3,365.4 C245.2,364.4 243.1,365.8 241.3,364.2 C239.5,362.6 236.1,358.6 236.5,355.8Z" fill="#2a2a2a"/>
<path d="M237.7,357.0 C238.1,354.8 241.5,349.4 243.7,349.8 C245.9,350.2 248.3,356.6 250.9,359.4 C253.5,362.2 257.8,367.0 259.4,366.6 C261.0,366.2 259.8,359.8 260.6,357.0 C261.4,354.2 263.0,348.2 264.2,349.8 C265.4,351.4 266.2,362.6 267.8,366.6 C269.4,370.6 272.6,371.8 273.8,373.8 C275.0,375.8 275.6,376.4 275.0,378.6 C274.4,380.8 271.8,384.4 270.2,387.0 C268.6,389.6 266.8,392.5 265.4,394.2 C264.0,395.9 263.0,398.0 261.8,397.2 C260.6,396.4 259.2,392.7 258.2,389.4 C257.2,386.1 256.4,380.8 255.8,377.4 C255.2,374.0 256.0,371.2 254.6,369.0 C253.2,366.8 249.5,365.2 247.3,364.2 C245.1,363.2 242.9,364.2 241.3,363.0 C239.7,361.8 237.3,359.2 237.7,357.0Z" fill="#474747"/>
<path d="M249.7,334.1 C250.9,332.7 253.0,333.5 253.4,335.3 C253.8,337.1 252.7,341.8 252.1,345.0 C251.5,348.2 250.7,352.2 249.7,354.6 C248.7,357.0 247.1,359.6 246.1,359.4 C245.1,359.2 243.7,356.0 243.7,353.4 C243.7,350.8 245.1,346.9 246.1,343.7 C247.1,340.5 248.5,335.5 249.7,334.1Z" fill="#808080"/>
<path d="M272.6,324.5 C274.0,323.3 276.8,324.5 278.6,325.7 C280.4,326.9 282.2,329.3 283.4,331.7 C284.6,334.1 285.6,336.9 285.8,340.1 C286.0,343.3 285.4,347.8 284.6,351.0 C283.8,354.2 282.4,356.8 281.0,359.4 C279.6,362.0 277.8,364.6 276.2,366.6 C274.6,368.6 272.8,371.4 271.4,371.4 C270.0,371.4 268.0,368.6 267.8,366.6 C267.6,364.6 269.6,362.2 270.2,359.4 C270.8,356.6 271.2,353.0 271.4,349.8 C271.6,346.6 271.6,342.9 271.4,340.1 C271.2,337.3 270.0,335.5 270.2,332.9 C270.4,330.3 271.2,325.7 272.6,324.5Z" fill="#808080"/>
<path d="M273.2,325.7 C274.3,324.5 277.0,325.7 278.6,326.9 C280.2,328.1 281.8,330.6 282.8,332.9 C283.8,335.2 284.5,337.9 284.6,340.7 C284.7,343.5 284.2,347.5 283.4,349.8 C282.6,352.1 281.2,354.2 279.8,354.6 C278.4,355.0 276.1,354.2 275.0,352.2 C273.9,350.2 273.7,345.5 273.2,342.5 C272.7,339.5 272.0,336.9 272.0,334.1 C272.0,331.3 272.1,326.9 273.2,325.7Z" fill="#a2a2a2"/>
<path d="M261.8,351.0 C262.4,349.0 264.4,346.4 265.4,347.4 C266.4,348.4 266.8,353.8 267.8,357.0 C268.8,360.2 271.4,364.2 271.4,366.6 C271.4,369.0 269.0,371.4 267.8,371.4 C266.6,371.4 265.2,368.6 264.2,366.6 C263.2,364.6 262.2,362.0 261.8,359.4 C261.4,356.8 261.2,353.0 261.8,351.0Z" fill="#636363"/>
<path d="M284.6,295.7 C286.7,294.7 294.6,299.9 297.8,302.9 C301.0,305.9 302.2,309.5 303.8,313.7 C305.4,317.9 306.4,324.1 307.4,328.1 C308.4,332.1 308.6,335.3 309.8,337.7 C311.0,340.1 313.4,340.9 314.6,342.5 C315.8,344.1 316.9,344.6 317.1,347.4 C317.3,350.2 316.7,355.4 315.9,359.4 C315.1,363.4 312.4,367.8 312.2,371.4 C312.0,375.0 314.0,378.4 314.6,381.0 C315.2,383.6 316.3,384.6 315.9,387.0 C315.5,389.4 313.4,392.6 312.2,395.4 C311.0,398.2 310.0,401.2 308.6,403.8 C307.2,406.4 305.6,408.7 303.8,411.1 C302.0,413.5 300.0,416.1 297.8,418.3 C295.6,420.5 293.2,422.5 290.6,424.3 C288.0,426.1 284.8,427.3 282.2,429.1 C279.6,430.9 277.0,434.1 275.0,435.1 C273.0,436.1 270.2,437.1 270.2,435.1 C270.2,433.1 273.4,426.1 275.0,423.1 C276.6,420.1 278.6,419.3 279.8,417.1 C281.0,414.9 282.2,411.9 282.2,409.9 C282.2,407.9 280.8,406.6 279.8,405.0 C278.8,403.4 277.4,400.8 276.2,400.2 C275.0,399.6 273.0,402.4 272.6,401.4 C272.2,400.4 272.8,396.8 273.8,394.2 C274.8,391.6 277.0,388.4 278.6,385.8 C280.2,383.2 281.8,381.4 283.4,378.6 C285.0,375.8 286.9,372.6 288.2,369.0 C289.5,365.4 290.6,361.0 291.2,357.0 C291.8,353.0 291.9,349.0 291.8,345.0 C291.7,341.0 291.2,336.9 290.6,332.9 C290.0,328.9 289.1,324.9 288.2,320.9 C287.3,316.9 285.8,313.1 285.2,308.9 C284.6,304.7 282.5,296.7 284.6,295.7Z" fill="#2a2a2a"/>
<path d="M285.8,298.7 C287.4,297.6 293.4,302.0 296.0,304.7 C298.6,307.4 299.9,311.0 301.4,314.9 C302.9,318.8 304.1,323.9 305.0,328.1 C305.9,332.3 306.4,336.1 306.8,340.1 C307.2,344.1 307.7,348.0 307.4,352.2 C307.1,356.4 306.2,361.4 305.0,365.4 C303.8,369.4 300.4,373.2 300.2,376.2 C300.0,379.2 303.4,380.6 303.8,383.4 C304.2,386.2 303.6,389.8 302.6,393.0 C301.6,396.2 299.6,399.4 297.8,402.6 C296.0,405.8 293.8,409.7 291.8,412.3 C289.8,414.9 287.6,417.7 285.8,418.3 C284.0,418.9 281.2,417.7 281.0,415.9 C280.8,414.1 283.6,410.3 284.6,407.5 C285.6,404.7 287.8,401.4 287.0,399.0 C286.2,396.6 281.2,395.2 279.8,393.0 C278.4,390.8 278.0,388.2 278.6,385.8 C279.2,383.4 281.8,381.4 283.4,378.6 C285.0,375.8 286.8,372.6 288.2,369.0 C289.6,365.4 291.1,361.0 291.8,357.0 C292.5,353.0 292.5,349.0 292.4,345.0 C292.3,341.0 291.8,336.9 291.2,332.9 C290.6,328.9 289.6,324.5 288.8,320.9 C288.0,317.3 286.9,315.0 286.4,311.3 C285.9,307.6 284.2,299.8 285.8,298.7Z" fill="#474747"/>
<path d="M287.0,301.7 C287.8,300.5 290.2,302.1 291.8,304.1 C293.4,306.1 295.2,310.1 296.6,313.7 C298.0,317.3 299.2,321.7 300.2,325.7 C301.2,329.7 302.0,333.5 302.6,337.7 C303.2,341.9 304.0,346.6 303.8,351.0 C303.6,355.4 302.6,360.2 301.4,364.2 C300.2,368.2 298.4,371.8 296.6,375.0 C294.8,378.2 292.6,381.0 290.6,383.4 C288.6,385.8 286.4,388.0 284.6,389.4 C282.8,390.8 280.8,392.4 279.8,391.8 C278.8,391.2 278.0,388.0 278.6,385.8 C279.2,383.6 281.8,381.4 283.4,378.6 C285.0,375.8 286.8,372.6 288.2,369.0 C289.6,365.4 291.0,361.0 291.8,357.0 C292.6,353.0 293.0,349.0 293.0,345.0 C293.0,341.0 292.4,336.9 291.8,332.9 C291.2,328.9 290.2,324.5 289.4,320.9 C288.6,317.3 287.4,314.5 287.0,311.3 C286.6,308.1 286.2,302.9 287.0,301.7Z" fill="#808080"/>
<path d="M295.4,354.6 C297.3,353.6 302.2,351.7 303.2,353.4 C304.2,355.1 302.3,361.2 301.2,364.8 C300.1,368.4 298.4,371.9 296.6,375.0 C294.8,378.1 292.6,381.0 290.6,383.4 C288.6,385.8 286.4,388.1 284.6,389.4 C282.8,390.7 280.9,391.7 280.0,391.2 C279.1,390.7 278.5,388.4 279.2,386.4 C279.9,384.4 282.4,382.0 284.0,379.2 C285.6,376.4 287.5,372.9 288.8,369.6 C290.1,366.3 290.7,361.9 291.8,359.4 C292.9,356.9 293.5,355.6 295.4,354.6Z" fill="#a2a2a2"/>
<ellipse cx="294.2" cy="391.8" rx="1.6" ry="3" fill="#808080" transform="rotate(20 294.2 391.8)"/>
<ellipse cx="291.8" cy="411.1" rx="1.6" ry="3" fill="#808080" transform="rotate(30 291.8 411.1)"/>
<path d="M352.7,169.2 C353.5,166.8 356.0,164.7 357.7,164.2 C359.4,163.7 361.2,164.5 362.7,166.2 C364.2,167.9 365.4,171.8 366.8,174.2 C368.2,176.5 369.3,178.8 370.8,180.3 C372.3,181.8 375.1,182.0 375.8,183.3 C376.5,184.6 375.5,186.8 374.8,188.3 C374.1,189.8 371.6,190.6 371.8,192.3 C372.0,194.0 374.6,196.3 375.8,198.3 C377.0,200.3 378.1,202.3 378.8,204.3 C379.5,206.3 380.1,208.8 379.8,210.3 C379.5,211.8 378.0,213.0 376.8,213.3 C375.6,213.6 374.1,213.5 372.8,212.3 C371.5,211.1 370.2,208.3 368.8,206.3 C367.4,204.3 366.2,202.3 364.7,200.3 C363.2,198.3 361.2,196.6 359.7,194.3 C358.2,192.0 356.9,189.0 355.7,186.3 C354.5,183.6 353.2,181.2 352.7,178.3 C352.2,175.5 351.9,171.5 352.7,169.2Z" fill="#2a2a2a"/>
<path d="M370.3,200.8 C370.8,199.5 373.6,199.4 374.8,200.3 C376.0,201.2 377.2,204.6 377.3,206.3 C377.4,208.1 376.2,210.5 375.3,210.8 C374.4,211.1 372.6,210.0 371.8,208.3 C371.0,206.6 369.8,202.1 370.3,200.8Z" fill="#474747"/>
<path d="M330.7,208.3 C331.7,207.0 335.2,206.3 337.7,206.3 C340.2,206.3 344.0,209.1 345.7,208.3 C347.4,207.5 346.9,202.5 347.7,201.3 C348.5,200.1 350.0,200.1 350.7,201.3 C351.4,202.5 350.5,206.3 351.7,208.3 C352.9,210.3 355.0,212.5 357.7,213.3 C360.4,214.1 365.8,212.8 367.8,213.3 C369.8,213.8 370.3,215.5 369.8,216.3 C369.3,217.1 366.7,218.1 364.7,218.3 C362.7,218.5 359.5,217.6 357.7,217.3 C355.9,217.0 354.7,216.0 353.7,216.3 C352.7,216.6 351.4,218.1 351.7,219.3 C352.0,220.5 354.4,222.1 355.7,223.3 C357.0,224.5 359.0,225.0 359.7,226.3 C360.4,227.6 358.9,229.6 359.7,231.3 C360.5,233.0 363.0,234.8 364.7,236.3 C366.4,237.8 368.1,239.6 369.8,240.3 C371.5,241.0 373.5,239.3 374.8,240.3 C376.1,241.3 377.1,243.6 377.8,246.3 C378.5,249.0 378.8,253.0 378.8,256.4 C378.8,259.8 377.8,263.1 377.8,266.4 C377.8,269.7 379.0,274.1 378.8,276.4 C378.6,278.7 377.6,280.4 376.8,280.4 C376.0,280.4 374.6,278.2 373.8,276.4 C373.0,274.6 372.8,271.2 371.8,269.4 C370.8,267.6 369.2,266.1 367.8,265.4 C366.4,264.7 365.1,266.1 363.7,265.4 C362.3,264.7 361.0,263.2 359.7,261.4 C358.4,259.6 357.4,256.4 355.7,254.4 C354.0,252.4 351.5,251.0 349.7,249.3 C347.9,247.6 346.0,246.5 344.7,244.3 C343.4,242.1 342.9,239.0 341.7,236.3 C340.5,233.6 338.9,231.0 337.7,228.3 C336.5,225.6 335.7,222.6 334.7,220.3 C333.7,218.0 332.4,216.3 331.7,214.3 C331.0,212.3 329.7,209.6 330.7,208.3Z" fill="#2a2a2a"/>
<path d="M363.2,247.3 C363.8,246.2 365.6,245.5 366.3,246.8 C367.0,248.2 367.6,253.6 367.3,255.4 C367.0,257.2 365.5,258.2 364.7,257.9 C363.9,257.6 362.9,255.2 362.7,253.4 C362.4,251.6 362.6,248.4 363.2,247.3Z" fill="#000"/>
<ellipse cx="357.7" cy="240.3" rx="5" ry="7" fill="#474747"/>
<ellipse cx="358.2" cy="239.3" rx="3" ry="4.6" fill="#858585"/>
<ellipse cx="349.7" cy="244.8" rx="3.6" ry="4.6" fill="#474747"/>
<ellipse cx="349.7" cy="244.8" rx="1.8" ry="2.8" fill="#a4a4a4"/>
<ellipse cx="372.8" cy="216.3" rx="3.5" ry="9" fill="#474747"/>
<ellipse cx="372.6" cy="222.3" rx="1.7" ry="3.4" fill="#a2a2a2"/>
<ellipse cx="358.7" cy="258.9" rx="2.4" ry="3.4" fill="#474747"/>
<ellipse cx="364.7" cy="264.4" rx="2.4" ry="3" fill="#474747"/>
<path d="M261.6,455.2 C262.6,453.5 267.3,447.9 269.6,446.2 C271.9,444.5 274.4,445.0 275.6,445.2 C276.8,445.4 277.6,445.9 276.6,447.2 C275.6,448.5 271.8,451.7 269.6,453.2 C267.4,454.7 264.9,455.9 263.6,456.2 C262.3,456.5 260.6,456.9 261.6,455.2Z" fill="#2a2a2a"/>
<ellipse cx="271.1" cy="436.7" rx="3.5" ry="1.6" fill="#2a2a2a" transform="rotate(-30 271.1 436.7)"/></g><path d="M117.7,241.4 C117.0,244.0 115.0,251.9 113.4,256.8 C111.8,261.7 109.8,266.8 108.1,270.8 C106.4,274.8 104.7,277.5 103.0,280.8 C101.3,284.1 97.6,290.6 97.7,290.8 C97.8,291.0 103.4,281.3 103.7,282.2 C104.0,283.1 100.7,292.9 99.7,296.2 C98.7,299.5 98.0,301.2 97.7,302.2" fill="none" stroke="#b4c46e" stroke-width="2.4" stroke-dasharray="1.6 1.3" opacity="0.6" filter="url(#soft2)"/>
<use href="#coast" opacity="0.42"/><use href="#grid"/>
</g>
<use href="#frame"/>
</g>
<text class="s" x="781.5" y="860.6" font-size="43.5">(d)</text>
<rect x="1361.5" y="903.60" width="33.2" height="36.11" fill="#cd0000"/>
<rect x="1361.5" y="939.41" width="33.2" height="36.11" fill="#cd0000"/>
<rect x="1361.5" y="975.22" width="33.2" height="36.11" fill="#d72800"/>
<rect x="1361.5" y="1011.04" width="33.2" height="36.11" fill="#eb0000"/>
<rect x="1361.5" y="1046.85" width="33.2" height="36.11" fill="#e60064"/>
<rect x="1361.5" y="1082.66" width="33.2" height="36.11" fill="#eb465a"/>
<rect x="1361.5" y="1118.47" width="33.2" height="36.11" fill="#faaa00"/>
<rect x="1361.5" y="1154.29" width="33.2" height="36.11" fill="#ffff00"/>
<rect x="1361.5" y="1190.10" width="33.2" height="36.11" fill="#cdf500"/>
<rect x="1361.5" y="1225.91" width="33.2" height="36.11" fill="#82f500"/>
<rect x="1361.5" y="1261.72" width="33.2" height="36.11" fill="#82f582"/>
<rect x="1361.5" y="1297.54" width="33.2" height="36.11" fill="#78fafa"/>
<rect x="1361.5" y="1333.35" width="33.2" height="36.11" fill="#128eff"/>
<rect x="1361.5" y="1369.16" width="33.2" height="36.11" fill="#003cff"/>
<rect x="1361.5" y="1404.97" width="33.2" height="36.11" fill="#aa46ff"/>
<rect x="1361.5" y="1440.79" width="33.2" height="36.11" fill="#b28eff"/>
<text class="t" x="176.79" y="97.4" font-size="27.6" textLength="82.02" lengthAdjust="spacingAndGlyphs">12.50</text>
<text class="t" x="176.79" y="714.5" font-size="27.6" textLength="82.02" lengthAdjust="spacingAndGlyphs">12.50</text>
<text class="t" x="276.22" y="97.4" font-size="27.6" textLength="36.77" lengthAdjust="spacingAndGlyphs">15</text>
<text class="t" x="276.22" y="714.5" font-size="27.6" textLength="36.77" lengthAdjust="spacingAndGlyphs">15</text>
<text class="t" x="330.56" y="97.4" font-size="27.6" textLength="79.88" lengthAdjust="spacingAndGlyphs">17.50</text>
<text class="t" x="330.56" y="714.5" font-size="27.6" textLength="79.88" lengthAdjust="spacingAndGlyphs">17.50</text>
<text class="t" x="428.24" y="97.4" font-size="27.6" textLength="37.33" lengthAdjust="spacingAndGlyphs">20</text>
<text class="t" x="428.24" y="714.5" font-size="27.6" textLength="37.33" lengthAdjust="spacingAndGlyphs">20</text>
<text class="t" transform="translate(136.3,140.57) rotate(-90)" font-size="27.6" textLength="31.15" lengthAdjust="spacingAndGlyphs">45</text>
<text class="t" transform="translate(136.3,269.85) rotate(-90)" font-size="27.6" textLength="77.10" lengthAdjust="spacingAndGlyphs">42.50</text>
<text class="t" transform="translate(136.3,351.03) rotate(-90)" font-size="27.6" textLength="33.25" lengthAdjust="spacingAndGlyphs">40</text>
<text class="t" transform="translate(136.3,469.96) rotate(-90)" font-size="27.6" textLength="79.93" lengthAdjust="spacingAndGlyphs">37.50</text>
<text class="t" transform="translate(136.3,540.91) rotate(-90)" font-size="27.6" textLength="38.22" lengthAdjust="spacingAndGlyphs">35</text>
<text class="t" transform="translate(136.3,649.08) rotate(-90)" font-size="27.6" textLength="80.77" lengthAdjust="spacingAndGlyphs">32.50</text>
<text class="t" transform="translate(538.6,107.44) rotate(90)" font-size="27.6" textLength="37.13" lengthAdjust="spacingAndGlyphs">45</text>
<text class="t" transform="translate(538.6,185.40) rotate(90)" font-size="27.6" textLength="87.40" lengthAdjust="spacingAndGlyphs">42.50</text>
<text class="t" transform="translate(538.6,312.60) rotate(90)" font-size="27.6" textLength="37.41" lengthAdjust="spacingAndGlyphs">40</text>
<text class="t" transform="translate(538.6,389.45) rotate(90)" font-size="27.6" textLength="81.09" lengthAdjust="spacingAndGlyphs">37.50</text>
<text class="t" transform="translate(538.6,505.06) rotate(90)" font-size="27.6" textLength="39.28" lengthAdjust="spacingAndGlyphs">35</text>
<text class="t" transform="translate(538.6,574.06) rotate(90)" font-size="27.6" textLength="86.08" lengthAdjust="spacingAndGlyphs">32.50</text>
<text class="t" x="637.72" y="146.2" font-size="27.6" textLength="63.36" lengthAdjust="spacingAndGlyphs">14.0</text>
<text class="t" x="637.72" y="184.4" font-size="27.6" textLength="63.36" lengthAdjust="spacingAndGlyphs">13.0</text>
<text class="t" x="637.72" y="222.6" font-size="27.6" textLength="63.36" lengthAdjust="spacingAndGlyphs">12.0</text>
<text class="t" x="637.72" y="260.8" font-size="27.6" textLength="63.36" lengthAdjust="spacingAndGlyphs">11.0</text>
<text class="t" x="637.72" y="299.0" font-size="27.6" textLength="63.36" lengthAdjust="spacingAndGlyphs">10.0</text>
<text class="t" x="636.87" y="337.2" font-size="27.6" textLength="45.67" lengthAdjust="spacingAndGlyphs">9.0</text>
<text class="t" x="636.87" y="375.4" font-size="27.6" textLength="45.67" lengthAdjust="spacingAndGlyphs">8.0</text>
<text class="t" x="635.91" y="413.6" font-size="27.6" textLength="46.58" lengthAdjust="spacingAndGlyphs">7.0</text>
<text class="t" x="636.87" y="451.8" font-size="27.6" textLength="45.67" lengthAdjust="spacingAndGlyphs">6.0</text>
<text class="t" x="636.85" y="490.0" font-size="27.6" textLength="45.69" lengthAdjust="spacingAndGlyphs">5.0</text>
<text class="t" x="636.85" y="528.2" font-size="27.6" textLength="45.69" lengthAdjust="spacingAndGlyphs">4.0</text>
<text class="t" x="636.85" y="566.4" font-size="27.6" textLength="45.69" lengthAdjust="spacingAndGlyphs">3.0</text>
<text class="t" x="636.85" y="604.6" font-size="27.6" textLength="45.69" lengthAdjust="spacingAndGlyphs">2.0</text>
<text class="t" x="635.88" y="642.8" font-size="27.6" textLength="46.64" lengthAdjust="spacingAndGlyphs">1.0</text>
<text class="t" x="636.87" y="681.0" font-size="27.6" textLength="45.67" lengthAdjust="spacingAndGlyphs">0.0</text>
<text class="t" x="548.25" y="89.0" font-size="27.6" textLength="120.29" lengthAdjust="spacingAndGlyphs">[mm/h]</text>
<text class="t" x="247.43" y="43.4" font-size="27.6" textLength="160.15" lengthAdjust="spacingAndGlyphs">RAMS CTRL</text>
<text class="t" x="946.12" y="97.2" font-size="27.6" textLength="81.17" lengthAdjust="spacingAndGlyphs">12.50</text>
<text class="t" x="946.12" y="714.3" font-size="27.6" textLength="81.17" lengthAdjust="spacingAndGlyphs">12.50</text>
<text class="t" x="1044.66" y="97.2" font-size="27.6" textLength="37.68" lengthAdjust="spacingAndGlyphs">15</text>
<text class="t" x="1044.66" y="714.3" font-size="27.6" textLength="37.68" lengthAdjust="spacingAndGlyphs">15</text>
<text class="t" x="1099.97" y="97.2" font-size="27.6" textLength="79.85" lengthAdjust="spacingAndGlyphs">17.50</text>
<text class="t" x="1099.97" y="714.3" font-size="27.6" textLength="79.85" lengthAdjust="spacingAndGlyphs">17.50</text>
<text class="t" x="1196.67" y="97.2" font-size="27.6" textLength="37.26" lengthAdjust="spacingAndGlyphs">20</text>
<text class="t" x="1196.67" y="714.3" font-size="27.6" textLength="37.26" lengthAdjust="spacingAndGlyphs">20</text>
<text class="t" transform="translate(905.1,140.03) rotate(-90)" font-size="27.6" textLength="30.26" lengthAdjust="spacingAndGlyphs">45</text>
<text class="t" transform="translate(905.1,269.25) rotate(-90)" font-size="27.6" textLength="77.10" lengthAdjust="spacingAndGlyphs">42.50</text>
<text class="t" transform="translate(905.1,350.51) rotate(-90)" font-size="27.6" textLength="32.43" lengthAdjust="spacingAndGlyphs">40</text>
<text class="t" transform="translate(905.1,469.36) rotate(-90)" font-size="27.6" textLength="79.93" lengthAdjust="spacingAndGlyphs">37.50</text>
<text class="t" transform="translate(905.1,541.33) rotate(-90)" font-size="27.6" textLength="38.26" lengthAdjust="spacingAndGlyphs">35</text>
<text class="t" transform="translate(905.1,648.56) rotate(-90)" font-size="27.6" textLength="79.93" lengthAdjust="spacingAndGlyphs">32.50</text>
<text class="t" transform="translate(1307.4,106.87) rotate(90)" font-size="27.6" textLength="38.06" lengthAdjust="spacingAndGlyphs">45</text>
<text class="t" transform="translate(1307.4,184.80) rotate(90)" font-size="27.6" textLength="87.40" lengthAdjust="spacingAndGlyphs">42.50</text>
<text class="t" transform="translate(1307.4,312.00) rotate(90)" font-size="27.6" textLength="37.41" lengthAdjust="spacingAndGlyphs">40</text>
<text class="t" transform="translate(1307.4,389.85) rotate(90)" font-size="27.6" textLength="81.09" lengthAdjust="spacingAndGlyphs">37.50</text>
<text class="t" transform="translate(1307.4,505.48) rotate(90)" font-size="27.6" textLength="39.25" lengthAdjust="spacingAndGlyphs">35</text>
<text class="t" transform="translate(1307.4,573.54) rotate(90)" font-size="27.6" textLength="86.93" lengthAdjust="spacingAndGlyphs">32.50</text>
<text class="t" x="1406.17" y="146.0" font-size="27.6" textLength="64.27" lengthAdjust="spacingAndGlyphs">14.0</text>
<text class="t" x="1406.17" y="184.2" font-size="27.6" textLength="64.27" lengthAdjust="spacingAndGlyphs">13.0</text>
<text class="t" x="1406.17" y="222.4" font-size="27.6" textLength="64.27" lengthAdjust="spacingAndGlyphs">12.0</text>
<text class="t" x="1406.17" y="260.6" font-size="27.6" textLength="64.27" lengthAdjust="spacingAndGlyphs">11.0</text>
<text class="t" x="1406.17" y="298.8" font-size="27.6" textLength="64.27" lengthAdjust="spacingAndGlyphs">10.0</text>
<text class="t" x="1405.27" y="337.0" font-size="27.6" textLength="45.67" lengthAdjust="spacingAndGlyphs">9.0</text>
<text class="t" x="1405.27" y="375.2" font-size="27.6" textLength="45.67" lengthAdjust="spacingAndGlyphs">8.0</text>
<text class="t" x="1405.25" y="413.4" font-size="27.6" textLength="45.69" lengthAdjust="spacingAndGlyphs">7.0</text>
<text class="t" x="1405.27" y="451.6" font-size="27.6" textLength="45.67" lengthAdjust="spacingAndGlyphs">6.0</text>
<text class="t" x="1405.25" y="489.8" font-size="27.6" textLength="45.69" lengthAdjust="spacingAndGlyphs">5.0</text>
<text class="t" x="1406.20" y="528.0" font-size="27.6" textLength="44.79" lengthAdjust="spacingAndGlyphs">4.0</text>
<text class="t" x="1405.25" y="566.2" font-size="27.6" textLength="45.69" lengthAdjust="spacingAndGlyphs">3.0</text>
<text class="t" x="1405.25" y="604.4" font-size="27.6" textLength="45.69" lengthAdjust="spacingAndGlyphs">2.0</text>
<text class="t" x="1404.28" y="642.6" font-size="27.6" textLength="46.64" lengthAdjust="spacingAndGlyphs">1.0</text>
<text class="t" x="1405.27" y="680.8" font-size="27.6" textLength="45.67" lengthAdjust="spacingAndGlyphs">0.0</text>
<text class="t" x="1316.66" y="88.8" font-size="27.6" textLength="120.28" lengthAdjust="spacingAndGlyphs">[mm/h]</text>
<text class="t" x="1025.98" y="43.2" font-size="27.6" textLength="143.24" lengthAdjust="spacingAndGlyphs">RAMS ANL</text>
<text class="t" x="176.79" y="893.3" font-size="27.6" textLength="82.02" lengthAdjust="spacingAndGlyphs">12.50</text>
<text class="t" x="176.79" y="1510.4" font-size="27.6" textLength="82.02" lengthAdjust="spacingAndGlyphs">12.50</text>
<text class="t" x="276.22" y="893.3" font-size="27.6" textLength="36.77" lengthAdjust="spacingAndGlyphs">15</text>
<text class="t" x="276.22" y="1510.4" font-size="27.6" textLength="36.77" lengthAdjust="spacingAndGlyphs">15</text>
<text class="t" x="330.56" y="893.3" font-size="27.6" textLength="79.88" lengthAdjust="spacingAndGlyphs">17.50</text>
<text class="t" x="330.56" y="1510.4" font-size="27.6" textLength="79.88" lengthAdjust="spacingAndGlyphs">17.50</text>
<text class="t" x="428.24" y="893.3" font-size="27.6" textLength="37.33" lengthAdjust="spacingAndGlyphs">20</text>
<text class="t" x="428.24" y="1510.4" font-size="27.6" textLength="37.33" lengthAdjust="spacingAndGlyphs">20</text>
<text class="t" transform="translate(136.3,935.85) rotate(-90)" font-size="27.6" textLength="30.29" lengthAdjust="spacingAndGlyphs">45</text>
<text class="t" transform="translate(136.3,1065.96) rotate(-90)" font-size="27.6" textLength="77.93" lengthAdjust="spacingAndGlyphs">42.50</text>
<text class="t" transform="translate(136.3,1147.24) rotate(-90)" font-size="27.6" textLength="33.29" lengthAdjust="spacingAndGlyphs">40</text>
<text class="t" transform="translate(136.3,1266.08) rotate(-90)" font-size="27.6" textLength="80.77" lengthAdjust="spacingAndGlyphs">37.50</text>
<text class="t" transform="translate(136.3,1337.11) rotate(-90)" font-size="27.6" textLength="38.22" lengthAdjust="spacingAndGlyphs">35</text>
<text class="t" transform="translate(136.3,1444.36) rotate(-90)" font-size="27.6" textLength="79.93" lengthAdjust="spacingAndGlyphs">32.50</text>
<text class="t" transform="translate(538.6,903.62) rotate(90)" font-size="27.6" textLength="37.16" lengthAdjust="spacingAndGlyphs">45</text>
<text class="t" transform="translate(538.6,980.60) rotate(90)" font-size="27.6" textLength="87.40" lengthAdjust="spacingAndGlyphs">42.50</text>
<text class="t" transform="translate(538.6,1107.84) rotate(90)" font-size="27.6" textLength="38.32" lengthAdjust="spacingAndGlyphs">40</text>
<text class="t" transform="translate(538.6,1185.65) rotate(90)" font-size="27.6" textLength="81.09" lengthAdjust="spacingAndGlyphs">37.50</text>
<text class="t" transform="translate(538.6,1301.24) rotate(90)" font-size="27.6" textLength="39.32" lengthAdjust="spacingAndGlyphs">35</text>
<text class="t" transform="translate(538.6,1369.34) rotate(90)" font-size="27.6" textLength="86.93" lengthAdjust="spacingAndGlyphs">32.50</text>
<text class="t" x="637.72" y="942.1" font-size="27.6" textLength="63.36" lengthAdjust="spacingAndGlyphs">14.0</text>
<text class="t" x="637.72" y="980.3" font-size="27.6" textLength="63.36" lengthAdjust="spacingAndGlyphs">13.0</text>
<text class="t" x="637.72" y="1018.5" font-size="27.6" textLength="63.36" lengthAdjust="spacingAndGlyphs">12.0</text>
<text class="t" x="637.72" y="1056.7" font-size="27.6" textLength="63.36" lengthAdjust="spacingAndGlyphs">11.0</text>
<text class="t" x="637.72" y="1094.9" font-size="27.6" textLength="63.36" lengthAdjust="spacingAndGlyphs">10.0</text>
<text class="t" x="636.87" y="1133.1" font-size="27.6" textLength="45.67" lengthAdjust="spacingAndGlyphs">9.0</text>
<text class="t" x="636.87" y="1171.3" font-size="27.6" textLength="45.67" lengthAdjust="spacingAndGlyphs">8.0</text>
<text class="t" x="635.91" y="1209.5" font-size="27.6" textLength="46.58" lengthAdjust="spacingAndGlyphs">7.0</text>
<text class="t" x="636.87" y="1247.7" font-size="27.6" textLength="45.67" lengthAdjust="spacingAndGlyphs">6.0</text>
<text class="t" x="636.85" y="1285.9" font-size="27.6" textLength="45.69" lengthAdjust="spacingAndGlyphs">5.0</text>
<text class="t" x="636.85" y="1324.1" font-size="27.6" textLength="45.69" lengthAdjust="spacingAndGlyphs">4.0</text>
<text class="t" x="636.85" y="1362.3" font-size="27.6" textLength="45.69" lengthAdjust="spacingAndGlyphs">3.0</text>
<text class="t" x="636.85" y="1400.5" font-size="27.6" textLength="45.69" lengthAdjust="spacingAndGlyphs">2.0</text>
<text class="t" x="635.88" y="1438.7" font-size="27.6" textLength="46.64" lengthAdjust="spacingAndGlyphs">1.0</text>
<text class="t" x="636.87" y="1476.9" font-size="27.6" textLength="45.67" lengthAdjust="spacingAndGlyphs">0.0</text>
<text class="t" x="548.25" y="884.9" font-size="27.6" textLength="120.29" lengthAdjust="spacingAndGlyphs">[mm/h]</text>
<text class="t" x="192.05" y="839.5" font-size="27.6" textLength="271.91" lengthAdjust="spacingAndGlyphs">GPROF CLIM SSMIS</text>
<text class="t" x="946.12" y="893.0" font-size="27.6" textLength="81.17" lengthAdjust="spacingAndGlyphs">12.50</text>
<text class="t" x="946.12" y="1510.1" font-size="27.6" textLength="81.17" lengthAdjust="spacingAndGlyphs">12.50</text>
<text class="t" x="1044.66" y="893.0" font-size="27.6" textLength="37.68" lengthAdjust="spacingAndGlyphs">15</text>
<text class="t" x="1044.66" y="1510.1" font-size="27.6" textLength="37.68" lengthAdjust="spacingAndGlyphs">15</text>
<text class="t" x="1099.97" y="893.0" font-size="27.6" textLength="79.85" lengthAdjust="spacingAndGlyphs">17.50</text>
<text class="t" x="1099.97" y="1510.1" font-size="27.6" textLength="79.85" lengthAdjust="spacingAndGlyphs">17.50</text>
<text class="t" x="1196.67" y="893.0" font-size="27.6" textLength="37.26" lengthAdjust="spacingAndGlyphs">20</text>
<text class="t" x="1196.67" y="1510.1" font-size="27.6" textLength="37.26" lengthAdjust="spacingAndGlyphs">20</text>
<text class="t" transform="translate(905.1,936.37) rotate(-90)" font-size="27.6" textLength="31.15" lengthAdjust="spacingAndGlyphs">45</text>
<text class="t" transform="translate(905.1,1065.56) rotate(-90)" font-size="27.6" textLength="77.93" lengthAdjust="spacingAndGlyphs">42.50</text>
<text class="t" transform="translate(905.1,1146.83) rotate(-90)" font-size="27.6" textLength="33.25" lengthAdjust="spacingAndGlyphs">40</text>
<text class="t" transform="translate(905.1,1265.68) rotate(-90)" font-size="27.6" textLength="80.77" lengthAdjust="spacingAndGlyphs">37.50</text>
<text class="t" transform="translate(905.1,1336.76) rotate(-90)" font-size="27.6" textLength="38.33" lengthAdjust="spacingAndGlyphs">35</text>
<text class="t" transform="translate(905.1,1444.88) rotate(-90)" font-size="27.6" textLength="80.77" lengthAdjust="spacingAndGlyphs">32.50</text>
<text class="t" transform="translate(1307.4,903.22) rotate(90)" font-size="27.6" textLength="37.16" lengthAdjust="spacingAndGlyphs">45</text>
<text class="t" transform="translate(1307.4,980.29) rotate(90)" font-size="27.6" textLength="88.22" lengthAdjust="spacingAndGlyphs">42.50</text>
<text class="t" transform="translate(1307.4,1108.40) rotate(90)" font-size="27.6" textLength="37.41" lengthAdjust="spacingAndGlyphs">40</text>
<text class="t" transform="translate(1307.4,1185.25) rotate(90)" font-size="27.6" textLength="81.09" lengthAdjust="spacingAndGlyphs">37.50</text>
<text class="t" transform="translate(1307.4,1300.88) rotate(90)" font-size="27.6" textLength="39.25" lengthAdjust="spacingAndGlyphs">35</text>
<text class="t" transform="translate(1307.4,1369.86) rotate(90)" font-size="27.6" textLength="86.09" lengthAdjust="spacingAndGlyphs">32.50</text>
<text class="t" x="1405.05" y="939.5" font-size="27.6" textLength="45.29" lengthAdjust="spacingAndGlyphs">7.0</text>
<text class="t" x="1405.99" y="975.3" font-size="27.6" textLength="44.43" lengthAdjust="spacingAndGlyphs">6.0</text>
<text class="t" x="1405.05" y="1011.1" font-size="27.6" textLength="45.29" lengthAdjust="spacingAndGlyphs">5.0</text>
<text class="t" x="1406.00" y="1046.9" font-size="27.6" textLength="44.40" lengthAdjust="spacingAndGlyphs">4.0</text>
<text class="t" x="1405.05" y="1082.8" font-size="27.6" textLength="45.29" lengthAdjust="spacingAndGlyphs">3.0</text>
<text class="t" x="1405.07" y="1118.6" font-size="27.6" textLength="45.27" lengthAdjust="spacingAndGlyphs">2.0</text>
<text class="t" x="1404.07" y="1154.4" font-size="27.6" textLength="46.25" lengthAdjust="spacingAndGlyphs">1.0</text>
<text class="t" x="1405.99" y="1190.2" font-size="27.6" textLength="44.43" lengthAdjust="spacingAndGlyphs">0.0</text>
<text class="t" x="1405.07" y="1226.0" font-size="27.6" textLength="67.87" lengthAdjust="spacingAndGlyphs">−1.0</text>
<text class="t" x="1405.07" y="1261.8" font-size="27.6" textLength="67.87" lengthAdjust="spacingAndGlyphs">−2.0</text>
<text class="t" x="1405.07" y="1297.6" font-size="27.6" textLength="67.87" lengthAdjust="spacingAndGlyphs">−3.0</text>
<text class="t" x="1405.07" y="1333.4" font-size="27.6" textLength="67.87" lengthAdjust="spacingAndGlyphs">−4.0</text>
<text class="t" x="1405.07" y="1369.2" font-size="27.6" textLength="67.87" lengthAdjust="spacingAndGlyphs">−5.0</text>
<text class="t" x="1405.07" y="1405.0" font-size="27.6" textLength="67.87" lengthAdjust="spacingAndGlyphs">−6.0</text>
<text class="t" x="1405.07" y="1440.9" font-size="27.6" textLength="67.87" lengthAdjust="spacingAndGlyphs">−7.0</text>
<text class="t" x="1405.07" y="1476.7" font-size="27.6" textLength="67.87" lengthAdjust="spacingAndGlyphs">−8.0</text>
<text class="t" x="1336.61" y="884.6" font-size="27.6" textLength="81.78" lengthAdjust="spacingAndGlyphs">[mm]</text>
<text class="t" x="917.74" y="840.0" font-size="27.6" textLength="354.72" lengthAdjust="spacingAndGlyphs">RAMS ANL − RAMS CTRL</text>
</svg></body></html>
